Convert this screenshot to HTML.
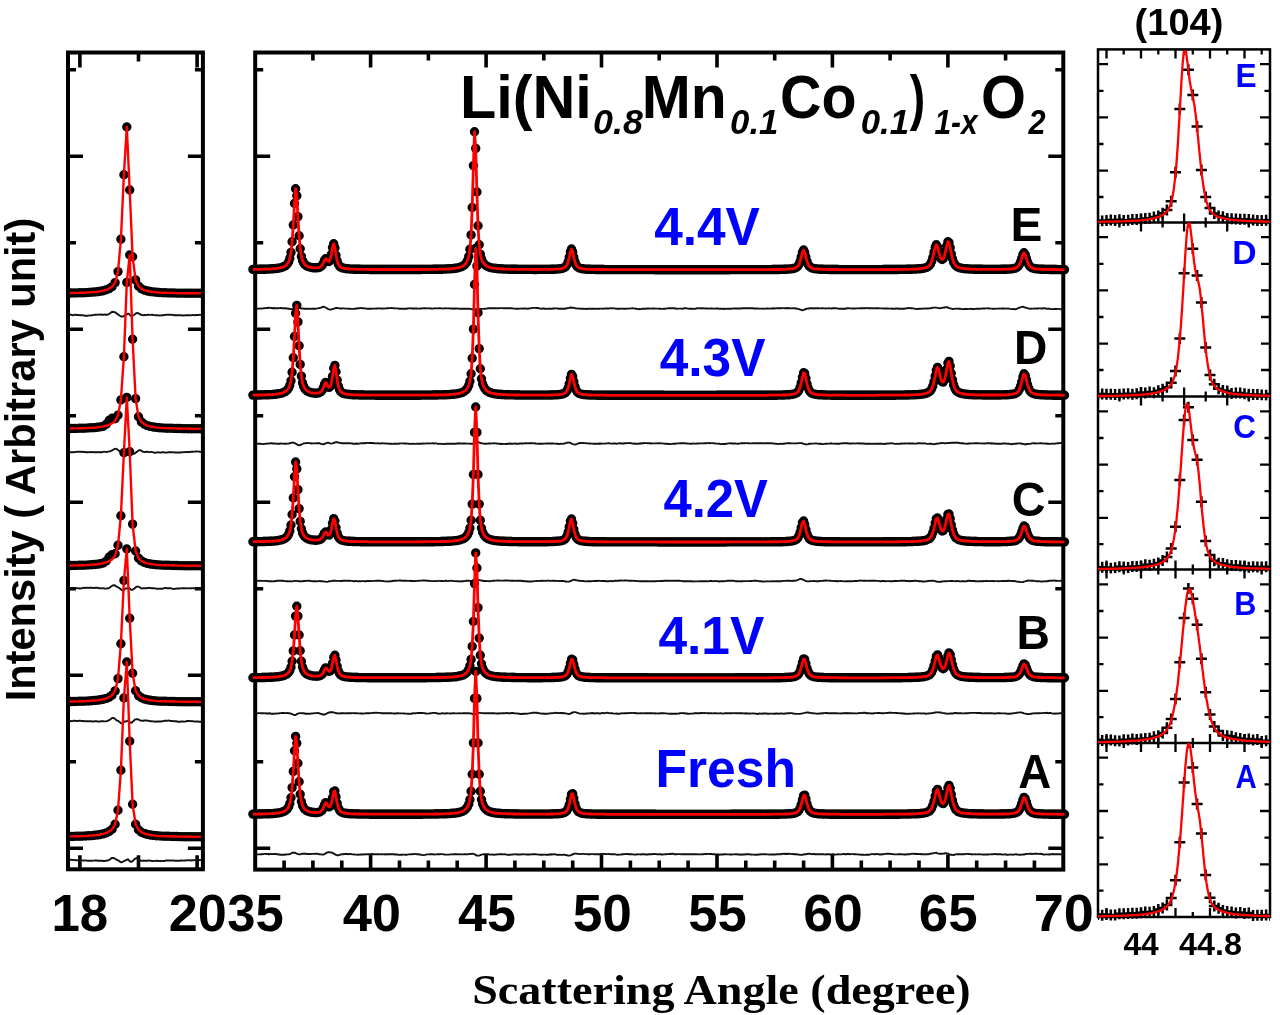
<!DOCTYPE html><html><head><meta charset="utf-8"><title>XRD</title><style>html,body{margin:0;padding:0;background:#fff;overflow:hidden}svg{display:block}text{font-family:"Liberation Sans",Arial,sans-serif;font-weight:bold}</style></head><body>
<svg width="1280" height="1015" viewBox="0 0 1280 1015">
<rect width="1280" height="1015" fill="#fff"/>
<path d="M255.2 69.8H263.2M1055.3 69.8H1063.3M255.2 156.3H270.2M1048.3 156.3H1063.3M255.2 242.8H263.2M1055.3 242.8H1063.3M255.2 329.3H270.2M1048.3 329.3H1063.3M255.2 415.8H263.2M1055.3 415.8H1063.3M255.2 502.3H270.2M1048.3 502.3H1063.3M255.2 588.8H263.2M1055.3 588.8H1063.3M255.2 675.3H270.2M1048.3 675.3H1063.3M255.2 761.8H263.2M1055.3 761.8H1063.3M255.2 848.3H270.2M1048.3 848.3H1063.3M284.1 869.6V860.6M312.9 869.6V860.6M341.8 869.6V860.6M370.6 869.6V854.6M399.5 869.6V860.6M428.4 869.6V860.6M457.2 869.6V860.6M486.1 869.6V854.6M514.9 869.6V860.6M543.8 869.6V860.6M572.7 869.6V860.6M601.5 869.6V854.6M630.4 869.6V860.6M659.2 869.6V860.6M688.1 869.6V860.6M717 869.6V854.6M745.8 869.6V860.6M774.7 869.6V860.6M803.6 869.6V860.6M832.4 869.6V854.6M861.3 869.6V860.6M890.1 869.6V860.6M919 869.6V860.6M947.9 869.6V854.6M976.7 869.6V860.6M1005.6 869.6V860.6M1034.4 869.6V860.6M312.9 52.5V60.5M370.6 52.5V67.5M428.4 52.5V60.5M486.1 52.5V67.5M543.8 52.5V60.5M601.5 52.5V67.5M659.2 52.5V60.5M717 52.5V67.5M774.7 52.5V60.5M832.4 52.5V67.5M890.1 52.5V60.5M947.9 52.5V67.5M1005.6 52.5V60.5" stroke="#000" stroke-width="3.6" fill="none"/>
<rect x="255.2" y="52.5" width="808.1" height="817.1" fill="none" stroke="#000" stroke-width="4"/>
<path d="M68 69.8H76M194.9 69.8H202.9M68 156.3H83M187.9 156.3H202.9M68 242.8H76M194.9 242.8H202.9M68 329.3H83M187.9 329.3H202.9M68 415.8H76M194.9 415.8H202.9M68 502.3H83M187.9 502.3H202.9M68 588.8H76M194.9 588.8H202.9M68 675.3H83M187.9 675.3H202.9M68 761.8H76M194.9 761.8H202.9M68 848.3H83M187.9 848.3H202.9M79.9 869.3V855.3M79.9 52.5V67.5M138.5 869.3V855.3M138.5 52.5V61.5M197.1 869.3V855.3M197.1 52.5V67.5" stroke="#000" stroke-width="3.6" fill="none"/>
<defs><clipPath id="cl"><rect x="68.0" y="52.5" width="134.9" height="816.8"/></clipPath></defs>
<g fill="none" stroke="#111" stroke-width="1.9" stroke-linejoin="round">
<polyline points="255.2,308.5 256.4,308.6 257.5,308.7 258.7,308.6 259.8,308.5 261,308.6 262.1,308.5 263.3,308.4 264.4,308.2 265.6,308.1 266.7,308 267.9,308 269.1,307.8 270.2,307.9 271.4,308 272.5,308.2 273.7,308 274.8,308.2 276,308.2 277.1,308.3 278.3,308.2 279.4,308.1 280.6,308 281.8,308.2 282.9,308.3 284.1,308.3 285.2,308.3 286.4,308.5 287.5,308.5 288.7,308.7 289.8,308.9 291,309 292.1,309.1 293.3,309.2 294.5,309 295.6,308.5 296.8,308.1 297.9,307.9 299.1,307.8 300.2,308.2 301.4,308.5 302.5,308.4 303.7,308.7 304.8,308.7 306,308.7 307.1,308.9 308.3,308.7 309.5,308.7 310.6,308.9 311.8,308.8 312.9,308.8 314.1,308.8 315.2,308.7 316.4,308.6 317.5,308.4 318.7,308.1 319.8,308 321,307.7 322.2,307.1 323.3,306.7 324.5,307 325.6,307.5 326.8,308.2 327.9,308.8 329.1,309.3 330.2,309.6 331.4,309.5 332.5,309 333.7,308.7 334.9,308.3 336,308 337.2,307.9 338.3,308.1 339.5,308.4 340.6,308.5 341.8,308.5 342.9,308.4 344.1,308.4 345.2,308.6 346.4,308.6 347.6,308.6 348.7,308.7 349.9,308.8 351,308.9 352.2,308.9 353.3,308.9 354.5,308.7 355.6,308.7 356.8,308.5 357.9,308.3 359.1,308.2 360.3,308.1 361.4,308 362.6,308.4 363.7,308.3 364.9,308.4 366,308.6 367.2,308.7 368.3,308.7 369.5,308.7 370.6,308.6 371.8,308.7 373,308.6 374.1,308.6 375.3,308.6 376.4,308.5 377.6,308.5 378.7,308.4 379.9,308.4 381,308.5 382.2,308.6 383.3,308.5 384.5,308.6 385.7,308.4 386.8,308.3 388,308.3 389.1,308.1 390.3,308.1 391.4,308 392.6,308.1 393.7,308.2 394.9,308.4 396,308.4 397.2,308.4 398.3,308.5 399.5,308.8 400.7,308.7 401.8,308.8 403,308.7 404.1,308.6 405.3,308.8 406.4,308.7 407.6,308.5 408.7,308.4 409.9,308.4 411,308.3 412.2,308.5 413.4,308.4 414.5,308.5 415.7,308.5 416.8,308.5 418,308.6 419.1,308.6 420.3,308.5 421.4,308.5 422.6,308.4 423.7,308.2 424.9,308.2 426.1,308.4 427.2,308.4 428.4,308.3 429.5,308.4 430.7,308.5 431.8,308.5 433,308.6 434.1,308.4 435.3,308.3 436.4,308.4 437.6,308.4 438.8,308.3 439.9,308.3 441.1,308.4 442.2,308.4 443.4,308.6 444.5,308.4 445.7,308.3 446.8,308.4 448,308.4 449.1,308.4 450.3,308.5 451.5,308.4 452.6,308.5 453.8,308.7 454.9,308.5 456.1,308.5 457.2,308.5 458.4,308.6 459.5,308.8 460.7,308.8 461.8,308.7 463,308.6 464.2,308.7 465.3,308.8 466.5,308.7 467.6,308.7 468.8,308.7 469.9,308.9 471.1,309.2 472.2,309.2 473.4,309.5 474.5,309.5 475.7,309.5 476.9,309.4 478,309.2 479.2,309.1 480.3,309.2 481.5,308.9 482.6,308.9 483.8,308.9 484.9,308.7 486.1,308.6 487.2,308.5 488.4,308.2 489.5,308.1 490.7,308.3 491.9,308.2 493,308.3 494.2,308.3 495.3,308.2 496.5,308.2 497.6,308.4 498.8,308.2 499.9,308.1 501.1,308.1 502.2,308.1 503.4,308.3 504.6,308.3 505.7,308.3 506.9,308.3 508,308.3 509.2,308.3 510.3,308.2 511.5,308.2 512.6,308.4 513.8,308.6 514.9,308.6 516.1,308.8 517.3,308.7 518.4,308.8 519.6,308.6 520.7,308.6 521.9,308.4 523,308.6 524.2,308.5 525.3,308.5 526.5,308.6 527.6,308.7 528.8,308.5 530,308.4 531.1,308.2 532.3,307.9 533.4,307.9 534.6,307.9 535.7,307.9 536.9,308 538,308 539.2,308.3 540.3,308.6 541.5,308.7 542.7,308.5 543.8,308.5 545,308.7 546.1,308.9 547.3,308.8 548.4,308.7 549.6,308.7 550.7,308.6 551.9,308.7 553,308.5 554.2,308.5 555.4,308.4 556.5,308.4 557.7,308.5 558.8,308.8 560,308.6 561.1,308.8 562.3,308.8 563.4,308.6 564.6,308.7 565.7,308.5 566.9,308.3 568.1,308.1 569.2,307.8 570.4,307.5 571.5,307.7 572.7,307.7 573.8,307.8 575,308.2 576.1,308.4 577.3,308.6 578.4,308.5 579.6,308.6 580.7,308.7 581.9,308.8 583.1,308.7 584.2,308.8 585.4,308.9 586.5,309 587.7,308.8 588.8,308.7 590,308.8 591.1,308.8 592.3,308.8 593.4,308.7 594.6,308.7 595.8,308.8 596.9,308.9 598.1,308.7 599.2,308.7 600.4,308.6 601.5,308.6 602.7,308.8 603.8,308.6 605,308.5 606.1,308.5 607.3,308.5 608.5,308.5 609.6,308.4 610.8,308.3 611.9,308.4 613.1,308.3 614.2,308.4 615.4,308.6 616.5,308.7 617.7,308.6 618.8,308.7 620,308.7 621.2,308.6 622.3,308.6 623.5,308.7 624.6,308.7 625.8,308.7 626.9,308.6 628.1,308.6 629.2,308.6 630.4,308.4 631.5,308.4 632.7,308.3 633.9,308.4 635,308.7 636.2,308.7 637.3,308.9 638.5,309.2 639.6,309 640.8,309.1 641.9,308.8 643.1,308.7 644.2,308.8 645.4,308.8 646.6,308.5 647.7,308.5 648.9,308.5 650,308.6 651.2,308.6 652.3,308.5 653.5,308.4 654.6,308.5 655.8,308.6 656.9,308.6 658.1,308.6 659.2,308.7 660.4,308.8 661.6,308.9 662.7,308.9 663.9,308.7 665,308.8 666.2,308.6 667.3,308.4 668.5,308.3 669.6,308.3 670.8,308.3 671.9,308.3 673.1,308.2 674.3,308.3 675.4,308.5 676.6,308.7 677.7,308.6 678.9,308.6 680,308.6 681.2,308.6 682.3,308.7 683.5,308.5 684.6,308.3 685.8,308.2 687,308.4 688.1,308.6 689.3,308.7 690.4,308.7 691.6,308.8 692.7,308.8 693.9,308.9 695,308.7 696.2,308.5 697.3,308.2 698.5,308.4 699.7,308.3 700.8,308.3 702,308.5 703.1,308.3 704.3,308.4 705.4,308.5 706.6,308.5 707.7,308.5 708.9,308.6 710,308.5 711.2,308.5 712.4,308.5 713.5,308.6 714.7,308.6 715.8,308.4 717,308.5 718.1,308.5 719.3,308.8 720.4,308.8 721.6,308.7 722.7,308.6 723.9,309 725.1,308.8 726.2,308.9 727.4,308.7 728.5,308.8 729.7,308.7 730.8,308.7 732,308.6 733.1,308.5 734.3,308.4 735.4,308.5 736.6,308.4 737.8,308.5 738.9,308.5 740.1,308.4 741.2,308.5 742.4,308.3 743.5,308.2 744.7,308.2 745.8,308.2 747,308.2 748.1,308.3 749.3,308.2 750.4,308.3 751.6,308.2 752.8,308.2 753.9,308.5 755.1,308.4 756.2,308.5 757.4,308.5 758.5,308.6 759.7,308.6 760.8,308.6 762,308.6 763.1,308.7 764.3,308.6 765.5,308.6 766.6,308.5 767.8,308.5 768.9,308.6 770.1,308.6 771.2,308.5 772.4,308.5 773.5,308.3 774.7,308.5 775.8,308.4 777,308.2 778.2,308.1 779.3,308.3 780.5,308.2 781.6,308.2 782.8,308.1 783.9,308.1 785.1,308.3 786.2,308.2 787.4,308 788.5,308.3 789.7,308.3 790.9,308.4 792,308.4 793.2,308.3 794.3,308.2 795.5,308.5 796.6,308.5 797.8,308.8 798.9,309.1 800.1,309.5 801.2,309.8 802.4,310.3 803.6,309.9 804.7,309.5 805.9,309 807,308.6 808.2,308.5 809.3,308.5 810.5,308.2 811.6,308.1 812.8,308.3 813.9,308.5 815.1,308.3 816.3,308.3 817.4,308.1 818.6,308.3 819.7,308.4 820.9,308.4 822,308.1 823.2,308.3 824.3,308.4 825.5,308.5 826.6,308.4 827.8,308.4 829,308.3 830.1,308.4 831.3,308.5 832.4,308.3 833.6,308.2 834.7,308.2 835.9,308.2 837,308.4 838.2,308.6 839.3,308.8 840.5,308.8 841.6,308.7 842.8,308.8 844,308.8 845.1,308.7 846.3,308.5 847.4,308.3 848.6,308.3 849.7,308.4 850.9,308.4 852,308.5 853.2,308.5 854.3,308.4 855.5,308.5 856.7,308.4 857.8,308.4 859,308.4 860.1,308.2 861.3,308.3 862.4,308.3 863.6,308.2 864.7,308.3 865.9,308 867,308.1 868.2,308.2 869.4,308.2 870.5,308.3 871.7,308.3 872.8,308.2 874,308.4 875.1,308.3 876.3,308.3 877.4,308.2 878.6,308.3 879.7,308.4 880.9,308.4 882.1,308.4 883.2,308.5 884.4,308.4 885.5,308.5 886.7,308.5 887.8,308.5 889,308.6 890.1,308.6 891.3,308.5 892.4,308.7 893.6,308.7 894.8,308.7 895.9,308.5 897.1,308.5 898.2,308.7 899.4,308.8 900.5,308.8 901.7,308.6 902.8,308.7 904,308.8 905.1,308.5 906.3,308.4 907.5,308.2 908.6,308 909.8,308.1 910.9,308.2 912.1,308.1 913.2,308.4 914.4,308.6 915.5,308.9 916.7,309 917.8,309 919,308.8 920.2,308.7 921.3,308.7 922.5,308.6 923.6,308.5 924.8,308.6 925.9,308.5 927.1,308.5 928.2,308.5 929.4,308.4 930.5,308.2 931.7,308 932.8,307.6 934,307.6 935.2,307.6 936.3,307.6 937.5,307.9 938.6,308.1 939.8,308.3 940.9,308.1 942.1,307.8 943.2,307.6 944.4,307.5 945.5,307.1 946.7,307.2 947.9,307.5 949,308.1 950.2,308.4 951.3,308.7 952.5,309 953.6,308.9 954.8,308.8 955.9,308.6 957.1,308.6 958.2,308.7 959.4,308.8 960.6,308.8 961.7,309.1 962.9,309.1 964,309 965.2,309 966.3,308.9 967.5,309 968.6,308.9 969.8,308.9 970.9,308.8 972.1,309 973.3,309 974.4,309.1 975.6,308.8 976.7,308.8 977.9,308.8 979,308.8 980.2,308.8 981.3,308.6 982.5,308.4 983.6,308.5 984.8,308.5 986,308.4 987.1,308.4 988.3,308.3 989.4,308.5 990.6,308.6 991.7,308.6 992.9,308.7 994,308.9 995.2,308.7 996.3,308.6 997.5,308.6 998.7,308.6 999.8,308.5 1001,308.6 1002.1,308.4 1003.3,308.5 1004.4,308.5 1005.6,308.6 1006.7,308.6 1007.9,308.5 1009,308.6 1010.2,308.9 1011.4,309.1 1012.5,309.1 1013.7,309 1014.8,309.2 1016,309.1 1017.1,308.7 1018.3,308.2 1019.4,307.7 1020.6,307.3 1021.7,306.9 1022.9,306.7 1024,307.1 1025.2,307.5 1026.4,307.9 1027.5,308.2 1028.7,308.5 1029.8,308.6 1031,308.8 1032.1,308.6 1033.3,308.6 1034.4,308.5 1035.6,308.6 1036.7,308.5 1037.9,308.5 1039.1,308.4 1040.2,308.4 1041.4,308.5 1042.5,308.5 1043.7,308.3 1044.8,308.2 1046,308.6 1047.1,308.7 1048.3,308.7 1049.4,308.7 1050.6,309.1 1051.8,309.1 1052.9,309.1 1054.1,309 1055.2,309 1056.4,309 1057.5,308.9 1058.7,308.9 1059.8,309.1 1061,309.2 1062.1,309.1 1063.3,308.9"/>
<polyline points="255.2,443.2 256.4,443.4 257.5,443.6 258.7,443.7 259.8,443.8 261,443.8 262.1,444.1 263.3,444.1 264.4,443.9 265.6,443.7 266.7,443.6 267.9,443.5 269.1,443.6 270.2,443.3 271.4,443.3 272.5,443.5 273.7,443.5 274.8,443.5 276,443.6 277.1,443.7 278.3,443.6 279.4,443.7 280.6,443.5 281.8,443.6 282.9,443.6 284.1,443.7 285.2,443.6 286.4,443.7 287.5,443.6 288.7,443.6 289.8,443.2 291,443 292.1,442.6 293.3,442.6 294.5,442.9 295.6,443.7 296.8,444.2 297.9,445 299.1,445.2 300.2,445 301.4,444.5 302.5,444 303.7,443.4 304.8,443.3 306,443.1 307.1,443 308.3,443.1 309.5,443.1 310.6,443.3 311.8,443.5 312.9,443.4 314.1,443.4 315.2,443.4 316.4,443.3 317.5,443.3 318.7,443.2 319.8,443.3 321,443.8 322.2,444.1 323.3,444.3 324.5,444 325.6,443.4 326.8,442.9 327.9,442.8 329.1,442.9 330.2,443.3 331.4,443.6 332.5,443.4 333.7,442.9 334.9,442.5 336,442.2 337.2,442.1 338.3,442.5 339.5,442.8 340.6,443.1 341.8,443.2 342.9,443.2 344.1,443.2 345.2,443.3 346.4,443.2 347.6,443.1 348.7,443.3 349.9,443.3 351,443.4 352.2,443.5 353.3,443.7 354.5,443.6 355.6,443.7 356.8,443.5 357.9,443.7 359.1,443.6 360.3,443.4 361.4,443.2 362.6,443.2 363.7,443.2 364.9,443.2 366,443 367.2,442.9 368.3,442.9 369.5,443 370.6,443 371.8,443 373,443 374.1,443.2 375.3,443.4 376.4,443.4 377.6,443.3 378.7,443.4 379.9,443.5 381,443.4 382.2,443.3 383.3,443.4 384.5,443.4 385.7,443.6 386.8,443.5 388,443.6 389.1,443.7 390.3,443.7 391.4,443.8 392.6,443.9 393.7,443.7 394.9,443.7 396,443.7 397.2,443.8 398.3,443.8 399.5,443.5 400.7,443.4 401.8,443.4 403,443.4 404.1,443.5 405.3,443.4 406.4,443.5 407.6,443.6 408.7,443.7 409.9,443.9 411,443.9 412.2,443.8 413.4,443.8 414.5,443.9 415.7,443.9 416.8,443.8 418,443.7 419.1,443.7 420.3,443.6 421.4,443.7 422.6,443.5 423.7,443.6 424.9,443.6 426.1,443.4 427.2,443.4 428.4,443.5 429.5,443.4 430.7,443.4 431.8,443.4 433,443.3 434.1,443.5 435.3,443.4 436.4,443.4 437.6,443.7 438.8,443.9 439.9,443.8 441.1,443.9 442.2,443.9 443.4,444 444.5,444.1 445.7,443.8 446.8,443.7 448,443.7 449.1,443.7 450.3,443.8 451.5,443.7 452.6,443.6 453.8,443.8 454.9,443.7 456.1,443.7 457.2,443.5 458.4,443.3 459.5,443.5 460.7,443.5 461.8,443.5 463,443.5 464.2,443.5 465.3,443.5 466.5,443.6 467.6,443.6 468.8,443.6 469.9,443.6 471.1,443.8 472.2,443.8 473.4,443.7 474.5,443.6 475.7,443 476.9,442.3 478,442.3 479.2,442.5 480.3,443 481.5,443.4 482.6,443.4 483.8,443.6 484.9,443.7 486.1,443.7 487.2,443.6 488.4,443.5 489.5,443.5 490.7,443.5 491.9,443.4 493,443.4 494.2,443.3 495.3,443.4 496.5,443.5 497.6,443.6 498.8,443.7 499.9,443.8 501.1,444 502.2,444 503.4,443.9 504.6,443.9 505.7,444 506.9,444 508,443.8 509.2,443.5 510.3,443.7 511.5,443.7 512.6,443.7 513.8,443.6 514.9,443.5 516.1,443.7 517.3,443.8 518.4,443.8 519.6,443.5 520.7,443.5 521.9,443.4 523,443.5 524.2,443.4 525.3,443.3 526.5,443.3 527.6,443.4 528.8,443.3 530,443.2 531.1,443.1 532.3,443.2 533.4,443.4 534.6,443.3 535.7,443.5 536.9,443.6 538,443.7 539.2,443.8 540.3,443.8 541.5,443.7 542.7,443.7 543.8,443.6 545,443.6 546.1,443.5 547.3,443.5 548.4,443.4 549.6,443.5 550.7,443.4 551.9,443.5 553,443.5 554.2,443.6 555.4,443.6 556.5,443.7 557.7,443.8 558.8,444 560,443.9 561.1,443.8 562.3,443.9 563.4,443.6 564.6,443.5 565.7,443.1 566.9,442.7 568.1,442.6 569.2,442.5 570.4,442.9 571.5,443.5 572.7,444.1 573.8,444.4 575,444.6 576.1,444.2 577.3,443.8 578.4,443.4 579.6,443 580.7,442.9 581.9,443.1 583.1,442.9 584.2,443.1 585.4,443.1 586.5,443.3 587.7,443.4 588.8,443.5 590,443.4 591.1,443.6 592.3,443.6 593.4,443.7 594.6,443.6 595.8,443.7 596.9,443.7 598.1,443.7 599.2,443.5 600.4,443.7 601.5,443.5 602.7,443.6 603.8,443.6 605,443.6 606.1,443.4 607.3,443.4 608.5,443.1 609.6,443.3 610.8,443.6 611.9,443.6 613.1,443.5 614.2,443.5 615.4,443.5 616.5,443.7 617.7,443.6 618.8,443.3 620,443.3 621.2,443.5 622.3,443.5 623.5,443.5 624.6,443.3 625.8,443.3 626.9,443.1 628.1,443.1 629.2,443 630.4,443.1 631.5,443.3 632.7,443.6 633.9,443.5 635,443.8 636.2,443.8 637.3,443.8 638.5,443.7 639.6,443.5 640.8,443.3 641.9,443.5 643.1,443.2 644.2,443 645.4,443.1 646.6,443.1 647.7,443.2 648.9,443.3 650,443.2 651.2,443.5 652.3,443.4 653.5,443.4 654.6,443.4 655.8,443.4 656.9,443.4 658.1,443.3 659.2,443.2 660.4,443.4 661.6,443.4 662.7,443.4 663.9,443.6 665,443.8 666.2,443.7 667.3,443.8 668.5,444 669.6,444 670.8,444.1 671.9,443.9 673.1,443.6 674.3,443.7 675.4,443.7 676.6,443.5 677.7,443.4 678.9,443.4 680,443.3 681.2,443.3 682.3,443.3 683.5,443.3 684.6,443.3 685.8,443.4 687,443.5 688.1,443.6 689.3,443.6 690.4,443.7 691.6,443.7 692.7,443.6 693.9,443.5 695,443.6 696.2,443.6 697.3,443.5 698.5,443.5 699.7,443.4 700.8,443.4 702,443.4 703.1,443.4 704.3,443.3 705.4,443.2 706.6,443.2 707.7,443.1 708.9,443 710,443.2 711.2,443.1 712.4,443.1 713.5,443.2 714.7,443.4 715.8,443.6 717,443.6 718.1,443.6 719.3,443.8 720.4,444 721.6,444.1 722.7,444 723.9,444 725.1,444 726.2,443.8 727.4,443.6 728.5,443.4 729.7,443.4 730.8,443.3 732,443.5 733.1,443.5 734.3,443.5 735.4,443.5 736.6,443.6 737.8,443.7 738.9,443.7 740.1,443.4 741.2,443.3 742.4,443.3 743.5,443.3 744.7,443.3 745.8,443.1 747,443.1 748.1,443.2 749.3,443.4 750.4,443.4 751.6,443.4 752.8,443.2 753.9,443.2 755.1,443.4 756.2,443.2 757.4,443.1 758.5,443.2 759.7,443.2 760.8,443.2 762,443.3 763.1,443.2 764.3,443.4 765.5,443.2 766.6,443.2 767.8,443.2 768.9,443.2 770.1,443.2 771.2,443.3 772.4,443.4 773.5,443.5 774.7,443.6 775.8,443.7 777,443.9 778.2,444 779.3,443.9 780.5,443.8 781.6,443.9 782.8,443.7 783.9,443.7 785.1,443.5 786.2,443.4 787.4,443.2 788.5,443.2 789.7,443.1 790.9,443.3 792,443.4 793.2,443.4 794.3,443.4 795.5,443.4 796.6,443.4 797.8,443.3 798.9,443.1 800.1,443.1 801.2,443.1 802.4,443.3 803.6,443.8 804.7,444.1 805.9,444.3 807,444.4 808.2,444.2 809.3,443.7 810.5,443.7 811.6,443.6 812.8,443.6 813.9,443.6 815.1,443.4 816.3,443.4 817.4,443.6 818.6,443.7 819.7,443.7 820.9,443.8 822,444 823.2,444.1 824.3,443.9 825.5,443.8 826.6,443.8 827.8,443.6 829,443.6 830.1,443.5 831.3,443.3 832.4,443.6 833.6,443.6 834.7,443.6 835.9,443.7 837,443.8 838.2,443.8 839.3,443.7 840.5,443.5 841.6,443.4 842.8,443.3 844,443.2 845.1,443.3 846.3,443.2 847.4,443.3 848.6,443.5 849.7,443.5 850.9,443.5 852,443.5 853.2,443.4 854.3,443.4 855.5,443.6 856.7,443.4 857.8,443.3 859,443.5 860.1,443.5 861.3,443.4 862.4,443.5 863.6,443.4 864.7,443.7 865.9,443.7 867,443.8 868.2,443.8 869.4,443.8 870.5,443.8 871.7,443.9 872.8,443.8 874,443.9 875.1,443.7 876.3,443.7 877.4,443.7 878.6,443.7 879.7,443.8 880.9,443.7 882.1,443.7 883.2,443.9 884.4,444 885.5,443.8 886.7,443.7 887.8,443.4 889,443.5 890.1,443.4 891.3,443.3 892.4,443.4 893.6,443.6 894.8,443.8 895.9,443.9 897.1,443.8 898.2,443.9 899.4,443.8 900.5,443.7 901.7,443.5 902.8,443.6 904,443.4 905.1,443.5 906.3,443.4 907.5,443.4 908.6,443.5 909.8,443.5 910.9,443.4 912.1,443.5 913.2,443.5 914.4,443.6 915.5,443.6 916.7,443.5 917.8,443.3 919,443.2 920.2,443.3 921.3,443.4 922.5,443.5 923.6,443.4 924.8,443.3 925.9,443.6 927.1,443.9 928.2,443.9 929.4,443.8 930.5,443.7 931.7,443.8 932.8,444.2 934,444.1 935.2,444 936.3,443.8 937.5,443.5 938.6,443.6 939.8,443.3 940.9,443 942.1,443.1 943.2,443.1 944.4,443.2 945.5,443.3 946.7,443.1 947.9,443 949,443 950.2,442.9 951.3,442.7 952.5,442.7 953.6,442.7 954.8,442.7 955.9,442.8 957.1,442.7 958.2,442.8 959.4,443 960.6,443.3 961.7,443.2 962.9,443.3 964,443.5 965.2,443.6 966.3,443.6 967.5,443.7 968.6,443.5 969.8,443.5 970.9,443.4 972.1,443.4 973.3,443.4 974.4,443.3 975.6,443.1 976.7,443.2 977.9,443.3 979,443.4 980.2,443.4 981.3,443.4 982.5,443.4 983.6,443.5 984.8,443.5 986,443.4 987.1,443.2 988.3,443.1 989.4,443.2 990.6,443.5 991.7,443.3 992.9,443.5 994,443.4 995.2,443.7 996.3,443.8 997.5,443.8 998.7,443.7 999.8,443.8 1001,443.6 1002.1,443.7 1003.3,443.4 1004.4,443.5 1005.6,443.5 1006.7,443.6 1007.9,443.7 1009,443.7 1010.2,443.9 1011.4,444.3 1012.5,444 1013.7,443.9 1014.8,443.7 1016,443.7 1017.1,443.5 1018.3,443.4 1019.4,443.4 1020.6,443.5 1021.7,443.7 1022.9,443.9 1024,444.2 1025.2,444.2 1026.4,444.2 1027.5,444 1028.7,443.9 1029.8,443.9 1031,443.6 1032.1,443.4 1033.3,443.3 1034.4,443.2 1035.6,443.5 1036.7,443.4 1037.9,443.4 1039.1,443.4 1040.2,443.3 1041.4,443.3 1042.5,443.4 1043.7,443.5 1044.8,443.6 1046,443.5 1047.1,443.7 1048.3,443.7 1049.4,443.9 1050.6,443.8 1051.8,443.6 1052.9,443.6 1054.1,443.7 1055.2,443.6 1056.4,443.4 1057.5,443.3 1058.7,443.2 1059.8,443.1 1061,443 1062.1,443.1 1063.3,443.1"/>
<polyline points="255.2,580.8 256.4,580.7 257.5,580.8 258.7,580.9 259.8,580.7 261,580.9 262.1,580.9 263.3,580.9 264.4,580.9 265.6,580.9 266.7,581 267.9,581.1 269.1,581.3 270.2,581.3 271.4,581.3 272.5,581.4 273.7,581.3 274.8,581.2 276,581 277.1,580.8 278.3,580.7 279.4,580.7 280.6,580.7 281.8,580.8 282.9,580.7 284.1,581 285.2,581.1 286.4,581.3 287.5,581.2 288.7,581.4 289.8,581.3 291,581.4 292.1,581.4 293.3,581.1 294.5,580.9 295.6,580.9 296.8,580.9 297.9,581.1 299.1,581.3 300.2,581.1 301.4,581.4 302.5,581.2 303.7,581 304.8,581 306,580.9 307.1,580.8 308.3,580.9 309.5,580.7 310.6,581 311.8,581.1 312.9,581.3 314.1,581.2 315.2,581.2 316.4,581.2 317.5,581.4 318.7,581.1 319.8,581 321,581.3 322.2,581.2 323.3,581.4 324.5,581.6 325.6,581.6 326.8,581.9 327.9,581.6 329.1,581.2 330.2,581.3 331.4,581.1 332.5,580.8 333.7,580.8 334.9,580.6 336,580.9 337.2,580.9 338.3,580.9 339.5,580.9 340.6,581 341.8,581 342.9,580.8 344.1,580.7 345.2,580.7 346.4,580.6 347.6,580.8 348.7,580.7 349.9,580.6 351,580.9 352.2,580.9 353.3,581.2 354.5,581.3 355.6,581 356.8,581.1 357.9,581.3 359.1,581.3 360.3,581.3 361.4,581.1 362.6,581.1 363.7,581.1 364.9,581.3 366,581.2 367.2,581 368.3,581 369.5,581 370.6,581.1 371.8,581.1 373,580.9 374.1,580.9 375.3,580.9 376.4,580.8 377.6,580.8 378.7,580.7 379.9,580.7 381,580.9 382.2,581 383.3,581.1 384.5,581.4 385.7,581.4 386.8,581.4 388,581.5 389.1,581.4 390.3,581.3 391.4,581.3 392.6,581 393.7,580.8 394.9,580.8 396,580.7 397.2,580.6 398.3,580.6 399.5,580.5 400.7,580.5 401.8,580.7 403,580.7 404.1,580.7 405.3,580.7 406.4,580.8 407.6,580.9 408.7,580.9 409.9,580.8 411,581 412.2,580.9 413.4,581 414.5,581.1 415.7,581 416.8,580.9 418,580.9 419.1,580.7 420.3,580.6 421.4,580.6 422.6,580.5 423.7,580.4 424.9,580.5 426.1,580.6 427.2,580.7 428.4,580.8 429.5,580.9 430.7,581.1 431.8,581.1 433,581.1 434.1,581.1 435.3,581 436.4,581.1 437.6,581.1 438.8,580.9 439.9,580.9 441.1,581 442.2,581 443.4,581.1 444.5,581 445.7,580.8 446.8,580.8 448,581.1 449.1,580.9 450.3,580.9 451.5,580.8 452.6,580.9 453.8,581.1 454.9,581.1 456.1,581.1 457.2,581.2 458.4,581.3 459.5,581.4 460.7,581.5 461.8,581.3 463,581.3 464.2,581.1 465.3,581 466.5,580.7 467.6,580.8 468.8,580.7 469.9,580.9 471.1,581 472.2,581.1 473.4,581.1 474.5,580.9 475.7,580.2 476.9,579.9 478,579.9 479.2,580.1 480.3,580.4 481.5,580.5 482.6,580.7 483.8,581 484.9,580.9 486.1,581 487.2,581.1 488.4,581.1 489.5,581.2 490.7,581.1 491.9,580.9 493,580.8 494.2,580.7 495.3,580.6 496.5,580.6 497.6,580.5 498.8,580.4 499.9,580.6 501.1,580.6 502.2,580.6 503.4,580.6 504.6,580.5 505.7,580.4 506.9,580.5 508,580.5 509.2,580.6 510.3,580.7 511.5,580.7 512.6,580.7 513.8,580.8 514.9,580.9 516.1,580.7 517.3,580.8 518.4,580.7 519.6,580.7 520.7,580.8 521.9,581 523,581 524.2,581.2 525.3,581.1 526.5,581.3 527.6,581.5 528.8,581.4 530,581.5 531.1,581.5 532.3,581.4 533.4,581.3 534.6,581.1 535.7,581.1 536.9,581 538,580.9 539.2,580.9 540.3,581 541.5,580.8 542.7,580.9 543.8,580.8 545,580.9 546.1,580.8 547.3,580.6 548.4,580.6 549.6,580.8 550.7,580.9 551.9,580.6 553,580.8 554.2,580.7 555.4,581 556.5,580.9 557.7,580.9 558.8,581 560,581.1 561.1,581 562.3,581 563.4,580.9 564.6,581.2 565.7,581.7 566.9,581.6 568.1,581.6 569.2,581.5 570.4,581.1 571.5,580.6 572.7,580.1 573.8,579.7 575,579.9 576.1,580.3 577.3,580.4 578.4,580.7 579.6,580.7 580.7,580.9 581.9,581 583.1,580.9 584.2,581.1 585.4,581.4 586.5,581.4 587.7,581.3 588.8,581.2 590,581.3 591.1,581.3 592.3,581.1 593.4,581.1 594.6,581 595.8,581 596.9,581 598.1,580.8 599.2,580.9 600.4,580.9 601.5,581 602.7,581 603.8,581 605,581 606.1,581.2 607.3,581.2 608.5,581.3 609.6,581.1 610.8,581 611.9,581.2 613.1,581.1 614.2,580.8 615.4,580.8 616.5,580.7 617.7,580.7 618.8,580.7 620,580.5 621.2,580.5 622.3,580.6 623.5,580.6 624.6,580.4 625.8,580.5 626.9,580.5 628.1,580.6 629.2,580.7 630.4,580.7 631.5,580.6 632.7,580.9 633.9,580.8 635,580.9 636.2,581 637.3,581.1 638.5,581.1 639.6,581.3 640.8,581.1 641.9,581.3 643.1,581.2 644.2,581.1 645.4,581.2 646.6,581.2 647.7,581.1 648.9,581.4 650,581.3 651.2,581.3 652.3,581.4 653.5,581.2 654.6,581.2 655.8,581.3 656.9,581.1 658.1,581 659.2,581.1 660.4,581 661.6,581 662.7,581 663.9,580.7 665,580.7 666.2,580.7 667.3,580.7 668.5,580.7 669.6,580.7 670.8,580.7 671.9,580.9 673.1,580.8 674.3,580.7 675.4,580.7 676.6,580.7 677.7,580.7 678.9,580.6 680,580.8 681.2,580.9 682.3,581.2 683.5,581.3 684.6,581.1 685.8,581.3 687,581.3 688.1,581.3 689.3,581.2 690.4,581.2 691.6,581.3 692.7,581.5 693.9,581.4 695,581.4 696.2,581.4 697.3,581.4 698.5,581.4 699.7,581.2 700.8,581.3 702,581.3 703.1,581.3 704.3,581.3 705.4,581.2 706.6,581.3 707.7,581.4 708.9,581.1 710,581 711.2,580.9 712.4,581.1 713.5,581.2 714.7,581.1 715.8,581 717,581.1 718.1,581.3 719.3,581.5 720.4,581.2 721.6,581.2 722.7,581.2 723.9,581.2 725.1,581.1 726.2,581.1 727.4,580.7 728.5,580.8 729.7,580.8 730.8,580.7 732,580.7 733.1,580.8 734.3,580.9 735.4,581.2 736.6,581.3 737.8,581.2 738.9,581.3 740.1,581.4 741.2,581.2 742.4,581.2 743.5,581.1 744.7,581.1 745.8,581.1 747,581.1 748.1,581.1 749.3,581.1 750.4,581 751.6,581 752.8,580.9 753.9,580.8 755.1,580.8 756.2,580.8 757.4,580.9 758.5,581.1 759.7,581.2 760.8,581.2 762,581.5 763.1,581.5 764.3,581.6 765.5,581.4 766.6,581.3 767.8,581.4 768.9,581.4 770.1,581.4 771.2,581.3 772.4,581.4 773.5,581.2 774.7,581.4 775.8,581.2 777,581.2 778.2,581.1 779.3,581.3 780.5,581.1 781.6,581.2 782.8,580.9 783.9,580.9 785.1,580.9 786.2,580.8 787.4,580.7 788.5,580.7 789.7,580.7 790.9,580.9 792,581 793.2,580.8 794.3,580.7 795.5,580.6 796.6,580.4 797.8,580 798.9,579.5 800.1,578.9 801.2,579 802.4,579.3 803.6,579.9 804.7,580.5 805.9,581.1 807,581.3 808.2,581.4 809.3,581.3 810.5,581.1 811.6,581.1 812.8,581.1 813.9,581 815.1,581.1 816.3,581.2 817.4,581.3 818.6,581.2 819.7,581 820.9,580.9 822,580.9 823.2,580.8 824.3,580.7 825.5,580.5 826.6,580.4 827.8,580.6 829,580.6 830.1,580.7 831.3,580.9 832.4,580.9 833.6,581 834.7,581.1 835.9,581 837,581.2 838.2,581.2 839.3,581.1 840.5,581 841.6,581.1 842.8,581.1 844,581.4 845.1,581.4 846.3,581.2 847.4,581.3 848.6,581.2 849.7,581.2 850.9,581.2 852,581.2 853.2,581.1 854.3,581 855.5,580.9 856.7,581 857.8,580.9 859,580.8 860.1,580.5 861.3,580.6 862.4,580.7 863.6,580.7 864.7,580.8 865.9,580.8 867,580.9 868.2,580.8 869.4,580.7 870.5,580.8 871.7,580.7 872.8,580.6 874,580.7 875.1,580.7 876.3,580.9 877.4,580.9 878.6,580.9 879.7,581.2 880.9,581.2 882.1,581 883.2,580.9 884.4,581 885.5,581.2 886.7,581.1 887.8,581.1 889,581.1 890.1,581.2 891.3,581.3 892.4,581.3 893.6,581 894.8,581 895.9,581 897.1,581 898.2,580.9 899.4,580.9 900.5,580.8 901.7,580.7 902.8,580.7 904,580.6 905.1,580.7 906.3,581 907.5,581 908.6,581 909.8,581.2 910.9,581 912.1,580.9 913.2,581 914.4,580.8 915.5,580.7 916.7,580.9 917.8,581 919,581.2 920.2,581.3 921.3,581.3 922.5,581.5 923.6,581.5 924.8,581.5 925.9,581.4 927.1,581.2 928.2,581 929.4,580.9 930.5,580.8 931.7,580.9 932.8,580.7 934,580.9 935.2,581.1 936.3,581.5 937.5,581.7 938.6,581.9 939.8,581.7 940.9,581.7 942.1,581.5 943.2,581.4 944.4,581.2 945.5,581.1 946.7,581.2 947.9,581.1 949,581.1 950.2,581 951.3,581 952.5,580.9 953.6,581.1 954.8,581.1 955.9,581.2 957.1,581 958.2,581.1 959.4,581.2 960.6,581.4 961.7,581.3 962.9,581.2 964,581.2 965.2,581.4 966.3,581.2 967.5,581 968.6,580.8 969.8,580.8 970.9,581 972.1,581 973.3,580.9 974.4,581 975.6,581.3 976.7,581.3 977.9,581.4 979,581.3 980.2,581.3 981.3,581.3 982.5,581.3 983.6,581 984.8,581.1 986,580.9 987.1,581 988.3,581.1 989.4,581.1 990.6,581 991.7,581.1 992.9,581 994,581.2 995.2,581.1 996.3,581.1 997.5,581.1 998.7,581.2 999.8,581.1 1001,581.1 1002.1,581 1003.3,581 1004.4,581 1005.6,581.1 1006.7,580.8 1007.9,581 1009,580.8 1010.2,580.8 1011.4,581.1 1012.5,581 1013.7,580.9 1014.8,581.2 1016,581.3 1017.1,581.6 1018.3,581.9 1019.4,581.8 1020.6,582.1 1021.7,582.1 1022.9,582 1024,581.7 1025.2,581.4 1026.4,580.9 1027.5,580.7 1028.7,580.5 1029.8,580.6 1031,580.8 1032.1,580.7 1033.3,580.8 1034.4,580.9 1035.6,581.1 1036.7,581.2 1037.9,581.3 1039.1,581.3 1040.2,581.4 1041.4,581.5 1042.5,581.6 1043.7,581.3 1044.8,581.4 1046,581.3 1047.1,581.2 1048.3,581 1049.4,580.8 1050.6,580.6 1051.8,580.7 1052.9,580.6 1054.1,580.5 1055.2,580.7 1056.4,580.8 1057.5,580.9 1058.7,580.9 1059.8,580.9 1061,580.8 1062.1,580.8 1063.3,580.7"/>
<polyline points="255.2,713.4 256.4,713.1 257.5,713.4 258.7,713.1 259.8,713.1 261,713.3 262.1,713.2 263.3,713.3 264.4,713.4 265.6,713.2 266.7,713.5 267.9,713.5 269.1,713.3 270.2,713.5 271.4,713.7 272.5,713.7 273.7,713.7 274.8,713.6 276,713.5 277.1,713.6 278.3,713.4 279.4,713.3 280.6,713.1 281.8,713 282.9,713 284.1,713 285.2,713.1 286.4,713.1 287.5,712.9 288.7,713.3 289.8,713.3 291,713.7 292.1,714.1 293.3,714.6 294.5,715 295.6,715 296.8,714.2 297.9,713.6 299.1,713.3 300.2,713.1 301.4,713.1 302.5,713.2 303.7,713.3 304.8,713.5 306,713.7 307.1,713.8 308.3,713.7 309.5,713.7 310.6,713.6 311.8,713.5 312.9,713.4 314.1,713.3 315.2,713.1 316.4,713.1 317.5,712.9 318.7,713.1 319.8,713.5 321,713.8 322.2,714.3 323.3,714.5 324.5,714.5 325.6,714.3 326.8,713.5 327.9,712.8 329.1,712.5 330.2,712.3 331.4,712.2 332.5,712.3 333.7,712.4 334.9,712.8 336,713.2 337.2,713.3 338.3,713.4 339.5,713.5 340.6,713.3 341.8,713.3 342.9,713.2 344.1,713.3 345.2,713.4 346.4,713.3 347.6,713.3 348.7,713.3 349.9,713.3 351,713.2 352.2,713.1 353.3,713.1 354.5,713.2 355.6,713.2 356.8,713.3 357.9,713.4 359.1,713.4 360.3,713.5 361.4,713.4 362.6,713.5 363.7,713.6 364.9,713.4 366,713.2 367.2,713.2 368.3,713.2 369.5,713.2 370.6,713.1 371.8,713.1 373,712.8 374.1,712.9 375.3,712.8 376.4,712.8 377.6,712.9 378.7,712.9 379.9,712.9 381,713.2 382.2,713.2 383.3,713.3 384.5,713.3 385.7,713.1 386.8,713.2 388,713.2 389.1,713.3 390.3,713.3 391.4,713.3 392.6,713.4 393.7,713.5 394.9,713.5 396,713.5 397.2,713.3 398.3,713.3 399.5,713.4 400.7,713.4 401.8,713.4 403,713.4 404.1,713.5 405.3,713.6 406.4,713.6 407.6,713.7 408.7,713.8 409.9,713.9 411,713.7 412.2,713.5 413.4,713.3 414.5,713.4 415.7,713.2 416.8,713.1 418,713 419.1,712.9 420.3,713 421.4,712.9 422.6,713 423.7,713.1 424.9,713.3 426.1,713.5 427.2,713.6 428.4,713.6 429.5,713.4 430.7,713.2 431.8,713.1 433,712.9 434.1,712.9 435.3,713 436.4,713.1 437.6,713.5 438.8,713.7 439.9,713.6 441.1,713.5 442.2,713.3 443.4,713.4 444.5,713.5 445.7,713.5 446.8,713.3 448,713.4 449.1,713.4 450.3,713.5 451.5,713.4 452.6,713.3 453.8,713.2 454.9,713.4 456.1,713.4 457.2,713.4 458.4,713.4 459.5,713.3 460.7,713.4 461.8,713.4 463,713.3 464.2,713.3 465.3,713.2 466.5,713.2 467.6,713.2 468.8,713.2 469.9,713.4 471.1,713.5 472.2,713.9 473.4,714.3 474.5,714.3 475.7,714 476.9,713.5 478,712.9 479.2,712.9 480.3,712.9 481.5,713.1 482.6,713.1 483.8,713.3 484.9,713.3 486.1,713.3 487.2,713.2 488.4,713.2 489.5,713.2 490.7,713.3 491.9,713.2 493,713.1 494.2,713.2 495.3,713.4 496.5,713.5 497.6,713.5 498.8,713.5 499.9,713.3 501.1,713.4 502.2,713.3 503.4,713.2 504.6,713.2 505.7,713.1 506.9,713 508,713.3 509.2,713.2 510.3,713.3 511.5,713 512.6,713 513.8,713.2 514.9,713.4 516.1,713.4 517.3,713.5 518.4,713.6 519.6,713.8 520.7,714 521.9,714 523,713.8 524.2,713.8 525.3,713.8 526.5,713.7 527.6,713.6 528.8,713.4 530,713.1 531.1,713.1 532.3,712.8 533.4,712.8 534.6,712.8 535.7,712.6 536.9,712.8 538,713 539.2,713.1 540.3,713.5 541.5,713.6 542.7,713.5 543.8,713.8 545,713.7 546.1,713.7 547.3,713.8 548.4,713.6 549.6,713.3 550.7,713.4 551.9,713.2 553,713.1 554.2,713 555.4,712.8 556.5,712.9 557.7,713 558.8,713.1 560,713 561.1,712.9 562.3,713 563.4,713.2 564.6,713.1 565.7,713.4 566.9,713.6 568.1,713.9 569.2,714 570.4,713.7 571.5,713 572.7,712.5 573.8,712.1 575,712.1 576.1,712.4 577.3,712.8 578.4,713.2 579.6,713.5 580.7,713.6 581.9,713.6 583.1,713.7 584.2,713.8 585.4,713.7 586.5,713.4 587.7,713.5 588.8,713.4 590,713.3 591.1,713.2 592.3,713 593.4,713.2 594.6,713.5 595.8,713.2 596.9,713.2 598.1,713.3 599.2,713.5 600.4,713.5 601.5,713.1 602.7,713 603.8,713.2 605,713.1 606.1,712.9 607.3,712.8 608.5,713 609.6,713.1 610.8,713.2 611.9,713.1 613.1,713.4 614.2,713.6 615.4,713.6 616.5,713.5 617.7,713.7 618.8,713.6 620,713.7 621.2,713.4 622.3,713.2 623.5,713.4 624.6,713.3 625.8,713.2 626.9,713.3 628.1,713.1 629.2,713 630.4,713.1 631.5,712.9 632.7,712.9 633.9,713.1 635,713 636.2,713.2 637.3,713.4 638.5,713.3 639.6,713.4 640.8,713.3 641.9,713.3 643.1,713.4 644.2,713.3 645.4,713.2 646.6,713.3 647.7,713.2 648.9,713.3 650,713.2 651.2,713.1 652.3,713.2 653.5,713.4 654.6,713.3 655.8,713.5 656.9,713.4 658.1,713.4 659.2,713.5 660.4,713.3 661.6,713.2 662.7,713.2 663.9,713.3 665,713.4 666.2,713.4 667.3,713.6 668.5,713.6 669.6,713.7 670.8,713.8 671.9,713.7 673.1,713.8 674.3,713.8 675.4,713.6 676.6,713.7 677.7,713.6 678.9,713.5 680,713.2 681.2,713.1 682.3,713.1 683.5,713.3 684.6,713.3 685.8,713.5 687,713.5 688.1,713.9 689.3,713.7 690.4,713.6 691.6,713.6 692.7,713.6 693.9,713.3 695,713.3 696.2,713.2 697.3,713.2 698.5,713.3 699.7,713.2 700.8,713 702,713 703.1,713.1 704.3,713 705.4,713.1 706.6,713.1 707.7,713.2 708.9,713.2 710,713.3 711.2,713.2 712.4,713.4 713.5,713.3 714.7,713.1 715.8,713.2 717,713.4 718.1,713.4 719.3,713.4 720.4,713.3 721.6,713.4 722.7,713.6 723.9,713.4 725.1,713.3 726.2,713.2 727.4,713.2 728.5,713.2 729.7,713.2 730.8,713.1 732,713.2 733.1,713.1 734.3,713.1 735.4,713.2 736.6,713.2 737.8,713.3 738.9,713.3 740.1,713.1 741.2,713.2 742.4,713.3 743.5,713.4 744.7,713.5 745.8,713.3 747,713.5 748.1,713.5 749.3,713.4 750.4,713.6 751.6,713.4 752.8,713.4 753.9,713.5 755.1,713.6 756.2,713.7 757.4,714 758.5,713.7 759.7,713.5 760.8,713.6 762,713.7 763.1,713.5 764.3,713.5 765.5,713.4 766.6,713.5 767.8,713.7 768.9,713.7 770.1,713.6 771.2,713.6 772.4,713.6 773.5,713.7 774.7,713.8 775.8,713.5 777,713.5 778.2,713.7 779.3,713.6 780.5,713.5 781.6,713.5 782.8,713.6 783.9,713.7 785.1,713.5 786.2,713.4 787.4,713.3 788.5,713.2 789.7,713.2 790.9,713.1 792,713.1 793.2,713.6 794.3,713.6 795.5,713.8 796.6,713.9 797.8,713.9 798.9,713.9 800.1,713.9 801.2,713.6 802.4,713.4 803.6,713.1 804.7,712.9 805.9,712.6 807,712.4 808.2,712.5 809.3,712.7 810.5,712.9 811.6,713.1 812.8,713.2 813.9,713.4 815.1,713.4 816.3,713.6 817.4,713.7 818.6,713.6 819.7,713.4 820.9,713.5 822,713.2 823.2,713.3 824.3,713.1 825.5,713 826.6,713 827.8,713.2 829,713.1 830.1,713.3 831.3,713.3 832.4,713.2 833.6,713.2 834.7,713.1 835.9,713.2 837,713.3 838.2,713.4 839.3,713.4 840.5,713.5 841.6,713.4 842.8,713.3 844,713.2 845.1,713.3 846.3,713 847.4,713.2 848.6,713.1 849.7,713.2 850.9,713.3 852,713.4 853.2,713.2 854.3,713.4 855.5,713.4 856.7,713.4 857.8,713.3 859,713.1 860.1,712.9 861.3,713.1 862.4,713 863.6,712.8 864.7,712.8 865.9,713 867,713.2 868.2,713.2 869.4,713.3 870.5,713.4 871.7,713.5 872.8,713.5 874,713.2 875.1,713.1 876.3,713.1 877.4,713 878.6,713 879.7,713 880.9,713.1 882.1,713.3 883.2,713.3 884.4,713.1 885.5,713.1 886.7,713 887.8,712.9 889,712.8 890.1,712.7 891.3,712.7 892.4,712.9 893.6,712.9 894.8,712.9 895.9,713 897.1,713 898.2,713.1 899.4,713.2 900.5,713.4 901.7,713.3 902.8,713.5 904,713.5 905.1,713.7 906.3,713.7 907.5,713.9 908.6,713.7 909.8,713.8 910.9,713.6 912.1,713.6 913.2,713.4 914.4,713.5 915.5,713.4 916.7,713.4 917.8,713.3 919,713.4 920.2,713.4 921.3,713.5 922.5,713.4 923.6,713.4 924.8,713.5 925.9,713.8 927.1,713.6 928.2,713.5 929.4,713.4 930.5,713.3 931.7,713.1 932.8,713.1 934,712.7 935.2,712.5 936.3,712.4 937.5,712.3 938.6,712.4 939.8,712.5 940.9,712.5 942.1,712.9 943.2,713.1 944.4,713.2 945.5,713.4 946.7,713.6 947.9,713.7 949,713.6 950.2,713.5 951.3,713.5 952.5,713.5 953.6,713.3 954.8,713 955.9,713 957.1,713.2 958.2,713.1 959.4,713.2 960.6,713.1 961.7,713.3 962.9,713.4 964,713.4 965.2,713.3 966.3,713.3 967.5,713.2 968.6,713.2 969.8,712.9 970.9,712.9 972.1,712.9 973.3,712.9 974.4,712.9 975.6,712.9 976.7,713 977.9,713 979,713 980.2,713 981.3,713.2 982.5,713.3 983.6,713.4 984.8,713.3 986,713.2 987.1,713.1 988.3,713.3 989.4,713.2 990.6,713.3 991.7,713.2 992.9,713.4 994,713.5 995.2,713.5 996.3,713.4 997.5,713.3 998.7,713.2 999.8,713.3 1001,713.4 1002.1,713.4 1003.3,713.4 1004.4,713.4 1005.6,713.5 1006.7,713.6 1007.9,713.7 1009,713.6 1010.2,713.8 1011.4,713.5 1012.5,713.4 1013.7,713.2 1014.8,713.1 1016,712.8 1017.1,712.8 1018.3,712.6 1019.4,712.4 1020.6,712.4 1021.7,712.7 1022.9,712.8 1024,713.3 1025.2,713.6 1026.4,713.9 1027.5,714 1028.7,714.1 1029.8,714 1031,713.8 1032.1,713.5 1033.3,713.4 1034.4,713.3 1035.6,713.4 1036.7,713.3 1037.9,713.2 1039.1,713.3 1040.2,713.1 1041.4,713.1 1042.5,713.2 1043.7,712.9 1044.8,712.9 1046,713 1047.1,712.8 1048.3,713.2 1049.4,713 1050.6,713 1051.8,713.4 1052.9,713.6 1054.1,713.5 1055.2,713.7 1056.4,713.4 1057.5,713.7 1058.7,713.4 1059.8,713.3 1061,713.3 1062.1,713.2 1063.3,713.1"/>
<polyline points="255.2,854.5 256.4,854.5 257.5,854.4 258.7,854.4 259.8,854.4 261,854.1 262.1,854.2 263.3,854.1 264.4,853.9 265.6,853.9 266.7,854 267.9,854 269.1,854.2 270.2,854 271.4,854.1 272.5,854 273.7,854.1 274.8,854 276,854 277.1,854.2 278.3,854.5 279.4,854.5 280.6,854.7 281.8,854.6 282.9,854.7 284.1,854.8 285.2,854.5 286.4,854.5 287.5,854.4 288.7,854.3 289.8,854.1 291,853.5 292.1,852.8 293.3,852.8 294.5,852.7 295.6,853 296.8,853.6 297.9,854.1 299.1,854.4 300.2,854.4 301.4,853.9 302.5,853.8 303.7,853.8 304.8,853.7 306,853.8 307.1,854 308.3,854 309.5,854.1 310.6,854 311.8,853.9 312.9,853.9 314.1,853.9 315.2,853.8 316.4,853.8 317.5,853.8 318.7,854.2 319.8,854.3 321,854.4 322.2,854.6 323.3,854.5 324.5,854.2 325.6,853.4 326.8,852.6 327.9,852.3 329.1,852.3 330.2,852.4 331.4,852.5 332.5,852.8 333.7,853.6 334.9,854.2 336,854.9 337.2,855.3 338.3,855.3 339.5,854.9 340.6,854.5 341.8,854.4 342.9,854.2 344.1,854 345.2,854 346.4,853.9 347.6,854 348.7,854.2 349.9,853.9 351,854.1 352.2,854.4 353.3,854.4 354.5,854.5 355.6,854.6 356.8,854.6 357.9,854.7 359.1,854.7 360.3,854.4 361.4,854.5 362.6,854.5 363.7,854.5 364.9,854.3 366,854.4 367.2,854.3 368.3,854.3 369.5,854.2 370.6,854.2 371.8,854 373,854.2 374.1,854.2 375.3,854.1 376.4,854.3 377.6,854.2 378.7,854.3 379.9,854.4 381,854.3 382.2,854.3 383.3,854.4 384.5,854.3 385.7,854.5 386.8,854.3 388,854.3 389.1,854.3 390.3,854.2 391.4,854.1 392.6,854.3 393.7,854.1 394.9,854.5 396,854.5 397.2,854.5 398.3,854.7 399.5,854.9 400.7,854.8 401.8,854.8 403,854.6 404.1,854.6 405.3,854.7 406.4,854.8 407.6,854.6 408.7,854.4 409.9,854.4 411,854.3 412.2,854.3 413.4,854.1 414.5,854 415.7,854.1 416.8,854.3 418,854.2 419.1,854.5 420.3,854.5 421.4,854.9 422.6,855.1 423.7,855.1 424.9,854.9 426.1,854.6 427.2,854.4 428.4,854.4 429.5,854.3 430.7,854.1 431.8,854.2 433,854.2 434.1,854.6 435.3,854.4 436.4,854.4 437.6,854.1 438.8,854.3 439.9,854.2 441.1,854.1 442.2,854.1 443.4,854.4 444.5,854.5 445.7,854.6 446.8,854.6 448,854.6 449.1,854.6 450.3,854.4 451.5,854.4 452.6,854.4 453.8,854.3 454.9,854.2 456.1,854.2 457.2,854.3 458.4,854.4 459.5,854.2 460.7,854.4 461.8,854.4 463,854.4 464.2,854.2 465.3,854.2 466.5,854.3 467.6,854.4 468.8,854.1 469.9,854 471.1,853.9 472.2,853.7 473.4,853.9 474.5,854.2 475.7,855 476.9,855.5 478,855.6 479.2,855.5 480.3,855.2 481.5,854.6 482.6,854.4 483.8,854.1 484.9,854.2 486.1,854.2 487.2,854.2 488.4,854.3 489.5,854.5 490.7,854.6 491.9,854.5 493,854.6 494.2,854.7 495.3,854.6 496.5,854.5 497.6,854.4 498.8,854.3 499.9,854.2 501.1,854.2 502.2,854.2 503.4,854.4 504.6,854.3 505.7,854.4 506.9,854.7 508,854.9 509.2,854.8 510.3,854.7 511.5,854.6 512.6,854.5 513.8,854.4 514.9,854.4 516.1,854.2 517.3,854.5 518.4,854.5 519.6,854.4 520.7,854.5 521.9,854.4 523,854.3 524.2,854.4 525.3,854.4 526.5,854.5 527.6,854.5 528.8,854.5 530,854.5 531.1,854.4 532.3,854.3 533.4,854.3 534.6,854.2 535.7,854.3 536.9,854.4 538,854.6 539.2,854.6 540.3,854.8 541.5,854.7 542.7,854.8 543.8,854.6 545,854.6 546.1,854.7 547.3,854.7 548.4,854.7 549.6,854.5 550.7,854.3 551.9,854.5 553,854.4 554.2,854.2 555.4,854.4 556.5,854.7 557.7,854.7 558.8,854.9 560,854.8 561.1,854.9 562.3,854.9 563.4,854.8 564.6,854.7 565.7,855 566.9,855.2 568.1,855.5 569.2,855.6 570.4,855.3 571.5,854.9 572.7,854.3 573.8,853.8 575,853.6 576.1,853.6 577.3,853.8 578.4,853.9 579.6,854.1 580.7,854.1 581.9,853.9 583.1,853.9 584.2,854.1 585.4,854.1 586.5,854.1 587.7,854.2 588.8,854.1 590,854.2 591.1,854.1 592.3,854.1 593.4,854.1 594.6,854.3 595.8,854.2 596.9,854.2 598.1,854.2 599.2,854.3 600.4,854.2 601.5,854 602.7,853.9 603.8,853.9 605,854 606.1,854.1 607.3,854.1 608.5,854 609.6,854.1 610.8,854.2 611.9,854.2 613.1,854.2 614.2,854.3 615.4,854.4 616.5,854.6 617.7,854.8 618.8,854.6 620,854.6 621.2,854.5 622.3,854.3 623.5,854.2 624.6,854.1 625.8,854 626.9,854.1 628.1,854 629.2,854.2 630.4,854.2 631.5,854.3 632.7,854.4 633.9,854.5 635,854.6 636.2,854.5 637.3,854.3 638.5,854.4 639.6,854.4 640.8,854.5 641.9,854.2 643.1,854.2 644.2,854.3 645.4,854.5 646.6,854.4 647.7,854.5 648.9,854.3 650,854.3 651.2,854.2 652.3,854.2 653.5,853.9 654.6,854 655.8,854.1 656.9,854.2 658.1,854.2 659.2,854.3 660.4,854.3 661.6,854.5 662.7,854.5 663.9,854.4 665,854.3 666.2,854.2 667.3,854.1 668.5,854.1 669.6,854 670.8,854 671.9,853.8 673.1,853.8 674.3,854.2 675.4,854.2 676.6,854.2 677.7,854.1 678.9,854.1 680,854.1 681.2,854.2 682.3,854.2 683.5,854.1 684.6,854.2 685.8,854.2 687,854.3 688.1,854.3 689.3,854.2 690.4,854.2 691.6,854.3 692.7,854.3 693.9,854.3 695,854.3 696.2,854.3 697.3,854.4 698.5,854.3 699.7,854.4 700.8,854.4 702,854.3 703.1,854.2 704.3,854.1 705.4,854 706.6,854 707.7,853.9 708.9,853.9 710,854 711.2,853.9 712.4,854.2 713.5,854.2 714.7,854.3 715.8,854.5 717,854.4 718.1,854.3 719.3,854.7 720.4,854.5 721.6,854.4 722.7,854.5 723.9,854.3 725.1,854.3 726.2,854.4 727.4,854.4 728.5,854.4 729.7,854.5 730.8,854.4 732,854.5 733.1,854.4 734.3,854.4 735.4,854.2 736.6,854.3 737.8,854.5 738.9,854.5 740.1,854.5 741.2,854.7 742.4,854.5 743.5,854.5 744.7,854.5 745.8,854.3 747,854.2 748.1,854.1 749.3,854.2 750.4,854.6 751.6,854.5 752.8,854.6 753.9,854.6 755.1,854.7 756.2,854.8 757.4,854.7 758.5,854.4 759.7,854.5 760.8,854.3 762,854.4 763.1,854.2 764.3,854.2 765.5,854.3 766.6,854.4 767.8,854.4 768.9,854.6 770.1,854.4 771.2,854.5 772.4,854.5 773.5,854.5 774.7,854.4 775.8,854.5 777,854.2 778.2,854.3 779.3,854.1 780.5,854.2 781.6,854 782.8,853.9 783.9,853.6 785.1,854 786.2,853.8 787.4,854 788.5,853.8 789.7,853.9 790.9,853.9 792,854.1 793.2,854 794.3,854.2 795.5,854.2 796.6,854.3 797.8,854.5 798.9,854.6 800.1,854.8 801.2,854.9 802.4,854.7 803.6,854.5 804.7,854.2 805.9,854.2 807,854 808.2,853.7 809.3,853.8 810.5,853.9 811.6,854.2 812.8,854.1 813.9,854 815.1,854.2 816.3,854.2 817.4,854.1 818.6,854.2 819.7,854.2 820.9,854.3 822,854.2 823.2,854.2 824.3,854.4 825.5,854.5 826.6,854.2 827.8,854.2 829,854.3 830.1,854.5 831.3,854.4 832.4,854.2 833.6,854.2 834.7,854.6 835.9,854.6 837,854.4 838.2,854.2 839.3,854.4 840.5,854.4 841.6,854.3 842.8,854.1 844,854 845.1,854.2 846.3,854.2 847.4,854 848.6,854 849.7,854.2 850.9,854.1 852,854.1 853.2,854.1 854.3,854.3 855.5,854.3 856.7,854.4 857.8,854.4 859,854.5 860.1,854.6 861.3,854.7 862.4,854.8 863.6,854.8 864.7,854.9 865.9,854.8 867,854.8 868.2,854.8 869.4,854.7 870.5,854.4 871.7,854.1 872.8,854.1 874,854.2 875.1,854.2 876.3,854 877.4,854.1 878.6,854.2 879.7,854.5 880.9,854.5 882.1,854.3 883.2,854.2 884.4,854.1 885.5,853.9 886.7,853.8 887.8,853.8 889,853.7 890.1,853.9 891.3,854 892.4,854.1 893.6,854.3 894.8,854.4 895.9,854.4 897.1,854.4 898.2,854.3 899.4,854.2 900.5,854.3 901.7,854.2 902.8,854.4 904,854.5 905.1,854.4 906.3,854.5 907.5,854.2 908.6,854.2 909.8,854.2 910.9,853.9 912.1,853.8 913.2,853.9 914.4,853.8 915.5,854 916.7,853.9 917.8,854 919,854.1 920.2,854 921.3,854.2 922.5,854.3 923.6,854.3 924.8,854.4 925.9,854.2 927.1,854.3 928.2,854.3 929.4,853.9 930.5,853.7 931.7,853.5 932.8,853.4 934,853.1 935.2,852.9 936.3,852.8 937.5,853.3 938.6,853.6 939.8,853.8 940.9,853.8 942.1,853.7 943.2,853.6 944.4,853.5 945.5,853.2 946.7,853.3 947.9,853.6 949,854.2 950.2,854.7 951.3,854.8 952.5,854.9 953.6,855 954.8,854.7 955.9,854.4 957.1,854.1 958.2,854.2 959.4,854.3 960.6,854.3 961.7,854.2 962.9,854.1 964,854.2 965.2,854.1 966.3,853.9 967.5,853.9 968.6,854 969.8,854.1 970.9,854.3 972.1,854.3 973.3,854.4 974.4,854.4 975.6,854.3 976.7,854.4 977.9,854.4 979,854.3 980.2,854.4 981.3,854.4 982.5,854.5 983.6,854.6 984.8,854.5 986,854.5 987.1,854.5 988.3,854.5 989.4,854.4 990.6,854.4 991.7,854.3 992.9,854.3 994,854.1 995.2,854 996.3,854.2 997.5,854.3 998.7,854.2 999.8,854.3 1001,854.3 1002.1,854.5 1003.3,854.6 1004.4,854.3 1005.6,854.3 1006.7,854.8 1007.9,854.8 1009,854.6 1010.2,854.6 1011.4,854.5 1012.5,854.6 1013.7,854.7 1014.8,854.4 1016,854.3 1017.1,854.5 1018.3,854.6 1019.4,854.7 1020.6,854.7 1021.7,854.6 1022.9,854.5 1024,854.5 1025.2,854.1 1026.4,854 1027.5,853.9 1028.7,853.9 1029.8,853.8 1031,853.8 1032.1,854 1033.3,853.9 1034.4,853.8 1035.6,853.7 1036.7,853.8 1037.9,853.9 1039.1,853.9 1040.2,853.8 1041.4,854 1042.5,854.2 1043.7,854.5 1044.8,854.6 1046,854.4 1047.1,854.4 1048.3,854.5 1049.4,854.5 1050.6,854.3 1051.8,854.3 1052.9,854 1054.1,854.2 1055.2,854.3 1056.4,854.3 1057.5,854.2 1058.7,854.3 1059.8,854.2 1061,854.4 1062.1,854.5 1063.3,854.6"/>
</g>
<g fill="none" stroke="#111" stroke-width="1.9" stroke-linejoin="round" clip-path="url(#cl)">
<polyline points="68.2,314.8 68.8,314.6 69.4,314.7 69.9,314.8 70.5,314.8 71.1,314.8 71.7,314.9 72.3,315.2 72.9,315.2 73.5,315.1 74,314.9 74.6,314.8 75.2,314.9 75.8,314.8 76.4,314.8 77,315 77.6,315 78.1,315 78.7,315 79.3,315.1 79.9,315.3 80.5,315.3 81.1,315.3 81.7,315.2 82.2,315.2 82.8,315.3 83.4,315.4 84,315.5 84.6,315.7 85.2,315.8 85.8,315.8 86.3,315.9 86.9,315.8 87.5,315.8 88.1,315.6 88.7,315.6 89.3,315.4 89.9,315.4 90.4,315.4 91,315.5 91.6,315.4 92.2,315.3 92.8,315.1 93.4,314.9 94,314.9 94.6,314.9 95.1,314.8 95.7,314.7 96.3,314.6 96.9,314.7 97.5,314.6 98.1,314.6 98.7,314.6 99.2,314.7 99.8,314.5 100.4,314.6 101,314.5 101.6,314.8 102.2,314.7 102.8,314.6 103.3,314.8 103.9,314.6 104.5,314.5 105.1,314.7 105.7,314.7 106.3,314.6 106.9,314.8 107.4,314.6 108,314.5 108.6,314.1 109.2,313.9 109.8,313.5 110.4,313 111,312.7 111.5,312.1 112.1,311.8 112.7,311.8 113.3,312 113.9,311.9 114.5,312.1 115.1,312.4 115.6,312.7 116.2,313.1 116.8,313.6 117.4,314.2 118,314.5 118.6,314.9 119.2,315.3 119.7,315.7 120.3,316 120.9,316.3 121.5,316.5 122.1,316.7 122.7,316.6 123.3,316.3 123.9,315.9 124.4,315.6 125,315.3 125.6,314.9 126.2,314.6 126.8,314.4 127.4,314 128,313.6 128.5,313.6 129.1,314.2 129.7,314.9 130.3,315.5 130.9,316 131.5,316.3 132.1,316.2 132.6,315.9 133.2,315.3 133.8,315 134.4,314.6 135,314.2 135.6,313.7 136.2,313.2 136.7,313.2 137.3,313 137.9,313.2 138.5,313.4 139.1,313.8 139.7,314.1 140.3,314.2 140.8,314.7 141.4,314.8 142,315 142.6,315.1 143.2,315.2 143.8,315.1 144.4,315 144.9,315.2 145.5,315.1 146.1,315.1 146.7,315 147.3,314.9 147.9,314.7 148.5,314.7 149,314.9 149.6,314.9 150.2,314.9 150.8,314.9 151.4,314.9 152,314.7 152.6,314.7 153.2,315.1 153.7,315.1 154.3,315.1 154.9,315.1 155.5,315.2 156.1,315.1 156.7,315.2 157.3,315.3 157.8,315.4 158.4,315.4 159,315.5 159.6,315.5 160.2,315.4 160.8,315.4 161.4,315.5 161.9,315.3 162.5,315.3 163.1,315.2 163.7,315.1 164.3,315 164.9,315 165.5,314.9 166,314.9 166.6,314.7 167.2,314.6 167.8,314.6 168.4,314.7 169,314.7 169.6,314.9 170.1,314.8 170.7,314.9 171.3,314.9 171.9,314.8 172.5,314.9 173.1,315 173.7,315.2 174.2,315.3 174.8,315.2 175.4,315.2 176,315.3 176.6,315.3 177.2,315.3 177.8,315.3 178.3,315.2 178.9,315.2 179.5,315.2 180.1,315.1 180.7,315.3 181.3,315.4 181.9,315.3 182.4,315.3 183,315.5 183.6,315.5 184.2,315.5 184.8,315.4 185.4,315.3 186,315.1 186.6,315.1 187.1,315.3 187.7,315.2 188.3,315.3 188.9,315.3 189.5,315.1 190.1,315.2 190.7,315.4 191.2,315.3 191.8,315.1 192.4,315.1 193,314.9 193.6,315.1 194.2,315.2 194.8,315.2 195.3,315.2 195.9,315 196.5,315 197.1,314.9 197.7,315 198.3,315 198.9,314.9 199.4,314.8 200,314.9 200.6,314.9 201.2,314.8 201.8,314.9 202.4,314.6 203,314.6"/>
<polyline points="68.2,452.3 68.8,452.2 69.4,452.1 69.9,452.1 70.5,452.2 71.1,452.2 71.7,452.4 72.3,452.4 72.9,452 73.5,452.1 74,452.2 74.6,452.1 75.2,452 75.8,451.9 76.4,451.9 77,451.8 77.6,451.7 78.1,451.7 78.7,451.8 79.3,451.8 79.9,451.7 80.5,451.6 81.1,451.7 81.7,452 82.2,452 82.8,451.8 83.4,451.8 84,452 84.6,452 85.2,452 85.8,452.2 86.3,452.2 86.9,452.2 87.5,452.2 88.1,452.1 88.7,452.1 89.3,452.3 89.9,452.1 90.4,452 91,452.1 91.6,452.2 92.2,452.2 92.8,452 93.4,452.1 94,452.1 94.6,452.2 95.1,452.2 95.7,452.2 96.3,452.1 96.9,452.2 97.5,452.2 98.1,452 98.7,452.1 99.2,452.3 99.8,452.1 100.4,452.2 101,452.2 101.6,452.3 102.2,452.2 102.8,452 103.3,451.9 103.9,451.9 104.5,451.8 105.1,451.9 105.7,451.9 106.3,452 106.9,451.8 107.4,451.8 108,451.6 108.6,451.6 109.2,451.4 109.8,451.4 110.4,451.2 111,450.9 111.5,450.7 112.1,450.4 112.7,450 113.3,449.7 113.9,449.3 114.5,449 115.1,448.8 115.6,448.8 116.2,448.9 116.8,449.1 117.4,449.6 118,450 118.6,450.4 119.2,450.9 119.7,451.5 120.3,451.8 120.9,452.1 121.5,452.5 122.1,452.8 122.7,453 123.3,453.5 123.9,453.8 124.4,453.9 125,453.8 125.6,453.7 126.2,453.2 126.8,452.8 127.4,452.5 128,452.1 128.5,451.9 129.1,451.7 129.7,451.4 130.3,451.3 130.9,451.5 131.5,452 132.1,452.7 132.6,453.2 133.2,453.6 133.8,453.8 134.4,453.6 135,453.3 135.6,452.9 136.2,452.2 136.7,451.9 137.3,451.6 137.9,451.1 138.5,450.6 139.1,450.3 139.7,450.2 140.3,450.2 140.8,450.4 141.4,450.8 142,451.3 142.6,451.7 143.2,451.7 143.8,451.9 144.4,451.9 144.9,452.1 145.5,452 146.1,451.8 146.7,451.7 147.3,451.7 147.9,451.8 148.5,452 149,452.1 149.6,452.1 150.2,452.1 150.8,451.9 151.4,451.9 152,452.1 152.6,452.1 153.2,452.4 153.7,452.5 154.3,452.6 154.9,452.8 155.5,452.6 156.1,452.6 156.7,452.5 157.3,452.3 157.8,452.3 158.4,452.2 159,452.4 159.6,452.6 160.2,452.6 160.8,452.5 161.4,452.5 161.9,452.4 162.5,452.2 163.1,452.2 163.7,452.2 164.3,452.3 164.9,452.5 165.5,452.6 166,452.6 166.6,452.6 167.2,452.5 167.8,452.4 168.4,452.2 169,452.3 169.6,452.3 170.1,452.3 170.7,452.3 171.3,452.2 171.9,452.4 172.5,452.3 173.1,452.4 173.7,452.3 174.2,452.2 174.8,452.5 175.4,452.5 176,452.7 176.6,452.5 177.2,452.6 177.8,452.5 178.3,452.5 178.9,452.4 179.5,452.5 180.1,452.7 180.7,452.4 181.3,452.4 181.9,452.3 182.4,452.3 183,452.2 183.6,452.1 184.2,452.1 184.8,452 185.4,452.2 186,452.1 186.6,452.1 187.1,452 187.7,452 188.3,452.1 188.9,451.9 189.5,452.1 190.1,452 190.7,451.9 191.2,451.7 191.8,451.7 192.4,451.6 193,451.7 193.6,451.6 194.2,451.6 194.8,451.6 195.3,451.5 195.9,451.5 196.5,451.6 197.1,451.4 197.7,451.4 198.3,451.4 198.9,451.6 199.4,451.7 200,451.8 200.6,451.9 201.2,452 201.8,452 202.4,452 203,452"/>
<polyline points="68.2,588.4 68.8,588.5 69.4,588.4 69.9,588.3 70.5,588.2 71.1,588.1 71.7,588.2 72.3,588.3 72.9,588.2 73.5,588.2 74,588.2 74.6,588.2 75.2,588.2 75.8,588.4 76.4,588.1 77,588.1 77.6,588.1 78.1,588.2 78.7,588.3 79.3,588.5 79.9,588.5 80.5,588.5 81.1,588.4 81.7,588.4 82.2,588.1 82.8,588 83.4,587.9 84,587.7 84.6,587.8 85.2,588 85.8,587.9 86.3,587.8 86.9,587.9 87.5,587.8 88.1,587.9 88.7,587.9 89.3,587.7 89.9,587.6 90.4,587.6 91,587.9 91.6,587.8 92.2,587.9 92.8,588 93.4,587.9 94,587.8 94.6,588 95.1,587.9 95.7,587.8 96.3,587.8 96.9,587.8 97.5,587.8 98.1,587.9 98.7,588.2 99.2,588.2 99.8,588.2 100.4,588.4 101,588.4 101.6,588.4 102.2,588.3 102.8,588.4 103.3,588.3 103.9,588.4 104.5,588.5 105.1,588.6 105.7,588.6 106.3,588.6 106.9,588.5 107.4,588.3 108,588.3 108.6,588.1 109.2,587.8 109.8,587.5 110.4,587 111,586.7 111.5,586.2 112.1,585.8 112.7,585.5 113.3,585.3 113.9,585.1 114.5,585.1 115.1,585.6 115.6,585.9 116.2,586.4 116.8,586.6 117.4,587 118,587.3 118.6,587.6 119.2,588 119.7,588.4 120.3,588.9 120.9,589.3 121.5,589.9 122.1,590.2 122.7,590.3 123.3,590.2 123.9,589.7 124.4,589.3 125,588.9 125.6,588.7 126.2,588.5 126.8,588.4 127.4,588.2 128,588 128.5,587.7 129.1,587.9 129.7,588.4 130.3,589.1 130.9,589.6 131.5,589.9 132.1,589.9 132.6,589.7 133.2,589.3 133.8,588.9 134.4,588.5 135,588 135.6,587.5 136.2,586.9 136.7,586.7 137.3,586.6 137.9,586.6 138.5,586.7 139.1,587 139.7,587.3 140.3,587.7 140.8,588.1 141.4,588.4 142,588.5 142.6,588.4 143.2,588.2 143.8,588.2 144.4,588.2 144.9,588.3 145.5,588.2 146.1,588.2 146.7,588.2 147.3,588.1 147.9,588 148.5,587.9 149,588 149.6,587.8 150.2,587.9 150.8,588.1 151.4,588.2 152,588.3 152.6,588.3 153.2,588.2 153.7,588.3 154.3,588.3 154.9,588.4 155.5,588.5 156.1,588.6 156.7,588.8 157.3,588.8 157.8,588.8 158.4,588.8 159,588.7 159.6,588.6 160.2,588.6 160.8,588.7 161.4,588.7 161.9,588.7 162.5,588.6 163.1,588.5 163.7,588.3 164.3,588.1 164.9,588 165.5,588 166,588 166.6,588.1 167.2,588.2 167.8,588.3 168.4,588.3 169,588.3 169.6,588.3 170.1,588.3 170.7,588.3 171.3,588.4 171.9,588.6 172.5,588.7 173.1,588.9 173.7,589 174.2,588.9 174.8,588.9 175.4,588.7 176,588.7 176.6,588.5 177.2,588.6 177.8,588.7 178.3,588.5 178.9,588.5 179.5,588.5 180.1,588.4 180.7,588.4 181.3,588.4 181.9,588.2 182.4,588.1 183,588.2 183.6,588.2 184.2,588.4 184.8,588.3 185.4,588.4 186,588.3 186.6,588.2 187.1,588.3 187.7,588.4 188.3,588.4 188.9,588.4 189.5,588.3 190.1,588.2 190.7,588.4 191.2,588.4 191.8,588.2 192.4,588.1 193,588.1 193.6,588.3 194.2,588.3 194.8,588.4 195.3,588.3 195.9,588.2 196.5,588.2 197.1,588.3 197.7,588.3 198.3,588.4 198.9,588.6 199.4,588.7 200,588.7 200.6,588.7 201.2,588.9 201.8,588.9 202.4,588.9 203,588.9"/>
<polyline points="68.2,721 68.8,721.2 69.4,721.1 69.9,721.1 70.5,721.1 71.1,721 71.7,721.2 72.3,721.1 72.9,721 73.5,720.8 74,720.7 74.6,720.6 75.2,720.8 75.8,720.9 76.4,721 77,720.9 77.6,721 78.1,720.8 78.7,720.9 79.3,720.8 79.9,720.9 80.5,720.8 81.1,720.9 81.7,721.1 82.2,721.2 82.8,721 83.4,721 84,721.1 84.6,721.2 85.2,721.3 85.8,721.3 86.3,721.1 86.9,721.1 87.5,721.2 88.1,721.3 88.7,721.4 89.3,721.3 89.9,721.4 90.4,721.2 91,721.1 91.6,721.4 92.2,721.6 92.8,721.4 93.4,721.5 94,721.3 94.6,721.3 95.1,721.2 95.7,721.4 96.3,721.3 96.9,721.4 97.5,721.5 98.1,721.5 98.7,721.4 99.2,721.6 99.8,721.6 100.4,721.5 101,721.1 101.6,721.2 102.2,721.1 102.8,721.1 103.3,721.2 103.9,721.4 104.5,721.4 105.1,721.4 105.7,721.4 106.3,721.3 106.9,721.1 107.4,721.1 108,720.6 108.6,720.3 109.2,720.1 109.8,719.9 110.4,719.3 111,718.9 111.5,718.4 112.1,718.1 112.7,718 113.3,718 113.9,718.1 114.5,718.4 115.1,719 115.6,719.4 116.2,719.9 116.8,720.4 117.4,720.6 118,720.9 118.6,721.2 119.2,721.7 119.7,722 120.3,722.7 120.9,723.1 121.5,723.4 122.1,723.2 122.7,722.9 123.3,722.5 123.9,722 124.4,721.7 125,721.4 125.6,721.5 126.2,721.4 126.8,721.1 127.4,720.7 128,720.6 128.5,720.9 129.1,721.5 129.7,722.1 130.3,722.4 130.9,722.8 131.5,722.8 132.1,722.4 132.6,721.9 133.2,721.3 133.8,720.8 134.4,720.1 135,719.6 135.6,719.3 136.2,719.2 136.7,719.2 137.3,719.2 137.9,719.2 138.5,719.5 139.1,719.9 139.7,720.1 140.3,720.5 140.8,720.6 141.4,720.6 142,720.7 142.6,720.8 143.2,720.7 143.8,720.7 144.4,720.4 144.9,720.5 145.5,720.5 146.1,720.6 146.7,720.5 147.3,720.7 147.9,720.7 148.5,720.8 149,720.9 149.6,721.1 150.2,721.1 150.8,721.4 151.4,721.3 152,721.3 152.6,721.4 153.2,721.4 153.7,721.4 154.3,721.5 154.9,721.5 155.5,721.8 156.1,721.6 156.7,721.5 157.3,721.7 157.8,721.5 158.4,721.4 159,721.5 159.6,721.5 160.2,721.4 160.8,721.5 161.4,721.4 161.9,721.3 162.5,721.2 163.1,721.1 163.7,721 164.3,720.8 164.9,720.8 165.5,720.9 166,720.7 166.6,720.8 167.2,720.9 167.8,720.7 168.4,720.5 169,720.6 169.6,720.7 170.1,720.8 170.7,720.9 171.3,721 171.9,720.9 172.5,721.1 173.1,721.1 173.7,721.3 174.2,721.3 174.8,721.3 175.4,721.3 176,721.2 176.6,721.3 177.2,721.5 177.8,721.9 178.3,721.8 178.9,721.8 179.5,721.7 180.1,721.7 180.7,721.7 181.3,721.5 181.9,721.6 182.4,721.4 183,721.5 183.6,721.6 184.2,721.6 184.8,721.6 185.4,721.5 186,721.3 186.6,721 187.1,721 187.7,721 188.3,721.1 188.9,720.9 189.5,721.1 190.1,721.1 190.7,721 191.2,721.3 191.8,721.2 192.4,721.1 193,721.1 193.6,721.3 194.2,721.6 194.8,721.6 195.3,721.5 195.9,721.5 196.5,721.5 197.1,721.4 197.7,721.5 198.3,721.5 198.9,721.8 199.4,721.8 200,721.7 200.6,721.6 201.2,721.7 201.8,721.8 202.4,721.6 203,721.4"/>
<polyline points="68.2,859.9 68.8,859.9 69.4,859.8 69.9,859.8 70.5,859.8 71.1,859.9 71.7,859.8 72.3,859.9 72.9,860 73.5,859.9 74,859.9 74.6,860 75.2,860.1 75.8,860.2 76.4,860.2 77,860.3 77.6,860.3 78.1,860.4 78.7,860.4 79.3,860.3 79.9,860.3 80.5,860.3 81.1,860.4 81.7,860.4 82.2,860.4 82.8,860.5 83.4,860.5 84,860.6 84.6,860.5 85.2,860.4 85.8,860.4 86.3,860.6 86.9,860.6 87.5,860.7 88.1,860.7 88.7,860.6 89.3,860.7 89.9,860.6 90.4,860.8 91,860.7 91.6,860.7 92.2,860.7 92.8,860.6 93.4,860.6 94,860.6 94.6,860.6 95.1,860.5 95.7,860.3 96.3,860.5 96.9,860.5 97.5,860.7 98.1,860.7 98.7,860.8 99.2,860.6 99.8,860.9 100.4,860.8 101,860.7 101.6,860.8 102.2,860.9 102.8,861.1 103.3,860.9 103.9,860.8 104.5,861 105.1,860.8 105.7,860.8 106.3,860.8 106.9,860.8 107.4,860.5 108,860.4 108.6,860.1 109.2,859.9 109.8,859.6 110.4,859.1 111,858.6 111.5,858 112.1,858 112.7,857.9 113.3,858 113.9,858.3 114.5,858.4 115.1,858.7 115.6,859 116.2,859.5 116.8,859.8 117.4,860 118,860.3 118.6,860.6 119.2,861 119.7,861.5 120.3,861.9 120.9,862.3 121.5,862.3 122.1,862 122.7,861.8 123.3,861.5 123.9,861.2 124.4,860.8 125,860.5 125.6,860.4 126.2,860.2 126.8,859.7 127.4,859.5 128,859.3 128.5,859.7 129.1,860.4 129.7,860.9 130.3,861.6 130.9,861.9 131.5,861.8 132.1,861.5 132.6,861 133.2,860.4 133.8,859.9 134.4,859.2 135,858.7 135.6,858.5 136.2,858.3 136.7,858.3 137.3,858.3 137.9,858.6 138.5,859 139.1,859.5 139.7,860 140.3,860.4 140.8,860.6 141.4,860.8 142,860.7 142.6,860.6 143.2,860.7 143.8,860.8 144.4,860.7 144.9,860.7 145.5,860.7 146.1,860.7 146.7,860.7 147.3,860.8 147.9,860.7 148.5,860.5 149,860.6 149.6,860.6 150.2,860.5 150.8,860.8 151.4,860.9 152,861 152.6,861 153.2,861.1 153.7,861.1 154.3,860.9 154.9,860.9 155.5,860.9 156.1,860.7 156.7,860.9 157.3,861 157.8,860.8 158.4,860.9 159,861 159.6,861 160.2,861 160.8,861 161.4,861 161.9,860.9 162.5,860.9 163.1,861 163.7,861 164.3,861 164.9,860.8 165.5,860.5 166,860.5 166.6,860.5 167.2,860.5 167.8,860.5 168.4,860.5 169,860.5 169.6,860.5 170.1,860.6 170.7,860.5 171.3,860.5 171.9,860.6 172.5,860.6 173.1,860.3 173.7,860.6 174.2,860.6 174.8,860.7 175.4,860.8 176,860.8 176.6,860.7 177.2,860.7 177.8,860.8 178.3,860.8 178.9,860.7 179.5,860.7 180.1,860.7 180.7,860.5 181.3,860.5 181.9,860.6 182.4,860.5 183,860.6 183.6,860.6 184.2,860.5 184.8,860.5 185.4,860.5 186,860.4 186.6,860.4 187.1,860.3 187.7,860.4 188.3,860.3 188.9,860.4 189.5,860.3 190.1,860.2 190.7,860.4 191.2,860.5 191.8,860.3 192.4,860.4 193,860.3 193.6,860.3 194.2,860.1 194.8,860.1 195.3,860 195.9,860.1 196.5,860.1 197.1,860.1 197.7,860.2 198.3,860.3 198.9,860.2 199.4,859.9 200,860.1 200.6,860.1 201.2,860 201.8,860.1 202.4,860 203,860.2"/>
</g>
<g fill="none" stroke="#000" stroke-width="9.4" stroke-linecap="round">
<path d="M252.9 269.4h0M254 269.4h0M255.2 269.4h0M256.4 269.4h0M257.5 269.4h0M258.7 269.3h0M259.8 269.3h0M261 269.3h0M262.1 269.3h0M263.3 269.2h0M264.4 269.2h0M265.6 269.2h0M266.7 269.1h0M267.9 269.1h0M269.1 269h0M270.2 269h0M271.4 268.9h0M272.5 268.8h0M273.7 268.7h0M274.8 268.6h0M276 268.5h0M277.1 268.4h0M278.3 268.2h0M279.4 268h0M280.6 267.7h0M281.8 267.4h0M282.9 267h0M284.1 266.5h0M285.2 265.9h0M286.4 265h0M287.5 263.7h0M288.7 261.7h0M289.8 258.4h0M291 252.4h0M292.1 241.8h0M293.3 225h0M294.5 203.5h0M295.6 188.7h0M296.8 195.7h0M297.9 216.6h0M299.1 235.8h0M300.2 248.8h0M301.4 256.4h0M302.5 260.5h0M303.7 262.9h0M304.8 264.4h0M306 265.4h0M307.1 266.1h0M308.3 266.6h0M309.5 267h0M310.6 267.3h0M311.8 267.5h0M312.9 267.7h0M314.1 267.8h0M315.2 267.8h0M316.4 267.8h0M317.5 267.7h0M318.7 267.6h0M319.8 267.2h0M321 266.5h0M322.2 265.3h0M323.3 263.2h0M324.5 260.4h0M325.6 258.7h0M326.8 259.6h0M327.9 261.2h0M329.1 261.5h0M330.2 259.3h0M331.4 254.4h0M332.5 247.5h0M333.7 243.7h0M334.9 247.9h0M336 255.2h0M337.2 260.9h0M338.3 264.3h0M339.5 266.1h0M340.6 267.1h0M341.8 267.7h0M342.9 268.1h0M344.1 268.3h0M345.2 268.5h0M346.4 268.7h0M347.6 268.8h0M348.7 268.9h0M349.9 269h0M351 269.1h0M352.2 269.1h0M353.3 269.2h0M354.5 269.2h0M355.6 269.2h0M356.8 269.3h0M357.9 269.3h0M359.1 269.3h0M360.3 269.3h0M361.4 269.4h0M362.6 269.4h0M363.7 269.4h0M364.9 269.4h0M366 269.4h0M367.2 269.4h0M368.3 269.4h0M369.5 269.5h0M370.6 269.5h0M371.8 269.5h0M373 269.5h0M374.1 269.5h0M375.3 269.5h0M376.4 269.5h0M377.6 269.5h0M378.7 269.5h0M379.9 269.5h0M381 269.5h0M382.2 269.5h0M383.3 269.5h0M384.5 269.5h0M385.7 269.5h0M386.8 269.5h0M388 269.5h0M389.1 269.5h0M390.3 269.5h0M391.4 269.5h0M392.6 269.5h0M393.7 269.5h0M394.9 269.5h0M396 269.5h0M397.2 269.5h0M398.3 269.5h0M399.5 269.5h0M400.7 269.5h0M401.8 269.5h0M403 269.5h0M404.1 269.5h0M405.3 269.5h0M406.4 269.5h0M407.6 269.5h0M408.7 269.5h0M409.9 269.5h0M411 269.5h0M412.2 269.5h0M413.4 269.5h0M414.5 269.5h0M415.7 269.5h0M416.8 269.5h0M418 269.5h0M419.1 269.5h0M420.3 269.5h0M421.4 269.5h0M422.6 269.4h0M423.7 269.4h0M424.9 269.4h0M426.1 269.4h0M427.2 269.4h0M428.4 269.4h0M429.5 269.4h0M430.7 269.4h0M431.8 269.4h0M433 269.3h0M434.1 269.3h0M435.3 269.3h0M436.4 269.3h0M437.6 269.3h0M438.8 269.2h0M439.9 269.2h0M441.1 269.2h0M442.2 269.2h0M443.4 269.1h0M444.5 269.1h0M445.7 269h0M446.8 269h0M448 268.9h0M449.1 268.9h0M450.3 268.8h0M451.5 268.7h0M452.6 268.6h0M453.8 268.5h0M454.9 268.3h0M456.1 268.2h0M457.2 268h0M458.4 267.7h0M459.5 267.4h0M460.7 267h0M461.8 266.6h0M463 266h0M464.2 265.1h0M465.3 264h0M466.5 262.5h0M467.6 260.2h0M468.8 256.4h0M469.9 249.3h0M471.1 234.9h0M472.2 207.5h0M473.4 165.6h0M474.5 131.7h0M475.7 148.4h0M476.9 192h0M478 225.8h0M479.2 244.7h0M480.3 254.1h0M481.5 258.9h0M482.6 261.7h0M483.8 263.5h0M484.9 264.7h0M486.1 265.7h0M487.2 266.3h0M488.4 266.9h0M489.5 267.3h0M490.7 267.6h0M491.9 267.9h0M493 268.1h0M494.2 268.3h0M495.3 268.4h0M496.5 268.5h0M497.6 268.6h0M498.8 268.7h0M499.9 268.8h0M501.1 268.9h0M502.2 269h0M503.4 269h0M504.6 269.1h0M505.7 269.1h0M506.9 269.1h0M508 269.2h0M509.2 269.2h0M510.3 269.2h0M511.5 269.3h0M512.6 269.3h0M513.8 269.3h0M514.9 269.3h0M516.1 269.3h0M517.3 269.3h0M518.4 269.4h0M519.6 269.4h0M520.7 269.4h0M521.9 269.4h0M523 269.4h0M524.2 269.4h0M525.3 269.4h0M526.5 269.4h0M527.6 269.4h0M528.8 269.4h0M530 269.4h0M531.1 269.4h0M532.3 269.4h0M533.4 269.5h0M534.6 269.5h0M535.7 269.5h0M536.9 269.5h0M538 269.4h0M539.2 269.4h0M540.3 269.4h0M541.5 269.4h0M542.7 269.4h0M543.8 269.4h0M545 269.4h0M546.1 269.4h0M547.3 269.4h0M548.4 269.4h0M549.6 269.4h0M550.7 269.3h0M551.9 269.3h0M553 269.3h0M554.2 269.2h0M555.4 269.2h0M556.5 269.1h0M557.7 269h0M558.8 268.9h0M560 268.8h0M561.1 268.6h0M562.3 268.4h0M563.4 268h0M564.6 267.5h0M565.7 266.6h0M566.9 264.8h0M568.1 261.9h0M569.2 257.3h0M570.4 251.9h0M571.5 249h0M572.7 251.9h0M573.8 257.3h0M575 261.9h0M576.1 264.9h0M577.3 266.6h0M578.4 267.5h0M579.6 268.1h0M580.7 268.4h0M581.9 268.7h0M583.1 268.8h0M584.2 269h0M585.4 269.1h0M586.5 269.2h0M587.7 269.2h0M588.8 269.3h0M590 269.3h0M591.1 269.4h0M592.3 269.4h0M593.4 269.4h0M594.6 269.4h0M595.8 269.5h0M596.9 269.5h0M598.1 269.5h0M599.2 269.5h0M600.4 269.5h0M601.5 269.5h0M602.7 269.5h0M603.8 269.5h0M605 269.6h0M606.1 269.6h0M607.3 269.6h0M608.5 269.6h0M609.6 269.6h0M610.8 269.6h0M611.9 269.6h0M613.1 269.6h0M614.2 269.6h0M615.4 269.6h0M616.5 269.6h0M617.7 269.6h0M618.8 269.6h0M620 269.6h0M621.2 269.6h0M622.3 269.6h0M623.5 269.6h0M624.6 269.6h0M625.8 269.6h0M626.9 269.6h0M628.1 269.6h0M629.2 269.6h0M630.4 269.6h0M631.5 269.6h0M632.7 269.6h0M633.9 269.6h0M635 269.6h0M636.2 269.6h0M637.3 269.6h0M638.5 269.6h0M639.6 269.6h0M640.8 269.6h0M641.9 269.6h0M643.1 269.6h0M644.2 269.6h0M645.4 269.6h0M646.6 269.6h0M647.7 269.6h0M648.9 269.6h0M650 269.6h0M651.2 269.6h0M652.3 269.6h0M653.5 269.6h0M654.6 269.7h0M655.8 269.7h0M656.9 269.7h0M658.1 269.7h0M659.2 269.7h0M660.4 269.7h0M661.6 269.7h0M662.7 269.7h0M663.9 269.7h0M665 269.7h0M666.2 269.7h0M667.3 269.7h0M668.5 269.7h0M669.6 269.7h0M670.8 269.7h0M671.9 269.7h0M673.1 269.7h0M674.3 269.7h0M675.4 269.7h0M676.6 269.7h0M677.7 269.7h0M678.9 269.7h0M680 269.7h0M681.2 269.7h0M682.3 269.7h0M683.5 269.7h0M684.6 269.7h0M685.8 269.7h0M687 269.7h0M688.1 269.7h0M689.3 269.7h0M690.4 269.7h0M691.6 269.7h0M692.7 269.7h0M693.9 269.7h0M695 269.7h0M696.2 269.7h0M697.3 269.7h0M698.5 269.7h0M699.7 269.7h0M700.8 269.7h0M702 269.7h0M703.1 269.7h0M704.3 269.7h0M705.4 269.7h0M706.6 269.7h0M707.7 269.7h0M708.9 269.7h0M710 269.7h0M711.2 269.7h0M712.4 269.7h0M713.5 269.7h0M714.7 269.7h0M715.8 269.7h0M717 269.7h0M718.1 269.7h0M719.3 269.7h0M720.4 269.7h0M721.6 269.7h0M722.7 269.7h0M723.9 269.7h0M725.1 269.7h0M726.2 269.7h0M727.4 269.7h0M728.5 269.7h0M729.7 269.7h0M730.8 269.6h0M732 269.6h0M733.1 269.6h0M734.3 269.6h0M735.4 269.6h0M736.6 269.6h0M737.8 269.6h0M738.9 269.6h0M740.1 269.6h0M741.2 269.6h0M742.4 269.6h0M743.5 269.6h0M744.7 269.6h0M745.8 269.6h0M747 269.6h0M748.1 269.6h0M749.3 269.6h0M750.4 269.6h0M751.6 269.6h0M752.8 269.6h0M753.9 269.6h0M755.1 269.6h0M756.2 269.6h0M757.4 269.6h0M758.5 269.6h0M759.7 269.6h0M760.8 269.6h0M762 269.6h0M763.1 269.6h0M764.3 269.6h0M765.5 269.6h0M766.6 269.6h0M767.8 269.6h0M768.9 269.6h0M770.1 269.6h0M771.2 269.6h0M772.4 269.5h0M773.5 269.5h0M774.7 269.5h0M775.8 269.5h0M777 269.5h0M778.2 269.5h0M779.3 269.5h0M780.5 269.4h0M781.6 269.4h0M782.8 269.4h0M783.9 269.3h0M785.1 269.3h0M786.2 269.3h0M787.4 269.2h0M788.5 269.1h0M789.7 269h0M790.9 268.9h0M792 268.8h0M793.2 268.6h0M794.3 268.3h0M795.5 267.9h0M796.6 267.3h0M797.8 266.2h0M798.9 264.4h0M800.1 261.4h0M801.2 257.1h0M802.4 252.4h0M803.6 250h0M804.7 252.4h0M805.9 257.1h0M807 261.4h0M808.2 264.4h0M809.3 266.2h0M810.5 267.3h0M811.6 267.9h0M812.8 268.3h0M813.9 268.6h0M815.1 268.8h0M816.3 268.9h0M817.4 269h0M818.6 269.1h0M819.7 269.2h0M820.9 269.2h0M822 269.3h0M823.2 269.3h0M824.3 269.4h0M825.5 269.4h0M826.6 269.4h0M827.8 269.4h0M829 269.5h0M830.1 269.5h0M831.3 269.5h0M832.4 269.5h0M833.6 269.5h0M834.7 269.5h0M835.9 269.5h0M837 269.5h0M838.2 269.5h0M839.3 269.6h0M840.5 269.6h0M841.6 269.6h0M842.8 269.6h0M844 269.6h0M845.1 269.6h0M846.3 269.6h0M847.4 269.6h0M848.6 269.6h0M849.7 269.6h0M850.9 269.6h0M852 269.6h0M853.2 269.6h0M854.3 269.6h0M855.5 269.6h0M856.7 269.6h0M857.8 269.6h0M859 269.6h0M860.1 269.6h0M861.3 269.6h0M862.4 269.6h0M863.6 269.6h0M864.7 269.6h0M865.9 269.6h0M867 269.6h0M868.2 269.6h0M869.4 269.6h0M870.5 269.6h0M871.7 269.6h0M872.8 269.6h0M874 269.6h0M875.1 269.6h0M876.3 269.6h0M877.4 269.6h0M878.6 269.6h0M879.7 269.6h0M880.9 269.6h0M882.1 269.6h0M883.2 269.5h0M884.4 269.5h0M885.5 269.5h0M886.7 269.5h0M887.8 269.5h0M889 269.5h0M890.1 269.5h0M891.3 269.5h0M892.4 269.5h0M893.6 269.5h0M894.8 269.5h0M895.9 269.5h0M897.1 269.5h0M898.2 269.5h0M899.4 269.4h0M900.5 269.4h0M901.7 269.4h0M902.8 269.4h0M904 269.4h0M905.1 269.4h0M906.3 269.3h0M907.5 269.3h0M908.6 269.3h0M909.8 269.3h0M910.9 269.2h0M912.1 269.2h0M913.2 269.1h0M914.4 269.1h0M915.5 269h0M916.7 269h0M917.8 268.9h0M919 268.8h0M920.2 268.7h0M921.3 268.6h0M922.5 268.4h0M923.6 268.2h0M924.8 268h0M925.9 267.6h0M927.1 267.2h0M928.2 266.5h0M929.4 265.5h0M930.5 263.9h0M931.7 261.3h0M932.8 257.5h0M934 252.4h0M935.2 247.2h0M936.3 244.7h0M937.5 246.7h0M938.6 251.3h0M939.8 255.7h0M940.9 258.5h0M942.1 259.5h0M943.2 258.7h0M944.4 255.9h0M945.5 251.4h0M946.7 245.8h0M947.9 241.7h0M949 242.5h0M950.2 247.6h0M951.3 253.7h0M952.5 258.7h0M953.6 262.2h0M954.8 264.4h0M955.9 265.8h0M957.1 266.7h0M958.2 267.3h0M959.4 267.7h0M960.6 268h0M961.7 268.2h0M962.9 268.4h0M964 268.6h0M965.2 268.7h0M966.3 268.8h0M967.5 268.9h0M968.6 269h0M969.8 269h0M970.9 269.1h0M972.1 269.1h0M973.3 269.2h0M974.4 269.2h0M975.6 269.2h0M976.7 269.3h0M977.9 269.3h0M979 269.3h0M980.2 269.3h0M981.3 269.3h0M982.5 269.3h0M983.6 269.4h0M984.8 269.4h0M986 269.4h0M987.1 269.4h0M988.3 269.4h0M989.4 269.4h0M990.6 269.4h0M991.7 269.4h0M992.9 269.4h0M994 269.4h0M995.2 269.4h0M996.3 269.4h0M997.5 269.4h0M998.7 269.4h0M999.8 269.4h0M1001 269.3h0M1002.1 269.3h0M1003.3 269.3h0M1004.4 269.3h0M1005.6 269.2h0M1006.7 269.2h0M1007.9 269.1h0M1009 269.1h0M1010.2 269h0M1011.4 268.9h0M1012.5 268.7h0M1013.7 268.5h0M1014.8 268.3h0M1016 267.9h0M1017.1 267.2h0M1018.3 266.2h0M1019.4 264.5h0M1020.6 261.8h0M1021.7 258.2h0M1022.9 254.5h0M1024 252.7h0M1025.2 254.5h0M1026.4 258.2h0M1027.5 261.8h0M1028.7 264.5h0M1029.8 266.2h0M1031 267.3h0M1032.1 267.9h0M1033.3 268.3h0M1034.4 268.6h0M1035.6 268.8h0M1036.7 268.9h0M1037.9 269h0M1039.1 269.1h0M1040.2 269.2h0M1041.4 269.2h0M1042.5 269.3h0M1043.7 269.3h0M1044.8 269.4h0M1046 269.4h0M1047.1 269.4h0M1048.3 269.4h0M1049.4 269.5h0M1050.6 269.5h0M1051.8 269.5h0M1052.9 269.5h0M1054.1 269.5h0M1055.2 269.5h0M1056.4 269.5h0M1057.5 269.6h0M1058.7 269.6h0M1059.8 269.6h0M1061 269.6h0M1062.1 269.6h0M1063.3 269.6h0M1064.5 269.6h0"/>
<path d="M252.9 395.1h0M254 395.1h0M255.2 395.1h0M256.4 395h0M257.5 395h0M258.7 395h0M259.8 395h0M261 395h0M262.1 394.9h0M263.3 394.9h0M264.4 394.9h0M265.6 394.8h0M266.7 394.8h0M267.9 394.7h0M269.1 394.7h0M270.2 394.6h0M271.4 394.6h0M272.5 394.5h0M273.7 394.4h0M274.8 394.3h0M276 394.2h0M277.1 394h0M278.3 393.8h0M279.4 393.6h0M280.6 393.4h0M281.8 393.1h0M282.9 392.7h0M284.1 392.2h0M285.2 391.6h0M286.4 390.8h0M287.5 389.6h0M288.7 388h0M289.8 385.3h0M291 380.7h0M292.1 372.2h0M293.3 357.8h0M294.5 336.5h0M295.6 313.2h0M296.8 305.4h0M297.9 321.9h0M299.1 345.7h0M300.2 364.4h0M301.4 376.1h0M302.5 382.7h0M303.7 386.4h0M304.8 388.6h0M306 389.9h0M307.1 390.9h0M308.3 391.6h0M309.5 392.1h0M310.6 392.5h0M311.8 392.8h0M312.9 393h0M314.1 393.1h0M315.2 393.2h0M316.4 393.2h0M317.5 393.1h0M318.7 392.9h0M319.8 392.5h0M321 391.7h0M322.2 390.2h0M323.3 387.7h0M324.5 384.4h0M325.6 382.4h0M326.8 383.7h0M327.9 386.2h0M329.1 387.4h0M330.2 386.5h0M331.4 382.9h0M332.5 376.2h0M333.7 368.2h0M334.9 365.4h0M336 371.7h0M337.2 380.1h0M338.3 386.1h0M339.5 389.6h0M340.6 391.5h0M341.8 392.5h0M342.9 393.2h0M344.1 393.6h0M345.2 393.9h0M346.4 394.1h0M347.6 394.3h0M348.7 394.4h0M349.9 394.5h0M351 394.6h0M352.2 394.7h0M353.3 394.8h0M354.5 394.8h0M355.6 394.9h0M356.8 394.9h0M357.9 394.9h0M359.1 395h0M360.3 395h0M361.4 395h0M362.6 395h0M363.7 395h0M364.9 395.1h0M366 395.1h0M367.2 395.1h0M368.3 395.1h0M369.5 395.1h0M370.6 395.1h0M371.8 395.1h0M373 395.1h0M374.1 395.1h0M375.3 395.2h0M376.4 395.2h0M377.6 395.2h0M378.7 395.2h0M379.9 395.2h0M381 395.2h0M382.2 395.2h0M383.3 395.2h0M384.5 395.2h0M385.7 395.2h0M386.8 395.2h0M388 395.2h0M389.1 395.2h0M390.3 395.2h0M391.4 395.2h0M392.6 395.2h0M393.7 395.2h0M394.9 395.2h0M396 395.2h0M397.2 395.2h0M398.3 395.2h0M399.5 395.2h0M400.7 395.2h0M401.8 395.2h0M403 395.2h0M404.1 395.2h0M405.3 395.2h0M406.4 395.2h0M407.6 395.2h0M408.7 395.2h0M409.9 395.2h0M411 395.2h0M412.2 395.2h0M413.4 395.2h0M414.5 395.2h0M415.7 395.2h0M416.8 395.2h0M418 395.2h0M419.1 395.2h0M420.3 395.2h0M421.4 395.1h0M422.6 395.1h0M423.7 395.1h0M424.9 395.1h0M426.1 395.1h0M427.2 395.1h0M428.4 395.1h0M429.5 395.1h0M430.7 395.1h0M431.8 395.1h0M433 395h0M434.1 395h0M435.3 395h0M436.4 395h0M437.6 395h0M438.8 394.9h0M439.9 394.9h0M441.1 394.9h0M442.2 394.9h0M443.4 394.8h0M444.5 394.8h0M445.7 394.7h0M446.8 394.7h0M448 394.6h0M449.1 394.6h0M450.3 394.5h0M451.5 394.4h0M452.6 394.3h0M453.8 394.2h0M454.9 394.1h0M456.1 393.9h0M457.2 393.8h0M458.4 393.5h0M459.5 393.3h0M460.7 393h0M461.8 392.6h0M463 392.1h0M464.2 391.4h0M465.3 390.5h0M466.5 389.4h0M467.6 387.7h0M468.8 385.2h0M469.9 381.2h0M471.1 373.7h0M472.2 358.3h0M473.4 329.1h0M474.5 284.5h0M475.7 248.4h0M476.9 266.1h0M478 312.7h0M479.2 348.6h0M480.3 368.8h0M481.5 378.8h0M482.6 383.9h0M483.8 386.8h0M484.9 388.8h0M486.1 390.1h0M487.2 391.1h0M488.4 391.8h0M489.5 392.4h0M490.7 392.8h0M491.9 393.2h0M493 393.4h0M494.2 393.7h0M495.3 393.9h0M496.5 394h0M497.6 394.2h0M498.8 394.3h0M499.9 394.4h0M501.1 394.5h0M502.2 394.5h0M503.4 394.6h0M504.6 394.7h0M505.7 394.7h0M506.9 394.8h0M508 394.8h0M509.2 394.8h0M510.3 394.9h0M511.5 394.9h0M512.6 394.9h0M513.8 394.9h0M514.9 395h0M516.1 395h0M517.3 395h0M518.4 395h0M519.6 395h0M520.7 395.1h0M521.9 395.1h0M523 395.1h0M524.2 395.1h0M525.3 395.1h0M526.5 395.1h0M527.6 395.1h0M528.8 395.1h0M530 395.1h0M531.1 395.1h0M532.3 395.1h0M533.4 395.1h0M534.6 395.1h0M535.7 395.1h0M536.9 395.1h0M538 395.1h0M539.2 395.1h0M540.3 395.1h0M541.5 395.1h0M542.7 395.1h0M543.8 395.1h0M545 395.1h0M546.1 395.1h0M547.3 395.1h0M548.4 395.1h0M549.6 395h0M550.7 395h0M551.9 395h0M553 395h0M554.2 394.9h0M555.4 394.9h0M556.5 394.8h0M557.7 394.7h0M558.8 394.6h0M560 394.5h0M561.1 394.3h0M562.3 394.1h0M563.4 393.8h0M564.6 393.3h0M565.7 392.4h0M566.9 390.9h0M568.1 388.1h0M569.2 383.8h0M570.4 378.2h0M571.5 374.4h0M572.7 376.2h0M573.8 381.6h0M575 386.6h0M576.1 390h0M577.3 391.9h0M578.4 393h0M579.6 393.6h0M580.7 394h0M581.9 394.3h0M583.1 394.5h0M584.2 394.6h0M585.4 394.7h0M586.5 394.8h0M587.7 394.9h0M588.8 395h0M590 395h0M591.1 395h0M592.3 395.1h0M593.4 395.1h0M594.6 395.1h0M595.8 395.1h0M596.9 395.2h0M598.1 395.2h0M599.2 395.2h0M600.4 395.2h0M601.5 395.2h0M602.7 395.2h0M603.8 395.2h0M605 395.2h0M606.1 395.3h0M607.3 395.3h0M608.5 395.3h0M609.6 395.3h0M610.8 395.3h0M611.9 395.3h0M613.1 395.3h0M614.2 395.3h0M615.4 395.3h0M616.5 395.3h0M617.7 395.3h0M618.8 395.3h0M620 395.3h0M621.2 395.3h0M622.3 395.3h0M623.5 395.3h0M624.6 395.3h0M625.8 395.3h0M626.9 395.3h0M628.1 395.3h0M629.2 395.3h0M630.4 395.3h0M631.5 395.3h0M632.7 395.3h0M633.9 395.3h0M635 395.3h0M636.2 395.3h0M637.3 395.3h0M638.5 395.3h0M639.6 395.3h0M640.8 395.3h0M641.9 395.3h0M643.1 395.3h0M644.2 395.3h0M645.4 395.3h0M646.6 395.3h0M647.7 395.3h0M648.9 395.3h0M650 395.3h0M651.2 395.3h0M652.3 395.3h0M653.5 395.3h0M654.6 395.3h0M655.8 395.3h0M656.9 395.3h0M658.1 395.3h0M659.2 395.3h0M660.4 395.3h0M661.6 395.3h0M662.7 395.3h0M663.9 395.3h0M665 395.4h0M666.2 395.4h0M667.3 395.4h0M668.5 395.4h0M669.6 395.4h0M670.8 395.4h0M671.9 395.4h0M673.1 395.4h0M674.3 395.4h0M675.4 395.4h0M676.6 395.4h0M677.7 395.4h0M678.9 395.4h0M680 395.4h0M681.2 395.4h0M682.3 395.4h0M683.5 395.4h0M684.6 395.4h0M685.8 395.4h0M687 395.4h0M688.1 395.4h0M689.3 395.4h0M690.4 395.4h0M691.6 395.4h0M692.7 395.4h0M693.9 395.4h0M695 395.4h0M696.2 395.4h0M697.3 395.4h0M698.5 395.4h0M699.7 395.4h0M700.8 395.4h0M702 395.4h0M703.1 395.4h0M704.3 395.4h0M705.4 395.4h0M706.6 395.4h0M707.7 395.4h0M708.9 395.4h0M710 395.4h0M711.2 395.4h0M712.4 395.4h0M713.5 395.4h0M714.7 395.4h0M715.8 395.4h0M717 395.3h0M718.1 395.3h0M719.3 395.3h0M720.4 395.3h0M721.6 395.3h0M722.7 395.3h0M723.9 395.3h0M725.1 395.3h0M726.2 395.3h0M727.4 395.3h0M728.5 395.3h0M729.7 395.3h0M730.8 395.3h0M732 395.3h0M733.1 395.3h0M734.3 395.3h0M735.4 395.3h0M736.6 395.3h0M737.8 395.3h0M738.9 395.3h0M740.1 395.3h0M741.2 395.3h0M742.4 395.3h0M743.5 395.3h0M744.7 395.3h0M745.8 395.3h0M747 395.3h0M748.1 395.3h0M749.3 395.3h0M750.4 395.3h0M751.6 395.3h0M752.8 395.3h0M753.9 395.3h0M755.1 395.3h0M756.2 395.3h0M757.4 395.3h0M758.5 395.3h0M759.7 395.3h0M760.8 395.3h0M762 395.3h0M763.1 395.3h0M764.3 395.3h0M765.5 395.3h0M766.6 395.3h0M767.8 395.3h0M768.9 395.2h0M770.1 395.2h0M771.2 395.2h0M772.4 395.2h0M773.5 395.2h0M774.7 395.2h0M775.8 395.2h0M777 395.2h0M778.2 395.1h0M779.3 395.1h0M780.5 395.1h0M781.6 395.1h0M782.8 395h0M783.9 395h0M785.1 395h0M786.2 394.9h0M787.4 394.8h0M788.5 394.8h0M789.7 394.7h0M790.9 394.5h0M792 394.4h0M793.2 394.2h0M794.3 393.9h0M795.5 393.5h0M796.6 392.9h0M797.8 391.9h0M798.9 390.2h0M800.1 387.3h0M801.2 382.8h0M802.4 377.2h0M803.6 372.8h0M804.7 373.4h0M805.9 378.4h0M807 383.8h0M808.2 388h0M809.3 390.6h0M810.5 392.2h0M811.6 393.1h0M812.8 393.6h0M813.9 394h0M815.1 394.2h0M816.3 394.4h0M817.4 394.6h0M818.6 394.7h0M819.7 394.8h0M820.9 394.8h0M822 394.9h0M823.2 395h0M824.3 395h0M825.5 395h0M826.6 395.1h0M827.8 395.1h0M829 395.1h0M830.1 395.1h0M831.3 395.2h0M832.4 395.2h0M833.6 395.2h0M834.7 395.2h0M835.9 395.2h0M837 395.2h0M838.2 395.2h0M839.3 395.2h0M840.5 395.2h0M841.6 395.2h0M842.8 395.2h0M844 395.2h0M845.1 395.2h0M846.3 395.3h0M847.4 395.3h0M848.6 395.3h0M849.7 395.3h0M850.9 395.3h0M852 395.3h0M853.2 395.3h0M854.3 395.3h0M855.5 395.3h0M856.7 395.3h0M857.8 395.3h0M859 395.3h0M860.1 395.3h0M861.3 395.3h0M862.4 395.3h0M863.6 395.3h0M864.7 395.3h0M865.9 395.3h0M867 395.3h0M868.2 395.3h0M869.4 395.3h0M870.5 395.3h0M871.7 395.3h0M872.8 395.3h0M874 395.3h0M875.1 395.3h0M876.3 395.3h0M877.4 395.2h0M878.6 395.2h0M879.7 395.2h0M880.9 395.2h0M882.1 395.2h0M883.2 395.2h0M884.4 395.2h0M885.5 395.2h0M886.7 395.2h0M887.8 395.2h0M889 395.2h0M890.1 395.2h0M891.3 395.2h0M892.4 395.2h0M893.6 395.2h0M894.8 395.2h0M895.9 395.2h0M897.1 395.1h0M898.2 395.1h0M899.4 395.1h0M900.5 395.1h0M901.7 395.1h0M902.8 395.1h0M904 395.1h0M905.1 395h0M906.3 395h0M907.5 395h0M908.6 395h0M909.8 394.9h0M910.9 394.9h0M912.1 394.9h0M913.2 394.8h0M914.4 394.8h0M915.5 394.7h0M916.7 394.6h0M917.8 394.6h0M919 394.5h0M920.2 394.4h0M921.3 394.3h0M922.5 394.1h0M923.6 393.9h0M924.8 393.7h0M925.9 393.4h0M927.1 393h0M928.2 392.5h0M929.4 391.8h0M930.5 390.7h0M931.7 388.8h0M932.8 386h0M934 381.7h0M935.2 376.1h0M936.3 370.3h0M937.5 367.4h0M938.6 369.5h0M939.8 374.5h0M940.9 379h0M942.1 381.7h0M943.2 382.1h0M944.4 380h0M945.5 375.5h0M946.7 369.2h0M947.9 363.1h0M949 361.4h0M950.2 366h0M951.3 373.3h0M952.5 379.9h0M953.6 384.9h0M954.8 388.1h0M955.9 390.2h0M957.1 391.4h0M958.2 392.2h0M959.4 392.8h0M960.6 393.2h0M961.7 393.5h0M962.9 393.8h0M964 394h0M965.2 394.1h0M966.3 394.3h0M967.5 394.4h0M968.6 394.5h0M969.8 394.6h0M970.9 394.6h0M972.1 394.7h0M973.3 394.7h0M974.4 394.8h0M975.6 394.8h0M976.7 394.9h0M977.9 394.9h0M979 394.9h0M980.2 394.9h0M981.3 394.9h0M982.5 395h0M983.6 395h0M984.8 395h0M986 395h0M987.1 395h0M988.3 395h0M989.4 395h0M990.6 395h0M991.7 395h0M992.9 395h0M994 395h0M995.2 395h0M996.3 395h0M997.5 395h0M998.7 395h0M999.8 395h0M1001 395h0M1002.1 394.9h0M1003.3 394.9h0M1004.4 394.9h0M1005.6 394.8h0M1006.7 394.8h0M1007.9 394.7h0M1009 394.6h0M1010.2 394.5h0M1011.4 394.4h0M1012.5 394.2h0M1013.7 394h0M1014.8 393.7h0M1016 393.2h0M1017.1 392.5h0M1018.3 391.3h0M1019.4 389.2h0M1020.6 386.1h0M1021.7 381.7h0M1022.9 376.8h0M1024 373.8h0M1025.2 375.2h0M1026.4 379.8h0M1027.5 384.5h0M1028.7 388.2h0M1029.8 390.6h0M1031 392.1h0M1032.1 393h0M1033.3 393.5h0M1034.4 393.9h0M1035.6 394.2h0M1036.7 394.4h0M1037.9 394.5h0M1039.1 394.6h0M1040.2 394.7h0M1041.4 394.8h0M1042.5 394.9h0M1043.7 394.9h0M1044.8 395h0M1046 395h0M1047.1 395h0M1048.3 395.1h0M1049.4 395.1h0M1050.6 395.1h0M1051.8 395.1h0M1052.9 395.2h0M1054.1 395.2h0M1055.2 395.2h0M1056.4 395.2h0M1057.5 395.2h0M1058.7 395.2h0M1059.8 395.2h0M1061 395.2h0M1062.1 395.2h0M1063.3 395.3h0M1064.5 395.3h0"/>
<path d="M252.9 541.7h0M254 541.7h0M255.2 541.7h0M256.4 541.7h0M257.5 541.7h0M258.7 541.6h0M259.8 541.6h0M261 541.6h0M262.1 541.6h0M263.3 541.5h0M264.4 541.5h0M265.6 541.5h0M266.7 541.4h0M267.9 541.4h0M269.1 541.3h0M270.2 541.3h0M271.4 541.2h0M272.5 541.1h0M273.7 541.1h0M274.8 541h0M276 540.8h0M277.1 540.7h0M278.3 540.5h0M279.4 540.3h0M280.6 540.1h0M281.8 539.8h0M282.9 539.4h0M284.1 538.9h0M285.2 538.2h0M286.4 537.3h0M287.5 536.1h0M288.7 534.1h0M289.8 530.9h0M291 525h0M292.1 514.5h0M293.3 497.9h0M294.5 476.7h0M295.6 462h0M296.8 468.9h0M297.9 489.6h0M299.1 508.6h0M300.2 521.4h0M301.4 528.8h0M302.5 532.9h0M303.7 535.3h0M304.8 536.7h0M306 537.7h0M307.1 538.4h0M308.3 539h0M309.5 539.4h0M310.6 539.7h0M311.8 539.9h0M312.9 540h0M314.1 540.1h0M315.2 540.2h0M316.4 540.2h0M317.5 540.1h0M318.7 539.9h0M319.8 539.6h0M321 538.9h0M322.2 537.6h0M323.3 535.6h0M324.5 533.1h0M325.6 532h0M326.8 533.3h0M327.9 534.9h0M329.1 535.1h0M330.2 533.4h0M331.4 529.3h0M332.5 523.2h0M333.7 518.6h0M334.9 521h0M336 527.6h0M337.2 533.1h0M338.3 536.6h0M339.5 538.5h0M340.6 539.5h0M341.8 540.1h0M342.9 540.4h0M344.1 540.7h0M345.2 540.9h0M346.4 541.1h0M347.6 541.2h0M348.7 541.3h0M349.9 541.3h0M351 541.4h0M352.2 541.5h0M353.3 541.5h0M354.5 541.5h0M355.6 541.6h0M356.8 541.6h0M357.9 541.6h0M359.1 541.6h0M360.3 541.7h0M361.4 541.7h0M362.6 541.7h0M363.7 541.7h0M364.9 541.7h0M366 541.7h0M367.2 541.7h0M368.3 541.8h0M369.5 541.8h0M370.6 541.8h0M371.8 541.8h0M373 541.8h0M374.1 541.8h0M375.3 541.8h0M376.4 541.8h0M377.6 541.8h0M378.7 541.8h0M379.9 541.8h0M381 541.8h0M382.2 541.8h0M383.3 541.8h0M384.5 541.8h0M385.7 541.8h0M386.8 541.8h0M388 541.8h0M389.1 541.8h0M390.3 541.8h0M391.4 541.8h0M392.6 541.8h0M393.7 541.8h0M394.9 541.8h0M396 541.8h0M397.2 541.8h0M398.3 541.8h0M399.5 541.8h0M400.7 541.8h0M401.8 541.8h0M403 541.8h0M404.1 541.8h0M405.3 541.8h0M406.4 541.8h0M407.6 541.8h0M408.7 541.8h0M409.9 541.8h0M411 541.8h0M412.2 541.8h0M413.4 541.8h0M414.5 541.8h0M415.7 541.8h0M416.8 541.8h0M418 541.8h0M419.1 541.8h0M420.3 541.8h0M421.4 541.8h0M422.6 541.8h0M423.7 541.8h0M424.9 541.7h0M426.1 541.7h0M427.2 541.7h0M428.4 541.7h0M429.5 541.7h0M430.7 541.7h0M431.8 541.7h0M433 541.7h0M434.1 541.7h0M435.3 541.6h0M436.4 541.6h0M437.6 541.6h0M438.8 541.6h0M439.9 541.6h0M441.1 541.5h0M442.2 541.5h0M443.4 541.5h0M444.5 541.4h0M445.7 541.4h0M446.8 541.3h0M448 541.3h0M449.1 541.2h0M450.3 541.2h0M451.5 541.1h0M452.6 541h0M453.8 540.9h0M454.9 540.8h0M456.1 540.6h0M457.2 540.5h0M458.4 540.3h0M459.5 540h0M460.7 539.7h0M461.8 539.3h0M463 538.9h0M464.2 538.2h0M465.3 537.4h0M466.5 536.2h0M467.6 534.6h0M468.8 532.2h0M469.9 528.1h0M471.1 520.2h0M472.2 504.1h0M473.4 474.5h0M474.5 432.4h0M475.7 407h0M476.9 432.4h0M478 474.5h0M479.2 504.1h0M480.3 520.2h0M481.5 528.1h0M482.6 532.2h0M483.8 534.6h0M484.9 536.2h0M486.1 537.4h0M487.2 538.2h0M488.4 538.9h0M489.5 539.3h0M490.7 539.7h0M491.9 540h0M493 540.3h0M494.2 540.5h0M495.3 540.6h0M496.5 540.8h0M497.6 540.9h0M498.8 541h0M499.9 541.1h0M501.1 541.2h0M502.2 541.2h0M503.4 541.3h0M504.6 541.3h0M505.7 541.4h0M506.9 541.4h0M508 541.5h0M509.2 541.5h0M510.3 541.5h0M511.5 541.5h0M512.6 541.6h0M513.8 541.6h0M514.9 541.6h0M516.1 541.6h0M517.3 541.6h0M518.4 541.7h0M519.6 541.7h0M520.7 541.7h0M521.9 541.7h0M523 541.7h0M524.2 541.7h0M525.3 541.7h0M526.5 541.7h0M527.6 541.7h0M528.8 541.7h0M530 541.7h0M531.1 541.7h0M532.3 541.7h0M533.4 541.7h0M534.6 541.7h0M535.7 541.7h0M536.9 541.7h0M538 541.7h0M539.2 541.7h0M540.3 541.7h0M541.5 541.7h0M542.7 541.7h0M543.8 541.7h0M545 541.7h0M546.1 541.7h0M547.3 541.7h0M548.4 541.6h0M549.6 541.6h0M550.7 541.6h0M551.9 541.6h0M553 541.5h0M554.2 541.5h0M555.4 541.4h0M556.5 541.3h0M557.7 541.2h0M558.8 541.1h0M560 541h0M561.1 540.8h0M562.3 540.5h0M563.4 540.1h0M564.6 539.4h0M565.7 538.2h0M566.9 536h0M568.1 532.4h0M569.2 526.9h0M570.4 521h0M571.5 519h0M572.7 523.2h0M573.8 529.3h0M575 534.1h0M576.1 537.1h0M577.3 538.8h0M578.4 539.7h0M579.6 540.3h0M580.7 540.6h0M581.9 540.9h0M583.1 541.1h0M584.2 541.2h0M585.4 541.3h0M586.5 541.4h0M587.7 541.5h0M588.8 541.5h0M590 541.6h0M591.1 541.6h0M592.3 541.7h0M593.4 541.7h0M594.6 541.7h0M595.8 541.7h0M596.9 541.8h0M598.1 541.8h0M599.2 541.8h0M600.4 541.8h0M601.5 541.8h0M602.7 541.8h0M603.8 541.8h0M605 541.8h0M606.1 541.9h0M607.3 541.9h0M608.5 541.9h0M609.6 541.9h0M610.8 541.9h0M611.9 541.9h0M613.1 541.9h0M614.2 541.9h0M615.4 541.9h0M616.5 541.9h0M617.7 541.9h0M618.8 541.9h0M620 541.9h0M621.2 541.9h0M622.3 541.9h0M623.5 541.9h0M624.6 541.9h0M625.8 541.9h0M626.9 541.9h0M628.1 541.9h0M629.2 541.9h0M630.4 541.9h0M631.5 541.9h0M632.7 541.9h0M633.9 541.9h0M635 541.9h0M636.2 541.9h0M637.3 541.9h0M638.5 541.9h0M639.6 541.9h0M640.8 541.9h0M641.9 541.9h0M643.1 541.9h0M644.2 541.9h0M645.4 541.9h0M646.6 541.9h0M647.7 541.9h0M648.9 541.9h0M650 541.9h0M651.2 541.9h0M652.3 541.9h0M653.5 541.9h0M654.6 541.9h0M655.8 541.9h0M656.9 541.9h0M658.1 542h0M659.2 542h0M660.4 542h0M661.6 542h0M662.7 542h0M663.9 542h0M665 542h0M666.2 542h0M667.3 542h0M668.5 542h0M669.6 542h0M670.8 542h0M671.9 542h0M673.1 542h0M674.3 542h0M675.4 542h0M676.6 542h0M677.7 542h0M678.9 542h0M680 542h0M681.2 542h0M682.3 542h0M683.5 542h0M684.6 542h0M685.8 542h0M687 542h0M688.1 542h0M689.3 542h0M690.4 542h0M691.6 542h0M692.7 542h0M693.9 542h0M695 542h0M696.2 542h0M697.3 542h0M698.5 542h0M699.7 542h0M700.8 542h0M702 542h0M703.1 542h0M704.3 542h0M705.4 542h0M706.6 542h0M707.7 542h0M708.9 542h0M710 542h0M711.2 542h0M712.4 542h0M713.5 542h0M714.7 542h0M715.8 542h0M717 542h0M718.1 542h0M719.3 542h0M720.4 542h0M721.6 542h0M722.7 542h0M723.9 542h0M725.1 542h0M726.2 542h0M727.4 541.9h0M728.5 541.9h0M729.7 541.9h0M730.8 541.9h0M732 541.9h0M733.1 541.9h0M734.3 541.9h0M735.4 541.9h0M736.6 541.9h0M737.8 541.9h0M738.9 541.9h0M740.1 541.9h0M741.2 541.9h0M742.4 541.9h0M743.5 541.9h0M744.7 541.9h0M745.8 541.9h0M747 541.9h0M748.1 541.9h0M749.3 541.9h0M750.4 541.9h0M751.6 541.9h0M752.8 541.9h0M753.9 541.9h0M755.1 541.9h0M756.2 541.9h0M757.4 541.9h0M758.5 541.9h0M759.7 541.9h0M760.8 541.9h0M762 541.9h0M763.1 541.9h0M764.3 541.9h0M765.5 541.9h0M766.6 541.9h0M767.8 541.9h0M768.9 541.9h0M770.1 541.9h0M771.2 541.8h0M772.4 541.8h0M773.5 541.8h0M774.7 541.8h0M775.8 541.8h0M777 541.8h0M778.2 541.8h0M779.3 541.7h0M780.5 541.7h0M781.6 541.7h0M782.8 541.7h0M783.9 541.6h0M785.1 541.6h0M786.2 541.5h0M787.4 541.5h0M788.5 541.4h0M789.7 541.3h0M790.9 541.1h0M792 541h0M793.2 540.7h0M794.3 540.4h0M795.5 540h0M796.6 539.2h0M797.8 538h0M798.9 535.8h0M800.1 532.3h0M801.2 527.5h0M802.4 522.6h0M803.6 521h0M804.7 524.4h0M805.9 529.5h0M807 533.9h0M808.2 536.8h0M809.3 538.6h0M810.5 539.6h0M811.6 540.2h0M812.8 540.6h0M813.9 540.8h0M815.1 541h0M816.3 541.2h0M817.4 541.3h0M818.6 541.4h0M819.7 541.5h0M820.9 541.5h0M822 541.6h0M823.2 541.6h0M824.3 541.7h0M825.5 541.7h0M826.6 541.7h0M827.8 541.7h0M829 541.8h0M830.1 541.8h0M831.3 541.8h0M832.4 541.8h0M833.6 541.8h0M834.7 541.8h0M835.9 541.8h0M837 541.8h0M838.2 541.8h0M839.3 541.8h0M840.5 541.9h0M841.6 541.9h0M842.8 541.9h0M844 541.9h0M845.1 541.9h0M846.3 541.9h0M847.4 541.9h0M848.6 541.9h0M849.7 541.9h0M850.9 541.9h0M852 541.9h0M853.2 541.9h0M854.3 541.9h0M855.5 541.9h0M856.7 541.9h0M857.8 541.9h0M859 541.9h0M860.1 541.9h0M861.3 541.9h0M862.4 541.9h0M863.6 541.9h0M864.7 541.9h0M865.9 541.9h0M867 541.9h0M868.2 541.9h0M869.4 541.9h0M870.5 541.9h0M871.7 541.9h0M872.8 541.9h0M874 541.9h0M875.1 541.9h0M876.3 541.9h0M877.4 541.9h0M878.6 541.9h0M879.7 541.9h0M880.9 541.9h0M882.1 541.9h0M883.2 541.9h0M884.4 541.8h0M885.5 541.8h0M886.7 541.8h0M887.8 541.8h0M889 541.8h0M890.1 541.8h0M891.3 541.8h0M892.4 541.8h0M893.6 541.8h0M894.8 541.8h0M895.9 541.8h0M897.1 541.8h0M898.2 541.8h0M899.4 541.8h0M900.5 541.7h0M901.7 541.7h0M902.8 541.7h0M904 541.7h0M905.1 541.7h0M906.3 541.7h0M907.5 541.6h0M908.6 541.6h0M909.8 541.6h0M910.9 541.6h0M912.1 541.5h0M913.2 541.5h0M914.4 541.4h0M915.5 541.4h0M916.7 541.3h0M917.8 541.3h0M919 541.2h0M920.2 541.1h0M921.3 541h0M922.5 540.8h0M923.6 540.7h0M924.8 540.5h0M925.9 540.2h0M927.1 539.8h0M928.2 539.3h0M929.4 538.6h0M930.5 537.4h0M931.7 535.5h0M932.8 532.5h0M934 528.3h0M935.2 523.1h0M936.3 518.7h0M937.5 518h0M938.6 521.3h0M939.8 525.7h0M940.9 529.2h0M942.1 531h0M943.2 530.8h0M944.4 528.6h0M945.5 524.5h0M946.7 519h0M947.9 514.3h0M949 514h0M950.2 518.6h0M951.3 524.7h0M952.5 530h0M953.6 533.8h0M954.8 536.3h0M955.9 537.9h0M957.1 538.8h0M958.2 539.5h0M959.4 539.9h0M960.6 540.2h0M961.7 540.5h0M962.9 540.7h0M964 540.8h0M965.2 541h0M966.3 541.1h0M967.5 541.2h0M968.6 541.2h0M969.8 541.3h0M970.9 541.4h0M972.1 541.4h0M973.3 541.5h0M974.4 541.5h0M975.6 541.5h0M976.7 541.5h0M977.9 541.6h0M979 541.6h0M980.2 541.6h0M981.3 541.6h0M982.5 541.6h0M983.6 541.7h0M984.8 541.7h0M986 541.7h0M987.1 541.7h0M988.3 541.7h0M989.4 541.7h0M990.6 541.7h0M991.7 541.7h0M992.9 541.7h0M994 541.7h0M995.2 541.7h0M996.3 541.7h0M997.5 541.7h0M998.7 541.7h0M999.8 541.7h0M1001 541.7h0M1002.1 541.6h0M1003.3 541.6h0M1004.4 541.6h0M1005.6 541.6h0M1006.7 541.5h0M1007.9 541.5h0M1009 541.4h0M1010.2 541.3h0M1011.4 541.2h0M1012.5 541.1h0M1013.7 540.9h0M1014.8 540.7h0M1016 540.4h0M1017.1 539.8h0M1018.3 538.9h0M1019.4 537.4h0M1020.6 535.1h0M1021.7 531.9h0M1022.9 528.2h0M1024 526h0M1025.2 527h0M1026.4 530.4h0M1027.5 533.9h0M1028.7 536.6h0M1029.8 538.4h0M1031 539.5h0M1032.1 540.2h0M1033.3 540.6h0M1034.4 540.9h0M1035.6 541.1h0M1036.7 541.2h0M1037.9 541.3h0M1039.1 541.4h0M1040.2 541.5h0M1041.4 541.6h0M1042.5 541.6h0M1043.7 541.6h0M1044.8 541.7h0M1046 541.7h0M1047.1 541.7h0M1048.3 541.8h0M1049.4 541.8h0M1050.6 541.8h0M1051.8 541.8h0M1052.9 541.8h0M1054.1 541.8h0M1055.2 541.8h0M1056.4 541.8h0M1057.5 541.9h0M1058.7 541.9h0M1059.8 541.9h0M1061 541.9h0M1062.1 541.9h0M1063.3 541.9h0M1064.5 541.9h0"/>
<path d="M252.9 677.7h0M254 677.6h0M255.2 677.6h0M256.4 677.6h0M257.5 677.6h0M258.7 677.6h0M259.8 677.6h0M261 677.6h0M262.1 677.5h0M263.3 677.5h0M264.4 677.5h0M265.6 677.5h0M266.7 677.4h0M267.9 677.4h0M269.1 677.3h0M270.2 677.3h0M271.4 677.2h0M272.5 677.2h0M273.7 677.1h0M274.8 677h0M276 676.9h0M277.1 676.8h0M278.3 676.7h0M279.4 676.5h0M280.6 676.4h0M281.8 676.1h0M282.9 675.8h0M284.1 675.5h0M285.2 675h0M286.4 674.4h0M287.5 673.5h0M288.7 672.3h0M289.8 670.4h0M291 667.2h0M292.1 661.2h0M293.3 650.9h0M294.5 635h0M295.6 616.1h0M296.8 606.2h0M297.9 616.1h0M299.1 635h0M300.2 650.8h0M301.4 661.2h0M302.5 667.1h0M303.7 670.3h0M304.8 672.2h0M306 673.4h0M307.1 674.2h0M308.3 674.8h0M309.5 675.2h0M310.6 675.6h0M311.8 675.8h0M312.9 676h0M314.1 676.1h0M315.2 676.1h0M316.4 676.2h0M317.5 676.1h0M318.7 676h0M319.8 675.7h0M321 675.2h0M322.2 674.2h0M323.3 672.4h0M324.5 669.9h0M325.6 667.9h0M326.8 668.4h0M327.9 670.3h0M329.1 671.4h0M330.2 670.9h0M331.4 668.3h0M332.5 663.4h0M333.7 657.3h0M334.9 655.2h0M336 659.9h0M337.2 666.3h0M338.3 670.9h0M339.5 673.5h0M340.6 674.9h0M341.8 675.7h0M342.9 676.2h0M344.1 676.5h0M345.2 676.7h0M346.4 676.9h0M347.6 677h0M348.7 677.1h0M349.9 677.2h0M351 677.3h0M352.2 677.4h0M353.3 677.4h0M354.5 677.4h0M355.6 677.5h0M356.8 677.5h0M357.9 677.5h0M359.1 677.6h0M360.3 677.6h0M361.4 677.6h0M362.6 677.6h0M363.7 677.6h0M364.9 677.6h0M366 677.6h0M367.2 677.7h0M368.3 677.7h0M369.5 677.7h0M370.6 677.7h0M371.8 677.7h0M373 677.7h0M374.1 677.7h0M375.3 677.7h0M376.4 677.7h0M377.6 677.7h0M378.7 677.7h0M379.9 677.7h0M381 677.7h0M382.2 677.7h0M383.3 677.7h0M384.5 677.7h0M385.7 677.7h0M386.8 677.7h0M388 677.7h0M389.1 677.7h0M390.3 677.7h0M391.4 677.7h0M392.6 677.7h0M393.7 677.7h0M394.9 677.7h0M396 677.7h0M397.2 677.7h0M398.3 677.7h0M399.5 677.7h0M400.7 677.7h0M401.8 677.7h0M403 677.7h0M404.1 677.7h0M405.3 677.7h0M406.4 677.7h0M407.6 677.7h0M408.7 677.7h0M409.9 677.7h0M411 677.7h0M412.2 677.7h0M413.4 677.7h0M414.5 677.7h0M415.7 677.7h0M416.8 677.7h0M418 677.7h0M419.1 677.7h0M420.3 677.7h0M421.4 677.7h0M422.6 677.7h0M423.7 677.7h0M424.9 677.7h0M426.1 677.7h0M427.2 677.6h0M428.4 677.6h0M429.5 677.6h0M430.7 677.6h0M431.8 677.6h0M433 677.6h0M434.1 677.6h0M435.3 677.6h0M436.4 677.5h0M437.6 677.5h0M438.8 677.5h0M439.9 677.5h0M441.1 677.5h0M442.2 677.4h0M443.4 677.4h0M444.5 677.4h0M445.7 677.3h0M446.8 677.3h0M448 677.2h0M449.1 677.2h0M450.3 677.1h0M451.5 677.1h0M452.6 677h0M453.8 676.9h0M454.9 676.8h0M456.1 676.7h0M457.2 676.5h0M458.4 676.3h0M459.5 676.1h0M460.7 675.8h0M461.8 675.5h0M463 675.1h0M464.2 674.5h0M465.3 673.8h0M466.5 672.8h0M467.6 671.4h0M468.8 669.3h0M469.9 665.8h0M471.1 659.4h0M472.2 646.4h0M473.4 621.5h0M474.5 583.6h0M475.7 552.9h0M476.9 568h0M478 607.6h0M479.2 638.1h0M480.3 655.3h0M481.5 663.8h0M482.6 668.1h0M483.8 670.6h0M484.9 672.3h0M486.1 673.4h0M487.2 674.2h0M488.4 674.9h0M489.5 675.3h0M490.7 675.7h0M491.9 676h0M493 676.2h0M494.2 676.4h0M495.3 676.6h0M496.5 676.7h0M497.6 676.8h0M498.8 676.9h0M499.9 677h0M501.1 677.1h0M502.2 677.2h0M503.4 677.2h0M504.6 677.3h0M505.7 677.3h0M506.9 677.4h0M508 677.4h0M509.2 677.4h0M510.3 677.4h0M511.5 677.5h0M512.6 677.5h0M513.8 677.5h0M514.9 677.5h0M516.1 677.6h0M517.3 677.6h0M518.4 677.6h0M519.6 677.6h0M520.7 677.6h0M521.9 677.6h0M523 677.6h0M524.2 677.6h0M525.3 677.6h0M526.5 677.6h0M527.6 677.7h0M528.8 677.7h0M530 677.7h0M531.1 677.7h0M532.3 677.7h0M533.4 677.7h0M534.6 677.7h0M535.7 677.7h0M536.9 677.7h0M538 677.7h0M539.2 677.7h0M540.3 677.7h0M541.5 677.7h0M542.7 677.7h0M543.8 677.6h0M545 677.6h0M546.1 677.6h0M547.3 677.6h0M548.4 677.6h0M549.6 677.6h0M550.7 677.6h0M551.9 677.5h0M553 677.5h0M554.2 677.5h0M555.4 677.4h0M556.5 677.4h0M557.7 677.3h0M558.8 677.2h0M560 677.1h0M561.1 677h0M562.3 676.8h0M563.4 676.5h0M564.6 676.1h0M565.7 675.4h0M566.9 674.2h0M568.1 671.9h0M569.2 668.3h0M570.4 663.3h0M571.5 659.2h0M572.7 659.8h0M573.8 664.4h0M575 669.1h0M576.1 672.5h0M577.3 674.5h0M578.4 675.6h0M579.6 676.2h0M580.7 676.6h0M581.9 676.8h0M583.1 677h0M584.2 677.2h0M585.4 677.3h0M586.5 677.4h0M587.7 677.4h0M588.8 677.5h0M590 677.5h0M591.1 677.6h0M592.3 677.6h0M593.4 677.6h0M594.6 677.6h0M595.8 677.7h0M596.9 677.7h0M598.1 677.7h0M599.2 677.7h0M600.4 677.7h0M601.5 677.7h0M602.7 677.7h0M603.8 677.8h0M605 677.8h0M606.1 677.8h0M607.3 677.8h0M608.5 677.8h0M609.6 677.8h0M610.8 677.8h0M611.9 677.8h0M613.1 677.8h0M614.2 677.8h0M615.4 677.8h0M616.5 677.8h0M617.7 677.8h0M618.8 677.8h0M620 677.8h0M621.2 677.8h0M622.3 677.8h0M623.5 677.8h0M624.6 677.8h0M625.8 677.8h0M626.9 677.8h0M628.1 677.8h0M629.2 677.8h0M630.4 677.8h0M631.5 677.8h0M632.7 677.8h0M633.9 677.8h0M635 677.8h0M636.2 677.8h0M637.3 677.8h0M638.5 677.8h0M639.6 677.8h0M640.8 677.8h0M641.9 677.8h0M643.1 677.8h0M644.2 677.8h0M645.4 677.8h0M646.6 677.8h0M647.7 677.9h0M648.9 677.9h0M650 677.9h0M651.2 677.9h0M652.3 677.9h0M653.5 677.9h0M654.6 677.9h0M655.8 677.9h0M656.9 677.9h0M658.1 677.9h0M659.2 677.9h0M660.4 677.9h0M661.6 677.9h0M662.7 677.9h0M663.9 677.9h0M665 677.9h0M666.2 677.9h0M667.3 677.9h0M668.5 677.9h0M669.6 677.9h0M670.8 677.9h0M671.9 677.9h0M673.1 677.9h0M674.3 677.9h0M675.4 677.9h0M676.6 677.9h0M677.7 677.9h0M678.9 677.9h0M680 677.9h0M681.2 677.9h0M682.3 677.9h0M683.5 677.9h0M684.6 677.9h0M685.8 677.9h0M687 677.9h0M688.1 677.9h0M689.3 677.9h0M690.4 677.9h0M691.6 677.9h0M692.7 677.9h0M693.9 677.9h0M695 677.9h0M696.2 677.9h0M697.3 677.9h0M698.5 677.9h0M699.7 677.9h0M700.8 677.9h0M702 677.9h0M703.1 677.9h0M704.3 677.9h0M705.4 677.9h0M706.6 677.9h0M707.7 677.9h0M708.9 677.9h0M710 677.9h0M711.2 677.9h0M712.4 677.9h0M713.5 677.9h0M714.7 677.9h0M715.8 677.9h0M717 677.9h0M718.1 677.9h0M719.3 677.9h0M720.4 677.9h0M721.6 677.9h0M722.7 677.9h0M723.9 677.9h0M725.1 677.9h0M726.2 677.9h0M727.4 677.9h0M728.5 677.9h0M729.7 677.9h0M730.8 677.9h0M732 677.9h0M733.1 677.9h0M734.3 677.9h0M735.4 677.8h0M736.6 677.8h0M737.8 677.8h0M738.9 677.8h0M740.1 677.8h0M741.2 677.8h0M742.4 677.8h0M743.5 677.8h0M744.7 677.8h0M745.8 677.8h0M747 677.8h0M748.1 677.8h0M749.3 677.8h0M750.4 677.8h0M751.6 677.8h0M752.8 677.8h0M753.9 677.8h0M755.1 677.8h0M756.2 677.8h0M757.4 677.8h0M758.5 677.8h0M759.7 677.8h0M760.8 677.8h0M762 677.8h0M763.1 677.8h0M764.3 677.8h0M765.5 677.8h0M766.6 677.8h0M767.8 677.8h0M768.9 677.8h0M770.1 677.8h0M771.2 677.8h0M772.4 677.8h0M773.5 677.7h0M774.7 677.7h0M775.8 677.7h0M777 677.7h0M778.2 677.7h0M779.3 677.7h0M780.5 677.7h0M781.6 677.6h0M782.8 677.6h0M783.9 677.6h0M785.1 677.5h0M786.2 677.5h0M787.4 677.4h0M788.5 677.4h0M789.7 677.3h0M790.9 677.2h0M792 677.1h0M793.2 676.9h0M794.3 676.6h0M795.5 676.3h0M796.6 675.8h0M797.8 675h0M798.9 673.5h0M800.1 671.1h0M801.2 667.3h0M802.4 662.6h0M803.6 658.9h0M804.7 659.4h0M805.9 663.6h0M807 668.2h0M808.2 671.6h0M809.3 673.9h0M810.5 675.2h0M811.6 675.9h0M812.8 676.4h0M813.9 676.7h0M815.1 676.9h0M816.3 677.1h0M817.4 677.2h0M818.6 677.3h0M819.7 677.4h0M820.9 677.4h0M822 677.5h0M823.2 677.5h0M824.3 677.6h0M825.5 677.6h0M826.6 677.6h0M827.8 677.6h0M829 677.7h0M830.1 677.7h0M831.3 677.7h0M832.4 677.7h0M833.6 677.7h0M834.7 677.7h0M835.9 677.7h0M837 677.7h0M838.2 677.7h0M839.3 677.8h0M840.5 677.8h0M841.6 677.8h0M842.8 677.8h0M844 677.8h0M845.1 677.8h0M846.3 677.8h0M847.4 677.8h0M848.6 677.8h0M849.7 677.8h0M850.9 677.8h0M852 677.8h0M853.2 677.8h0M854.3 677.8h0M855.5 677.8h0M856.7 677.8h0M857.8 677.8h0M859 677.8h0M860.1 677.8h0M861.3 677.8h0M862.4 677.8h0M863.6 677.8h0M864.7 677.8h0M865.9 677.8h0M867 677.8h0M868.2 677.8h0M869.4 677.8h0M870.5 677.8h0M871.7 677.8h0M872.8 677.8h0M874 677.8h0M875.1 677.8h0M876.3 677.8h0M877.4 677.8h0M878.6 677.8h0M879.7 677.8h0M880.9 677.8h0M882.1 677.8h0M883.2 677.8h0M884.4 677.8h0M885.5 677.8h0M886.7 677.8h0M887.8 677.7h0M889 677.7h0M890.1 677.7h0M891.3 677.7h0M892.4 677.7h0M893.6 677.7h0M894.8 677.7h0M895.9 677.7h0M897.1 677.7h0M898.2 677.7h0M899.4 677.7h0M900.5 677.7h0M901.7 677.7h0M902.8 677.6h0M904 677.6h0M905.1 677.6h0M906.3 677.6h0M907.5 677.6h0M908.6 677.5h0M909.8 677.5h0M910.9 677.5h0M912.1 677.5h0M913.2 677.4h0M914.4 677.4h0M915.5 677.3h0M916.7 677.3h0M917.8 677.2h0M919 677.2h0M920.2 677.1h0M921.3 677h0M922.5 676.8h0M923.6 676.7h0M924.8 676.5h0M925.9 676.3h0M927.1 675.9h0M928.2 675.5h0M929.4 674.9h0M930.5 673.8h0M931.7 672.2h0M932.8 669.6h0M934 665.8h0M935.2 661h0M936.3 656.4h0M937.5 654.9h0M938.6 657.5h0M939.8 661.9h0M940.9 665.7h0M942.1 668h0M943.2 668.7h0M944.4 667.7h0M945.5 665h0M946.7 660.7h0M947.9 655.8h0M949 652.9h0M950.2 654.5h0M951.3 659.5h0M952.5 664.7h0M953.6 668.9h0M954.8 671.7h0M955.9 673.5h0M957.1 674.6h0M958.2 675.3h0M959.4 675.8h0M960.6 676.2h0M961.7 676.4h0M962.9 676.6h0M964 676.8h0M965.2 676.9h0M966.3 677h0M967.5 677.1h0M968.6 677.2h0M969.8 677.2h0M970.9 677.3h0M972.1 677.3h0M973.3 677.4h0M974.4 677.4h0M975.6 677.5h0M976.7 677.5h0M977.9 677.5h0M979 677.5h0M980.2 677.5h0M981.3 677.6h0M982.5 677.6h0M983.6 677.6h0M984.8 677.6h0M986 677.6h0M987.1 677.6h0M988.3 677.6h0M989.4 677.6h0M990.6 677.6h0M991.7 677.6h0M992.9 677.6h0M994 677.6h0M995.2 677.6h0M996.3 677.6h0M997.5 677.6h0M998.7 677.6h0M999.8 677.6h0M1001 677.6h0M1002.1 677.6h0M1003.3 677.6h0M1004.4 677.5h0M1005.6 677.5h0M1006.7 677.5h0M1007.9 677.4h0M1009 677.4h0M1010.2 677.3h0M1011.4 677.2h0M1012.5 677.1h0M1013.7 677h0M1014.8 676.8h0M1016 676.5h0M1017.1 676h0M1018.3 675.2h0M1019.4 673.9h0M1020.6 671.9h0M1021.7 669h0M1022.9 665.9h0M1024 663.9h0M1025.2 664.8h0M1026.4 667.8h0M1027.5 670.8h0M1028.7 673.2h0M1029.8 674.8h0M1031 675.7h0M1032.1 676.3h0M1033.3 676.7h0M1034.4 676.9h0M1035.6 677.1h0M1036.7 677.2h0M1037.9 677.3h0M1039.1 677.4h0M1040.2 677.5h0M1041.4 677.5h0M1042.5 677.5h0M1043.7 677.6h0M1044.8 677.6h0M1046 677.6h0M1047.1 677.7h0M1048.3 677.7h0M1049.4 677.7h0M1050.6 677.7h0M1051.8 677.7h0M1052.9 677.7h0M1054.1 677.7h0M1055.2 677.8h0M1056.4 677.8h0M1057.5 677.8h0M1058.7 677.8h0M1059.8 677.8h0M1061 677.8h0M1062.1 677.8h0M1063.3 677.8h0M1064.5 677.8h0"/>
<path d="M252.9 814.1h0M254 814.1h0M255.2 814.1h0M256.4 814.1h0M257.5 814.1h0M258.7 814h0M259.8 814h0M261 814h0M262.1 814h0M263.3 813.9h0M264.4 813.9h0M265.6 813.9h0M266.7 813.8h0M267.9 813.8h0M269.1 813.7h0M270.2 813.7h0M271.4 813.6h0M272.5 813.6h0M273.7 813.5h0M274.8 813.4h0M276 813.3h0M277.1 813.1h0M278.3 813h0M279.4 812.8h0M280.6 812.5h0M281.8 812.2h0M282.9 811.8h0M284.1 811.4h0M285.2 810.7h0M286.4 809.8h0M287.5 808.6h0M288.7 806.7h0M289.8 803.5h0M291 797.8h0M292.1 787.6h0M293.3 771.4h0M294.5 750.7h0M295.6 736.4h0M296.8 743.2h0M297.9 763.3h0M299.1 781.8h0M300.2 794.3h0M301.4 801.5h0M302.5 805.6h0M303.7 807.8h0M304.8 809.3h0M306 810.2h0M307.1 810.9h0M308.3 811.4h0M309.5 811.8h0M310.6 812.1h0M311.8 812.3h0M312.9 812.4h0M314.1 812.5h0M315.2 812.6h0M316.4 812.6h0M317.5 812.5h0M318.7 812.3h0M319.8 812h0M321 811.3h0M322.2 810.1h0M323.3 807.9h0M324.5 804.9h0M325.6 802.6h0M326.8 803.3h0M327.9 805.5h0M329.1 806.9h0M330.2 806.3h0M331.4 803.2h0M332.5 797.7h0M333.7 791.6h0M334.9 791h0M336 796.9h0M337.2 803.3h0M338.3 807.7h0M339.5 810.1h0M340.6 811.5h0M341.8 812.2h0M342.9 812.7h0M344.1 813h0M345.2 813.2h0M346.4 813.4h0M347.6 813.5h0M348.7 813.6h0M349.9 813.7h0M351 813.8h0M352.2 813.8h0M353.3 813.9h0M354.5 813.9h0M355.6 813.9h0M356.8 814h0M357.9 814h0M359.1 814h0M360.3 814.1h0M361.4 814.1h0M362.6 814.1h0M363.7 814.1h0M364.9 814.1h0M366 814.1h0M367.2 814.1h0M368.3 814.1h0M369.5 814.2h0M370.6 814.2h0M371.8 814.2h0M373 814.2h0M374.1 814.2h0M375.3 814.2h0M376.4 814.2h0M377.6 814.2h0M378.7 814.2h0M379.9 814.2h0M381 814.2h0M382.2 814.2h0M383.3 814.2h0M384.5 814.2h0M385.7 814.2h0M386.8 814.2h0M388 814.2h0M389.1 814.2h0M390.3 814.2h0M391.4 814.2h0M392.6 814.2h0M393.7 814.2h0M394.9 814.2h0M396 814.2h0M397.2 814.2h0M398.3 814.2h0M399.5 814.2h0M400.7 814.2h0M401.8 814.2h0M403 814.2h0M404.1 814.2h0M405.3 814.2h0M406.4 814.2h0M407.6 814.2h0M408.7 814.2h0M409.9 814.2h0M411 814.2h0M412.2 814.2h0M413.4 814.2h0M414.5 814.2h0M415.7 814.2h0M416.8 814.2h0M418 814.2h0M419.1 814.2h0M420.3 814.2h0M421.4 814.2h0M422.6 814.2h0M423.7 814.1h0M424.9 814.1h0M426.1 814.1h0M427.2 814.1h0M428.4 814.1h0M429.5 814.1h0M430.7 814.1h0M431.8 814.1h0M433 814.1h0M434.1 814h0M435.3 814h0M436.4 814h0M437.6 814h0M438.8 814h0M439.9 813.9h0M441.1 813.9h0M442.2 813.9h0M443.4 813.8h0M444.5 813.8h0M445.7 813.8h0M446.8 813.7h0M448 813.6h0M449.1 813.6h0M450.3 813.5h0M451.5 813.4h0M452.6 813.3h0M453.8 813.2h0M454.9 813.1h0M456.1 813h0M457.2 812.8h0M458.4 812.6h0M459.5 812.3h0M460.7 812h0M461.8 811.6h0M463 811.1h0M464.2 810.4h0M465.3 809.5h0M466.5 808.3h0M467.6 806.6h0M468.8 804h0M469.9 799.6h0M471.1 791.3h0M472.2 774.3h0M473.4 742.9h0M474.5 698.4h0M475.7 671.4h0M476.9 698.4h0M478 742.9h0M479.2 774.3h0M480.3 791.3h0M481.5 799.6h0M482.6 804h0M483.8 806.6h0M484.9 808.3h0M486.1 809.5h0M487.2 810.4h0M488.4 811.1h0M489.5 811.6h0M490.7 812h0M491.9 812.3h0M493 812.6h0M494.2 812.8h0M495.3 813h0M496.5 813.1h0M497.6 813.2h0M498.8 813.3h0M499.9 813.4h0M501.1 813.5h0M502.2 813.6h0M503.4 813.6h0M504.6 813.7h0M505.7 813.7h0M506.9 813.8h0M508 813.8h0M509.2 813.9h0M510.3 813.9h0M511.5 813.9h0M512.6 813.9h0M513.8 814h0M514.9 814h0M516.1 814h0M517.3 814h0M518.4 814h0M519.6 814.1h0M520.7 814.1h0M521.9 814.1h0M523 814.1h0M524.2 814.1h0M525.3 814.1h0M526.5 814.1h0M527.6 814.1h0M528.8 814.1h0M530 814.1h0M531.1 814.1h0M532.3 814.1h0M533.4 814.1h0M534.6 814.1h0M535.7 814.1h0M536.9 814.1h0M538 814.1h0M539.2 814.1h0M540.3 814.1h0M541.5 814.1h0M542.7 814.1h0M543.8 814.1h0M545 814.1h0M546.1 814.1h0M547.3 814.1h0M548.4 814.1h0M549.6 814.1h0M550.7 814h0M551.9 814h0M553 814h0M554.2 813.9h0M555.4 813.9h0M556.5 813.8h0M557.7 813.8h0M558.8 813.7h0M560 813.6h0M561.1 813.4h0M562.3 813.2h0M563.4 812.9h0M564.6 812.5h0M565.7 811.8h0M566.9 810.6h0M568.1 808.4h0M569.2 804.7h0M570.4 799.4h0M571.5 794.3h0M572.7 793.7h0M573.8 798.3h0M575 803.8h0M576.1 807.8h0M577.3 810.3h0M578.4 811.6h0M579.6 812.4h0M580.7 812.9h0M581.9 813.2h0M583.1 813.4h0M584.2 813.6h0M585.4 813.7h0M586.5 813.8h0M587.7 813.9h0M588.8 813.9h0M590 814h0M591.1 814h0M592.3 814.1h0M593.4 814.1h0M594.6 814.1h0M595.8 814.1h0M596.9 814.2h0M598.1 814.2h0M599.2 814.2h0M600.4 814.2h0M601.5 814.2h0M602.7 814.2h0M603.8 814.2h0M605 814.2h0M606.1 814.3h0M607.3 814.3h0M608.5 814.3h0M609.6 814.3h0M610.8 814.3h0M611.9 814.3h0M613.1 814.3h0M614.2 814.3h0M615.4 814.3h0M616.5 814.3h0M617.7 814.3h0M618.8 814.3h0M620 814.3h0M621.2 814.3h0M622.3 814.3h0M623.5 814.3h0M624.6 814.3h0M625.8 814.3h0M626.9 814.3h0M628.1 814.3h0M629.2 814.3h0M630.4 814.3h0M631.5 814.3h0M632.7 814.3h0M633.9 814.3h0M635 814.3h0M636.2 814.3h0M637.3 814.3h0M638.5 814.3h0M639.6 814.3h0M640.8 814.3h0M641.9 814.3h0M643.1 814.3h0M644.2 814.3h0M645.4 814.3h0M646.6 814.3h0M647.7 814.3h0M648.9 814.3h0M650 814.3h0M651.2 814.3h0M652.3 814.3h0M653.5 814.3h0M654.6 814.3h0M655.8 814.3h0M656.9 814.4h0M658.1 814.4h0M659.2 814.4h0M660.4 814.4h0M661.6 814.4h0M662.7 814.4h0M663.9 814.4h0M665 814.4h0M666.2 814.4h0M667.3 814.4h0M668.5 814.4h0M669.6 814.4h0M670.8 814.4h0M671.9 814.4h0M673.1 814.4h0M674.3 814.4h0M675.4 814.4h0M676.6 814.4h0M677.7 814.4h0M678.9 814.4h0M680 814.4h0M681.2 814.4h0M682.3 814.4h0M683.5 814.4h0M684.6 814.4h0M685.8 814.4h0M687 814.4h0M688.1 814.4h0M689.3 814.4h0M690.4 814.4h0M691.6 814.4h0M692.7 814.4h0M693.9 814.4h0M695 814.4h0M696.2 814.4h0M697.3 814.4h0M698.5 814.4h0M699.7 814.4h0M700.8 814.4h0M702 814.4h0M703.1 814.4h0M704.3 814.4h0M705.4 814.4h0M706.6 814.4h0M707.7 814.4h0M708.9 814.4h0M710 814.4h0M711.2 814.4h0M712.4 814.4h0M713.5 814.4h0M714.7 814.4h0M715.8 814.4h0M717 814.4h0M718.1 814.4h0M719.3 814.4h0M720.4 814.4h0M721.6 814.4h0M722.7 814.4h0M723.9 814.4h0M725.1 814.4h0M726.2 814.4h0M727.4 814.4h0M728.5 814.4h0M729.7 814.4h0M730.8 814.3h0M732 814.3h0M733.1 814.3h0M734.3 814.3h0M735.4 814.3h0M736.6 814.3h0M737.8 814.3h0M738.9 814.3h0M740.1 814.3h0M741.2 814.3h0M742.4 814.3h0M743.5 814.3h0M744.7 814.3h0M745.8 814.3h0M747 814.3h0M748.1 814.3h0M749.3 814.3h0M750.4 814.3h0M751.6 814.3h0M752.8 814.3h0M753.9 814.3h0M755.1 814.3h0M756.2 814.3h0M757.4 814.3h0M758.5 814.3h0M759.7 814.3h0M760.8 814.3h0M762 814.3h0M763.1 814.3h0M764.3 814.3h0M765.5 814.3h0M766.6 814.3h0M767.8 814.3h0M768.9 814.3h0M770.1 814.3h0M771.2 814.3h0M772.4 814.2h0M773.5 814.2h0M774.7 814.2h0M775.8 814.2h0M777 814.2h0M778.2 814.2h0M779.3 814.2h0M780.5 814.1h0M781.6 814.1h0M782.8 814.1h0M783.9 814.1h0M785.1 814h0M786.2 814h0M787.4 813.9h0M788.5 813.9h0M789.7 813.8h0M790.9 813.7h0M792 813.6h0M793.2 813.4h0M794.3 813.2h0M795.5 812.9h0M796.6 812.4h0M797.8 811.6h0M798.9 810.3h0M800.1 808h0M801.2 804.5h0M802.4 799.8h0M803.6 795.6h0M804.7 795.1h0M805.9 798.9h0M807 803.7h0M808.2 807.5h0M809.3 809.9h0M810.5 811.4h0M811.6 812.3h0M812.8 812.8h0M813.9 813.1h0M815.1 813.4h0M816.3 813.5h0M817.4 813.7h0M818.6 813.8h0M819.7 813.8h0M820.9 813.9h0M822 814h0M823.2 814h0M824.3 814h0M825.5 814.1h0M826.6 814.1h0M827.8 814.1h0M829 814.2h0M830.1 814.2h0M831.3 814.2h0M832.4 814.2h0M833.6 814.2h0M834.7 814.2h0M835.9 814.2h0M837 814.2h0M838.2 814.2h0M839.3 814.2h0M840.5 814.3h0M841.6 814.3h0M842.8 814.3h0M844 814.3h0M845.1 814.3h0M846.3 814.3h0M847.4 814.3h0M848.6 814.3h0M849.7 814.3h0M850.9 814.3h0M852 814.3h0M853.2 814.3h0M854.3 814.3h0M855.5 814.3h0M856.7 814.3h0M857.8 814.3h0M859 814.3h0M860.1 814.3h0M861.3 814.3h0M862.4 814.3h0M863.6 814.3h0M864.7 814.3h0M865.9 814.3h0M867 814.3h0M868.2 814.3h0M869.4 814.3h0M870.5 814.3h0M871.7 814.3h0M872.8 814.3h0M874 814.3h0M875.1 814.3h0M876.3 814.3h0M877.4 814.3h0M878.6 814.3h0M879.7 814.3h0M880.9 814.3h0M882.1 814.3h0M883.2 814.3h0M884.4 814.2h0M885.5 814.2h0M886.7 814.2h0M887.8 814.2h0M889 814.2h0M890.1 814.2h0M891.3 814.2h0M892.4 814.2h0M893.6 814.2h0M894.8 814.2h0M895.9 814.2h0M897.1 814.2h0M898.2 814.2h0M899.4 814.2h0M900.5 814.1h0M901.7 814.1h0M902.8 814.1h0M904 814.1h0M905.1 814.1h0M906.3 814.1h0M907.5 814h0M908.6 814h0M909.8 814h0M910.9 814h0M912.1 813.9h0M913.2 813.9h0M914.4 813.8h0M915.5 813.8h0M916.7 813.7h0M917.8 813.7h0M919 813.6h0M920.2 813.5h0M921.3 813.4h0M922.5 813.2h0M923.6 813.1h0M924.8 812.9h0M925.9 812.6h0M927.1 812.2h0M928.2 811.8h0M929.4 811.1h0M930.5 809.9h0M931.7 808.1h0M932.8 805.3h0M934 801.2h0M935.2 796h0M936.3 791.1h0M937.5 789.4h0M938.6 792.2h0M939.8 796.8h0M940.9 800.8h0M942.1 803.2h0M943.2 803.6h0M944.4 802.1h0M945.5 798.6h0M946.7 793.4h0M947.9 787.9h0M949 785.4h0M950.2 788.3h0M951.3 794.4h0M952.5 800.3h0M953.6 804.7h0M954.8 807.8h0M955.9 809.7h0M957.1 810.8h0M958.2 811.6h0M959.4 812.1h0M960.6 812.5h0M961.7 812.8h0M962.9 813h0M964 813.1h0M965.2 813.3h0M966.3 813.4h0M967.5 813.5h0M968.6 813.6h0M969.8 813.7h0M970.9 813.7h0M972.1 813.8h0M973.3 813.8h0M974.4 813.9h0M975.6 813.9h0M976.7 813.9h0M977.9 814h0M979 814h0M980.2 814h0M981.3 814h0M982.5 814h0M983.6 814h0M984.8 814.1h0M986 814.1h0M987.1 814.1h0M988.3 814.1h0M989.4 814.1h0M990.6 814.1h0M991.7 814.1h0M992.9 814.1h0M994 814.1h0M995.2 814.1h0M996.3 814.1h0M997.5 814.1h0M998.7 814.1h0M999.8 814h0M1001 814h0M1002.1 814h0M1003.3 814h0M1004.4 814h0M1005.6 813.9h0M1006.7 813.9h0M1007.9 813.8h0M1009 813.8h0M1010.2 813.7h0M1011.4 813.6h0M1012.5 813.4h0M1013.7 813.3h0M1014.8 813h0M1016 812.7h0M1017.1 812.1h0M1018.3 811.1h0M1019.4 809.6h0M1020.6 807.1h0M1021.7 803.6h0M1022.9 799.8h0M1024 797.4h0M1025.2 798.5h0M1026.4 802.1h0M1027.5 805.8h0M1028.7 808.7h0M1029.8 810.6h0M1031 811.8h0M1032.1 812.5h0M1033.3 812.9h0M1034.4 813.2h0M1035.6 813.4h0M1036.7 813.6h0M1037.9 813.7h0M1039.1 813.8h0M1040.2 813.9h0M1041.4 813.9h0M1042.5 814h0M1043.7 814h0M1044.8 814.1h0M1046 814.1h0M1047.1 814.1h0M1048.3 814.1h0M1049.4 814.2h0M1050.6 814.2h0M1051.8 814.2h0M1052.9 814.2h0M1054.1 814.2h0M1055.2 814.2h0M1056.4 814.2h0M1057.5 814.2h0M1058.7 814.3h0M1059.8 814.3h0M1061 814.3h0M1062.1 814.3h0M1063.3 814.3h0M1064.5 814.3h0"/>
</g>
<g fill="none" stroke="#000" stroke-width="9.4" stroke-linecap="round" clip-path="url(#cl)">
<path d="M68.2 293h0M71.1 293h0M74 292.9h0M77 292.9h0M79.9 292.8h0M82.8 292.7h0M85.8 292.6h0M88.7 292.4h0M91.6 292.2h0M94.6 292h0M97.5 291.7h0M100.4 291.2h0M103.3 290.7h0M106.3 289.8h0M109.2 288.6h0M112.1 286.6h0M115.1 282.6h0M118 271.6h0M120.9 239.3h0M123.9 174.7h0M126.8 127h0M129.7 190h0M132.6 256.7h0M135.6 279.9h0M138.5 286.1h0M141.4 288.7h0M144.4 290.1h0M147.3 291h0M150.2 291.5h0M153.2 291.9h0M156.1 292.2h0M159 292.5h0M161.9 292.6h0M164.9 292.7h0M167.8 292.9h0M170.7 292.9h0M173.7 293h0M176.6 293.1h0M179.5 293.1h0M182.4 293.1h0M185.4 293.2h0M188.3 293.2h0M191.2 293.2h0M194.2 293.3h0M197.1 293.3h0M200 293.3h0M203 293.3h0"/>
<path d="M68.2 428.5h0M71.1 428.5h0M74 428.4h0M77 428.4h0M79.9 428.3h0M82.8 428.2h0M85.8 428.1h0M88.7 427.9h0M91.6 427.8h0M94.6 427.6h0M97.5 427.3h0M100.4 426.9h0M103.3 426.3h0M106.3 424.3h0M109.2 420.2h0M112.1 418.2h0M115.1 418.8h0M118 415.2h0M120.9 399.9h0M123.9 356.7h0M126.8 282.4h0M129.7 255h0M132.6 339.2h0M135.6 398.6h0M138.5 416.7h0M141.4 421.9h0M144.4 424.2h0M147.3 425.6h0M150.2 426.4h0M153.2 427h0M156.1 427.4h0M159 427.7h0M161.9 427.9h0M164.9 428.1h0M167.8 428.2h0M170.7 428.3h0M173.7 428.4h0M176.6 428.5h0M179.5 428.5h0M182.4 428.6h0M185.4 428.6h0M188.3 428.7h0M191.2 428.7h0M194.2 428.7h0M197.1 428.7h0M200 428.8h0M203 428.8h0"/>
<path d="M68.2 565.5h0M71.1 565.5h0M74 565.4h0M77 565.4h0M79.9 565.3h0M82.8 565.2h0M85.8 565.1h0M88.7 564.9h0M91.6 564.7h0M94.6 564.5h0M97.5 564.2h0M100.4 563.8h0M103.3 563h0M106.3 561h0M109.2 557h0M112.1 554.6h0M115.1 553.7h0M118 545.3h0M120.9 515.7h0M123.9 452.7h0M126.8 397.4h0M129.7 451.8h0M132.6 524.1h0M135.6 551h0M138.5 558.1h0M141.4 560.9h0M144.4 562.4h0M147.3 563.4h0M150.2 564h0M153.2 564.4h0M156.1 564.7h0M159 564.9h0M161.9 565.1h0M164.9 565.2h0M167.8 565.3h0M170.7 565.4h0M173.7 565.5h0M176.6 565.5h0M179.5 565.6h0M182.4 565.6h0M185.4 565.7h0M188.3 565.7h0M191.2 565.7h0M194.2 565.8h0M197.1 565.8h0M200 565.8h0M203 565.8h0"/>
<path d="M68.2 701.6h0M71.1 701.5h0M74 701.5h0M77 701.4h0M79.9 701.3h0M82.8 701.2h0M85.8 701.1h0M88.7 701h0M91.6 700.8h0M94.6 700.5h0M97.5 700.2h0M100.4 699.8h0M103.3 699.3h0M106.3 698.4h0M109.2 697.2h0M112.1 695.1h0M115.1 690.9h0M118 678.6h0M120.9 643.7h0M123.9 580.5h0M126.8 549h0M129.7 618.3h0M132.6 673.3h0M135.6 690.8h0M138.5 695.6h0M141.4 697.8h0M144.4 699h0M147.3 699.7h0M150.2 700.2h0M153.2 700.6h0M156.1 700.9h0M159 701.1h0M161.9 701.2h0M164.9 701.3h0M167.8 701.4h0M170.7 701.5h0M173.7 701.5h0M176.6 701.6h0M179.5 701.6h0M182.4 701.7h0M185.4 701.7h0M188.3 701.7h0M191.2 701.8h0M194.2 701.8h0M197.1 701.8h0M200 701.8h0M203 701.8h0"/>
<path d="M68.2 836.5h0M71.1 836.4h0M74 836.4h0M77 836.3h0M79.9 836.2h0M82.8 836.1h0M85.8 836h0M88.7 835.8h0M91.6 835.6h0M94.6 835.3h0M97.5 835h0M100.4 834.5h0M103.3 833.9h0M106.3 832.9h0M109.2 831.5h0M112.1 829.2h0M115.1 824.3h0M118 810.2h0M120.9 770.3h0M123.9 698h0M126.8 662h0M129.7 741.3h0M132.6 804.2h0M135.6 824.2h0M138.5 829.7h0M141.4 832.2h0M144.4 833.5h0M147.3 834.4h0M150.2 835h0M153.2 835.4h0M156.1 835.7h0M159 835.9h0M161.9 836.1h0M164.9 836.2h0M167.8 836.3h0M170.7 836.4h0M173.7 836.5h0M176.6 836.5h0M179.5 836.6h0M182.4 836.6h0M185.4 836.7h0M188.3 836.7h0M191.2 836.7h0M194.2 836.7h0M197.1 836.8h0M200 836.8h0M203 836.8h0"/>
</g>
<g fill="none" stroke="#f00" stroke-width="2.8" stroke-linejoin="round">
<polyline points="252.9,269.4 254,269.4 255.2,269.4 256.4,269.4 257.5,269.4 258.7,269.3 259.8,269.3 261,269.3 262.1,269.3 263.3,269.2 264.4,269.2 265.6,269.2 266.7,269.1 267.9,269.1 269.1,269 270.2,269 271.4,268.9 272.5,268.8 273.7,268.7 274.8,268.6 276,268.5 277.1,268.4 278.3,268.2 279.4,268 280.6,267.7 281.8,267.4 282.9,267 284.1,266.5 285.2,265.9 286.4,265 287.5,263.7 288.7,261.7 289.8,258.4 291,252.4 292.1,241.8 293.3,225 294.5,203.5 295.6,188.7 296.8,195.7 297.9,216.6 299.1,235.8 300.2,248.8 301.4,256.4 302.5,260.5 303.7,262.9 304.8,264.4 306,265.4 307.1,266.1 308.3,266.6 309.5,267 310.6,267.3 311.8,267.5 312.9,267.7 314.1,267.8 315.2,267.8 316.4,267.8 317.5,267.7 318.7,267.6 319.8,267.2 321,266.5 322.2,265.3 323.3,263.2 324.5,260.4 325.6,258.7 326.8,259.6 327.9,261.2 329.1,261.5 330.2,259.3 331.4,254.4 332.5,247.5 333.7,243.7 334.9,247.9 336,255.2 337.2,260.9 338.3,264.3 339.5,266.1 340.6,267.1 341.8,267.7 342.9,268.1 344.1,268.3 345.2,268.5 346.4,268.7 347.6,268.8 348.7,268.9 349.9,269 351,269.1 352.2,269.1 353.3,269.2 354.5,269.2 355.6,269.2 356.8,269.3 357.9,269.3 359.1,269.3 360.3,269.3 361.4,269.4 362.6,269.4 363.7,269.4 364.9,269.4 366,269.4 367.2,269.4 368.3,269.4 369.5,269.5 370.6,269.5 371.8,269.5 373,269.5 374.1,269.5 375.3,269.5 376.4,269.5 377.6,269.5 378.7,269.5 379.9,269.5 381,269.5 382.2,269.5 383.3,269.5 384.5,269.5 385.7,269.5 386.8,269.5 388,269.5 389.1,269.5 390.3,269.5 391.4,269.5 392.6,269.5 393.7,269.5 394.9,269.5 396,269.5 397.2,269.5 398.3,269.5 399.5,269.5 400.7,269.5 401.8,269.5 403,269.5 404.1,269.5 405.3,269.5 406.4,269.5 407.6,269.5 408.7,269.5 409.9,269.5 411,269.5 412.2,269.5 413.4,269.5 414.5,269.5 415.7,269.5 416.8,269.5 418,269.5 419.1,269.5 420.3,269.5 421.4,269.5 422.6,269.4 423.7,269.4 424.9,269.4 426.1,269.4 427.2,269.4 428.4,269.4 429.5,269.4 430.7,269.4 431.8,269.4 433,269.3 434.1,269.3 435.3,269.3 436.4,269.3 437.6,269.3 438.8,269.2 439.9,269.2 441.1,269.2 442.2,269.2 443.4,269.1 444.5,269.1 445.7,269 446.8,269 448,268.9 449.1,268.9 450.3,268.8 451.5,268.7 452.6,268.6 453.8,268.5 454.9,268.3 456.1,268.2 457.2,268 458.4,267.7 459.5,267.4 460.7,267 461.8,266.6 463,266 464.2,265.1 465.3,264 466.5,262.5 467.6,260.2 468.8,256.4 469.9,249.3 471.1,234.9 472.2,207.5 473.4,165.6 474.5,131.7 475.7,148.4 476.9,192 478,225.8 479.2,244.7 480.3,254.1 481.5,258.9 482.6,261.7 483.8,263.5 484.9,264.7 486.1,265.7 487.2,266.3 488.4,266.9 489.5,267.3 490.7,267.6 491.9,267.9 493,268.1 494.2,268.3 495.3,268.4 496.5,268.5 497.6,268.6 498.8,268.7 499.9,268.8 501.1,268.9 502.2,269 503.4,269 504.6,269.1 505.7,269.1 506.9,269.1 508,269.2 509.2,269.2 510.3,269.2 511.5,269.3 512.6,269.3 513.8,269.3 514.9,269.3 516.1,269.3 517.3,269.3 518.4,269.4 519.6,269.4 520.7,269.4 521.9,269.4 523,269.4 524.2,269.4 525.3,269.4 526.5,269.4 527.6,269.4 528.8,269.4 530,269.4 531.1,269.4 532.3,269.4 533.4,269.5 534.6,269.5 535.7,269.5 536.9,269.5 538,269.4 539.2,269.4 540.3,269.4 541.5,269.4 542.7,269.4 543.8,269.4 545,269.4 546.1,269.4 547.3,269.4 548.4,269.4 549.6,269.4 550.7,269.3 551.9,269.3 553,269.3 554.2,269.2 555.4,269.2 556.5,269.1 557.7,269 558.8,268.9 560,268.8 561.1,268.6 562.3,268.4 563.4,268 564.6,267.5 565.7,266.6 566.9,264.8 568.1,261.9 569.2,257.3 570.4,251.9 571.5,249 572.7,251.9 573.8,257.3 575,261.9 576.1,264.9 577.3,266.6 578.4,267.5 579.6,268.1 580.7,268.4 581.9,268.7 583.1,268.8 584.2,269 585.4,269.1 586.5,269.2 587.7,269.2 588.8,269.3 590,269.3 591.1,269.4 592.3,269.4 593.4,269.4 594.6,269.4 595.8,269.5 596.9,269.5 598.1,269.5 599.2,269.5 600.4,269.5 601.5,269.5 602.7,269.5 603.8,269.5 605,269.6 606.1,269.6 607.3,269.6 608.5,269.6 609.6,269.6 610.8,269.6 611.9,269.6 613.1,269.6 614.2,269.6 615.4,269.6 616.5,269.6 617.7,269.6 618.8,269.6 620,269.6 621.2,269.6 622.3,269.6 623.5,269.6 624.6,269.6 625.8,269.6 626.9,269.6 628.1,269.6 629.2,269.6 630.4,269.6 631.5,269.6 632.7,269.6 633.9,269.6 635,269.6 636.2,269.6 637.3,269.6 638.5,269.6 639.6,269.6 640.8,269.6 641.9,269.6 643.1,269.6 644.2,269.6 645.4,269.6 646.6,269.6 647.7,269.6 648.9,269.6 650,269.6 651.2,269.6 652.3,269.6 653.5,269.6 654.6,269.7 655.8,269.7 656.9,269.7 658.1,269.7 659.2,269.7 660.4,269.7 661.6,269.7 662.7,269.7 663.9,269.7 665,269.7 666.2,269.7 667.3,269.7 668.5,269.7 669.6,269.7 670.8,269.7 671.9,269.7 673.1,269.7 674.3,269.7 675.4,269.7 676.6,269.7 677.7,269.7 678.9,269.7 680,269.7 681.2,269.7 682.3,269.7 683.5,269.7 684.6,269.7 685.8,269.7 687,269.7 688.1,269.7 689.3,269.7 690.4,269.7 691.6,269.7 692.7,269.7 693.9,269.7 695,269.7 696.2,269.7 697.3,269.7 698.5,269.7 699.7,269.7 700.8,269.7 702,269.7 703.1,269.7 704.3,269.7 705.4,269.7 706.6,269.7 707.7,269.7 708.9,269.7 710,269.7 711.2,269.7 712.4,269.7 713.5,269.7 714.7,269.7 715.8,269.7 717,269.7 718.1,269.7 719.3,269.7 720.4,269.7 721.6,269.7 722.7,269.7 723.9,269.7 725.1,269.7 726.2,269.7 727.4,269.7 728.5,269.7 729.7,269.7 730.8,269.6 732,269.6 733.1,269.6 734.3,269.6 735.4,269.6 736.6,269.6 737.8,269.6 738.9,269.6 740.1,269.6 741.2,269.6 742.4,269.6 743.5,269.6 744.7,269.6 745.8,269.6 747,269.6 748.1,269.6 749.3,269.6 750.4,269.6 751.6,269.6 752.8,269.6 753.9,269.6 755.1,269.6 756.2,269.6 757.4,269.6 758.5,269.6 759.7,269.6 760.8,269.6 762,269.6 763.1,269.6 764.3,269.6 765.5,269.6 766.6,269.6 767.8,269.6 768.9,269.6 770.1,269.6 771.2,269.6 772.4,269.5 773.5,269.5 774.7,269.5 775.8,269.5 777,269.5 778.2,269.5 779.3,269.5 780.5,269.4 781.6,269.4 782.8,269.4 783.9,269.3 785.1,269.3 786.2,269.3 787.4,269.2 788.5,269.1 789.7,269 790.9,268.9 792,268.8 793.2,268.6 794.3,268.3 795.5,267.9 796.6,267.3 797.8,266.2 798.9,264.4 800.1,261.4 801.2,257.1 802.4,252.4 803.6,250 804.7,252.4 805.9,257.1 807,261.4 808.2,264.4 809.3,266.2 810.5,267.3 811.6,267.9 812.8,268.3 813.9,268.6 815.1,268.8 816.3,268.9 817.4,269 818.6,269.1 819.7,269.2 820.9,269.2 822,269.3 823.2,269.3 824.3,269.4 825.5,269.4 826.6,269.4 827.8,269.4 829,269.5 830.1,269.5 831.3,269.5 832.4,269.5 833.6,269.5 834.7,269.5 835.9,269.5 837,269.5 838.2,269.5 839.3,269.6 840.5,269.6 841.6,269.6 842.8,269.6 844,269.6 845.1,269.6 846.3,269.6 847.4,269.6 848.6,269.6 849.7,269.6 850.9,269.6 852,269.6 853.2,269.6 854.3,269.6 855.5,269.6 856.7,269.6 857.8,269.6 859,269.6 860.1,269.6 861.3,269.6 862.4,269.6 863.6,269.6 864.7,269.6 865.9,269.6 867,269.6 868.2,269.6 869.4,269.6 870.5,269.6 871.7,269.6 872.8,269.6 874,269.6 875.1,269.6 876.3,269.6 877.4,269.6 878.6,269.6 879.7,269.6 880.9,269.6 882.1,269.6 883.2,269.5 884.4,269.5 885.5,269.5 886.7,269.5 887.8,269.5 889,269.5 890.1,269.5 891.3,269.5 892.4,269.5 893.6,269.5 894.8,269.5 895.9,269.5 897.1,269.5 898.2,269.5 899.4,269.4 900.5,269.4 901.7,269.4 902.8,269.4 904,269.4 905.1,269.4 906.3,269.3 907.5,269.3 908.6,269.3 909.8,269.3 910.9,269.2 912.1,269.2 913.2,269.1 914.4,269.1 915.5,269 916.7,269 917.8,268.9 919,268.8 920.2,268.7 921.3,268.6 922.5,268.4 923.6,268.2 924.8,268 925.9,267.6 927.1,267.2 928.2,266.5 929.4,265.5 930.5,263.9 931.7,261.3 932.8,257.5 934,252.4 935.2,247.2 936.3,244.7 937.5,246.7 938.6,251.3 939.8,255.7 940.9,258.5 942.1,259.5 943.2,258.7 944.4,255.9 945.5,251.4 946.7,245.8 947.9,241.7 949,242.5 950.2,247.6 951.3,253.7 952.5,258.7 953.6,262.2 954.8,264.4 955.9,265.8 957.1,266.7 958.2,267.3 959.4,267.7 960.6,268 961.7,268.2 962.9,268.4 964,268.6 965.2,268.7 966.3,268.8 967.5,268.9 968.6,269 969.8,269 970.9,269.1 972.1,269.1 973.3,269.2 974.4,269.2 975.6,269.2 976.7,269.3 977.9,269.3 979,269.3 980.2,269.3 981.3,269.3 982.5,269.3 983.6,269.4 984.8,269.4 986,269.4 987.1,269.4 988.3,269.4 989.4,269.4 990.6,269.4 991.7,269.4 992.9,269.4 994,269.4 995.2,269.4 996.3,269.4 997.5,269.4 998.7,269.4 999.8,269.4 1001,269.3 1002.1,269.3 1003.3,269.3 1004.4,269.3 1005.6,269.2 1006.7,269.2 1007.9,269.1 1009,269.1 1010.2,269 1011.4,268.9 1012.5,268.7 1013.7,268.5 1014.8,268.3 1016,267.9 1017.1,267.2 1018.3,266.2 1019.4,264.5 1020.6,261.8 1021.7,258.2 1022.9,254.5 1024,252.7 1025.2,254.5 1026.4,258.2 1027.5,261.8 1028.7,264.5 1029.8,266.2 1031,267.3 1032.1,267.9 1033.3,268.3 1034.4,268.6 1035.6,268.8 1036.7,268.9 1037.9,269 1039.1,269.1 1040.2,269.2 1041.4,269.2 1042.5,269.3 1043.7,269.3 1044.8,269.4 1046,269.4 1047.1,269.4 1048.3,269.4 1049.4,269.5 1050.6,269.5 1051.8,269.5 1052.9,269.5 1054.1,269.5 1055.2,269.5 1056.4,269.5 1057.5,269.6 1058.7,269.6 1059.8,269.6 1061,269.6 1062.1,269.6 1063.3,269.6 1064.5,269.6"/>
<polyline points="252.9,395.1 254,395.1 255.2,395.1 256.4,395 257.5,395 258.7,395 259.8,395 261,395 262.1,394.9 263.3,394.9 264.4,394.9 265.6,394.8 266.7,394.8 267.9,394.7 269.1,394.7 270.2,394.6 271.4,394.6 272.5,394.5 273.7,394.4 274.8,394.3 276,394.2 277.1,394 278.3,393.8 279.4,393.6 280.6,393.4 281.8,393.1 282.9,392.7 284.1,392.2 285.2,391.6 286.4,390.8 287.5,389.6 288.7,388 289.8,385.3 291,380.7 292.1,372.2 293.3,357.8 294.5,336.5 295.6,313.2 296.8,305.4 297.9,321.9 299.1,345.7 300.2,364.4 301.4,376.1 302.5,382.7 303.7,386.4 304.8,388.6 306,389.9 307.1,390.9 308.3,391.6 309.5,392.1 310.6,392.5 311.8,392.8 312.9,393 314.1,393.1 315.2,393.2 316.4,393.2 317.5,393.1 318.7,392.9 319.8,392.5 321,391.7 322.2,390.2 323.3,387.7 324.5,384.4 325.6,382.4 326.8,383.7 327.9,386.2 329.1,387.4 330.2,386.5 331.4,382.9 332.5,376.2 333.7,368.2 334.9,365.4 336,371.7 337.2,380.1 338.3,386.1 339.5,389.6 340.6,391.5 341.8,392.5 342.9,393.2 344.1,393.6 345.2,393.9 346.4,394.1 347.6,394.3 348.7,394.4 349.9,394.5 351,394.6 352.2,394.7 353.3,394.8 354.5,394.8 355.6,394.9 356.8,394.9 357.9,394.9 359.1,395 360.3,395 361.4,395 362.6,395 363.7,395 364.9,395.1 366,395.1 367.2,395.1 368.3,395.1 369.5,395.1 370.6,395.1 371.8,395.1 373,395.1 374.1,395.1 375.3,395.2 376.4,395.2 377.6,395.2 378.7,395.2 379.9,395.2 381,395.2 382.2,395.2 383.3,395.2 384.5,395.2 385.7,395.2 386.8,395.2 388,395.2 389.1,395.2 390.3,395.2 391.4,395.2 392.6,395.2 393.7,395.2 394.9,395.2 396,395.2 397.2,395.2 398.3,395.2 399.5,395.2 400.7,395.2 401.8,395.2 403,395.2 404.1,395.2 405.3,395.2 406.4,395.2 407.6,395.2 408.7,395.2 409.9,395.2 411,395.2 412.2,395.2 413.4,395.2 414.5,395.2 415.7,395.2 416.8,395.2 418,395.2 419.1,395.2 420.3,395.2 421.4,395.1 422.6,395.1 423.7,395.1 424.9,395.1 426.1,395.1 427.2,395.1 428.4,395.1 429.5,395.1 430.7,395.1 431.8,395.1 433,395 434.1,395 435.3,395 436.4,395 437.6,395 438.8,394.9 439.9,394.9 441.1,394.9 442.2,394.9 443.4,394.8 444.5,394.8 445.7,394.7 446.8,394.7 448,394.6 449.1,394.6 450.3,394.5 451.5,394.4 452.6,394.3 453.8,394.2 454.9,394.1 456.1,393.9 457.2,393.8 458.4,393.5 459.5,393.3 460.7,393 461.8,392.6 463,392.1 464.2,391.4 465.3,390.5 466.5,389.4 467.6,387.7 468.8,385.2 469.9,381.2 471.1,373.7 472.2,358.3 473.4,329.1 474.5,284.5 475.7,248.4 476.9,266.1 478,312.7 479.2,348.6 480.3,368.8 481.5,378.8 482.6,383.9 483.8,386.8 484.9,388.8 486.1,390.1 487.2,391.1 488.4,391.8 489.5,392.4 490.7,392.8 491.9,393.2 493,393.4 494.2,393.7 495.3,393.9 496.5,394 497.6,394.2 498.8,394.3 499.9,394.4 501.1,394.5 502.2,394.5 503.4,394.6 504.6,394.7 505.7,394.7 506.9,394.8 508,394.8 509.2,394.8 510.3,394.9 511.5,394.9 512.6,394.9 513.8,394.9 514.9,395 516.1,395 517.3,395 518.4,395 519.6,395 520.7,395.1 521.9,395.1 523,395.1 524.2,395.1 525.3,395.1 526.5,395.1 527.6,395.1 528.8,395.1 530,395.1 531.1,395.1 532.3,395.1 533.4,395.1 534.6,395.1 535.7,395.1 536.9,395.1 538,395.1 539.2,395.1 540.3,395.1 541.5,395.1 542.7,395.1 543.8,395.1 545,395.1 546.1,395.1 547.3,395.1 548.4,395.1 549.6,395 550.7,395 551.9,395 553,395 554.2,394.9 555.4,394.9 556.5,394.8 557.7,394.7 558.8,394.6 560,394.5 561.1,394.3 562.3,394.1 563.4,393.8 564.6,393.3 565.7,392.4 566.9,390.9 568.1,388.1 569.2,383.8 570.4,378.2 571.5,374.4 572.7,376.2 573.8,381.6 575,386.6 576.1,390 577.3,391.9 578.4,393 579.6,393.6 580.7,394 581.9,394.3 583.1,394.5 584.2,394.6 585.4,394.7 586.5,394.8 587.7,394.9 588.8,395 590,395 591.1,395 592.3,395.1 593.4,395.1 594.6,395.1 595.8,395.1 596.9,395.2 598.1,395.2 599.2,395.2 600.4,395.2 601.5,395.2 602.7,395.2 603.8,395.2 605,395.2 606.1,395.3 607.3,395.3 608.5,395.3 609.6,395.3 610.8,395.3 611.9,395.3 613.1,395.3 614.2,395.3 615.4,395.3 616.5,395.3 617.7,395.3 618.8,395.3 620,395.3 621.2,395.3 622.3,395.3 623.5,395.3 624.6,395.3 625.8,395.3 626.9,395.3 628.1,395.3 629.2,395.3 630.4,395.3 631.5,395.3 632.7,395.3 633.9,395.3 635,395.3 636.2,395.3 637.3,395.3 638.5,395.3 639.6,395.3 640.8,395.3 641.9,395.3 643.1,395.3 644.2,395.3 645.4,395.3 646.6,395.3 647.7,395.3 648.9,395.3 650,395.3 651.2,395.3 652.3,395.3 653.5,395.3 654.6,395.3 655.8,395.3 656.9,395.3 658.1,395.3 659.2,395.3 660.4,395.3 661.6,395.3 662.7,395.3 663.9,395.3 665,395.4 666.2,395.4 667.3,395.4 668.5,395.4 669.6,395.4 670.8,395.4 671.9,395.4 673.1,395.4 674.3,395.4 675.4,395.4 676.6,395.4 677.7,395.4 678.9,395.4 680,395.4 681.2,395.4 682.3,395.4 683.5,395.4 684.6,395.4 685.8,395.4 687,395.4 688.1,395.4 689.3,395.4 690.4,395.4 691.6,395.4 692.7,395.4 693.9,395.4 695,395.4 696.2,395.4 697.3,395.4 698.5,395.4 699.7,395.4 700.8,395.4 702,395.4 703.1,395.4 704.3,395.4 705.4,395.4 706.6,395.4 707.7,395.4 708.9,395.4 710,395.4 711.2,395.4 712.4,395.4 713.5,395.4 714.7,395.4 715.8,395.4 717,395.3 718.1,395.3 719.3,395.3 720.4,395.3 721.6,395.3 722.7,395.3 723.9,395.3 725.1,395.3 726.2,395.3 727.4,395.3 728.5,395.3 729.7,395.3 730.8,395.3 732,395.3 733.1,395.3 734.3,395.3 735.4,395.3 736.6,395.3 737.8,395.3 738.9,395.3 740.1,395.3 741.2,395.3 742.4,395.3 743.5,395.3 744.7,395.3 745.8,395.3 747,395.3 748.1,395.3 749.3,395.3 750.4,395.3 751.6,395.3 752.8,395.3 753.9,395.3 755.1,395.3 756.2,395.3 757.4,395.3 758.5,395.3 759.7,395.3 760.8,395.3 762,395.3 763.1,395.3 764.3,395.3 765.5,395.3 766.6,395.3 767.8,395.3 768.9,395.2 770.1,395.2 771.2,395.2 772.4,395.2 773.5,395.2 774.7,395.2 775.8,395.2 777,395.2 778.2,395.1 779.3,395.1 780.5,395.1 781.6,395.1 782.8,395 783.9,395 785.1,395 786.2,394.9 787.4,394.8 788.5,394.8 789.7,394.7 790.9,394.5 792,394.4 793.2,394.2 794.3,393.9 795.5,393.5 796.6,392.9 797.8,391.9 798.9,390.2 800.1,387.3 801.2,382.8 802.4,377.2 803.6,372.8 804.7,373.4 805.9,378.4 807,383.8 808.2,388 809.3,390.6 810.5,392.2 811.6,393.1 812.8,393.6 813.9,394 815.1,394.2 816.3,394.4 817.4,394.6 818.6,394.7 819.7,394.8 820.9,394.8 822,394.9 823.2,395 824.3,395 825.5,395 826.6,395.1 827.8,395.1 829,395.1 830.1,395.1 831.3,395.2 832.4,395.2 833.6,395.2 834.7,395.2 835.9,395.2 837,395.2 838.2,395.2 839.3,395.2 840.5,395.2 841.6,395.2 842.8,395.2 844,395.2 845.1,395.2 846.3,395.3 847.4,395.3 848.6,395.3 849.7,395.3 850.9,395.3 852,395.3 853.2,395.3 854.3,395.3 855.5,395.3 856.7,395.3 857.8,395.3 859,395.3 860.1,395.3 861.3,395.3 862.4,395.3 863.6,395.3 864.7,395.3 865.9,395.3 867,395.3 868.2,395.3 869.4,395.3 870.5,395.3 871.7,395.3 872.8,395.3 874,395.3 875.1,395.3 876.3,395.3 877.4,395.2 878.6,395.2 879.7,395.2 880.9,395.2 882.1,395.2 883.2,395.2 884.4,395.2 885.5,395.2 886.7,395.2 887.8,395.2 889,395.2 890.1,395.2 891.3,395.2 892.4,395.2 893.6,395.2 894.8,395.2 895.9,395.2 897.1,395.1 898.2,395.1 899.4,395.1 900.5,395.1 901.7,395.1 902.8,395.1 904,395.1 905.1,395 906.3,395 907.5,395 908.6,395 909.8,394.9 910.9,394.9 912.1,394.9 913.2,394.8 914.4,394.8 915.5,394.7 916.7,394.6 917.8,394.6 919,394.5 920.2,394.4 921.3,394.3 922.5,394.1 923.6,393.9 924.8,393.7 925.9,393.4 927.1,393 928.2,392.5 929.4,391.8 930.5,390.7 931.7,388.8 932.8,386 934,381.7 935.2,376.1 936.3,370.3 937.5,367.4 938.6,369.5 939.8,374.5 940.9,379 942.1,381.7 943.2,382.1 944.4,380 945.5,375.5 946.7,369.2 947.9,363.1 949,361.4 950.2,366 951.3,373.3 952.5,379.9 953.6,384.9 954.8,388.1 955.9,390.2 957.1,391.4 958.2,392.2 959.4,392.8 960.6,393.2 961.7,393.5 962.9,393.8 964,394 965.2,394.1 966.3,394.3 967.5,394.4 968.6,394.5 969.8,394.6 970.9,394.6 972.1,394.7 973.3,394.7 974.4,394.8 975.6,394.8 976.7,394.9 977.9,394.9 979,394.9 980.2,394.9 981.3,394.9 982.5,395 983.6,395 984.8,395 986,395 987.1,395 988.3,395 989.4,395 990.6,395 991.7,395 992.9,395 994,395 995.2,395 996.3,395 997.5,395 998.7,395 999.8,395 1001,395 1002.1,394.9 1003.3,394.9 1004.4,394.9 1005.6,394.8 1006.7,394.8 1007.9,394.7 1009,394.6 1010.2,394.5 1011.4,394.4 1012.5,394.2 1013.7,394 1014.8,393.7 1016,393.2 1017.1,392.5 1018.3,391.3 1019.4,389.2 1020.6,386.1 1021.7,381.7 1022.9,376.8 1024,373.8 1025.2,375.2 1026.4,379.8 1027.5,384.5 1028.7,388.2 1029.8,390.6 1031,392.1 1032.1,393 1033.3,393.5 1034.4,393.9 1035.6,394.2 1036.7,394.4 1037.9,394.5 1039.1,394.6 1040.2,394.7 1041.4,394.8 1042.5,394.9 1043.7,394.9 1044.8,395 1046,395 1047.1,395 1048.3,395.1 1049.4,395.1 1050.6,395.1 1051.8,395.1 1052.9,395.2 1054.1,395.2 1055.2,395.2 1056.4,395.2 1057.5,395.2 1058.7,395.2 1059.8,395.2 1061,395.2 1062.1,395.2 1063.3,395.3 1064.5,395.3"/>
<polyline points="252.9,541.7 254,541.7 255.2,541.7 256.4,541.7 257.5,541.7 258.7,541.6 259.8,541.6 261,541.6 262.1,541.6 263.3,541.5 264.4,541.5 265.6,541.5 266.7,541.4 267.9,541.4 269.1,541.3 270.2,541.3 271.4,541.2 272.5,541.1 273.7,541.1 274.8,541 276,540.8 277.1,540.7 278.3,540.5 279.4,540.3 280.6,540.1 281.8,539.8 282.9,539.4 284.1,538.9 285.2,538.2 286.4,537.3 287.5,536.1 288.7,534.1 289.8,530.9 291,525 292.1,514.5 293.3,497.9 294.5,476.7 295.6,462 296.8,468.9 297.9,489.6 299.1,508.6 300.2,521.4 301.4,528.8 302.5,532.9 303.7,535.3 304.8,536.7 306,537.7 307.1,538.4 308.3,539 309.5,539.4 310.6,539.7 311.8,539.9 312.9,540 314.1,540.1 315.2,540.2 316.4,540.2 317.5,540.1 318.7,539.9 319.8,539.6 321,538.9 322.2,537.6 323.3,535.6 324.5,533.1 325.6,532 326.8,533.3 327.9,534.9 329.1,535.1 330.2,533.4 331.4,529.3 332.5,523.2 333.7,518.6 334.9,521 336,527.6 337.2,533.1 338.3,536.6 339.5,538.5 340.6,539.5 341.8,540.1 342.9,540.4 344.1,540.7 345.2,540.9 346.4,541.1 347.6,541.2 348.7,541.3 349.9,541.3 351,541.4 352.2,541.5 353.3,541.5 354.5,541.5 355.6,541.6 356.8,541.6 357.9,541.6 359.1,541.6 360.3,541.7 361.4,541.7 362.6,541.7 363.7,541.7 364.9,541.7 366,541.7 367.2,541.7 368.3,541.8 369.5,541.8 370.6,541.8 371.8,541.8 373,541.8 374.1,541.8 375.3,541.8 376.4,541.8 377.6,541.8 378.7,541.8 379.9,541.8 381,541.8 382.2,541.8 383.3,541.8 384.5,541.8 385.7,541.8 386.8,541.8 388,541.8 389.1,541.8 390.3,541.8 391.4,541.8 392.6,541.8 393.7,541.8 394.9,541.8 396,541.8 397.2,541.8 398.3,541.8 399.5,541.8 400.7,541.8 401.8,541.8 403,541.8 404.1,541.8 405.3,541.8 406.4,541.8 407.6,541.8 408.7,541.8 409.9,541.8 411,541.8 412.2,541.8 413.4,541.8 414.5,541.8 415.7,541.8 416.8,541.8 418,541.8 419.1,541.8 420.3,541.8 421.4,541.8 422.6,541.8 423.7,541.8 424.9,541.7 426.1,541.7 427.2,541.7 428.4,541.7 429.5,541.7 430.7,541.7 431.8,541.7 433,541.7 434.1,541.7 435.3,541.6 436.4,541.6 437.6,541.6 438.8,541.6 439.9,541.6 441.1,541.5 442.2,541.5 443.4,541.5 444.5,541.4 445.7,541.4 446.8,541.3 448,541.3 449.1,541.2 450.3,541.2 451.5,541.1 452.6,541 453.8,540.9 454.9,540.8 456.1,540.6 457.2,540.5 458.4,540.3 459.5,540 460.7,539.7 461.8,539.3 463,538.9 464.2,538.2 465.3,537.4 466.5,536.2 467.6,534.6 468.8,532.2 469.9,528.1 471.1,520.2 472.2,504.1 473.4,474.5 474.5,432.4 475.7,407 476.9,432.4 478,474.5 479.2,504.1 480.3,520.2 481.5,528.1 482.6,532.2 483.8,534.6 484.9,536.2 486.1,537.4 487.2,538.2 488.4,538.9 489.5,539.3 490.7,539.7 491.9,540 493,540.3 494.2,540.5 495.3,540.6 496.5,540.8 497.6,540.9 498.8,541 499.9,541.1 501.1,541.2 502.2,541.2 503.4,541.3 504.6,541.3 505.7,541.4 506.9,541.4 508,541.5 509.2,541.5 510.3,541.5 511.5,541.5 512.6,541.6 513.8,541.6 514.9,541.6 516.1,541.6 517.3,541.6 518.4,541.7 519.6,541.7 520.7,541.7 521.9,541.7 523,541.7 524.2,541.7 525.3,541.7 526.5,541.7 527.6,541.7 528.8,541.7 530,541.7 531.1,541.7 532.3,541.7 533.4,541.7 534.6,541.7 535.7,541.7 536.9,541.7 538,541.7 539.2,541.7 540.3,541.7 541.5,541.7 542.7,541.7 543.8,541.7 545,541.7 546.1,541.7 547.3,541.7 548.4,541.6 549.6,541.6 550.7,541.6 551.9,541.6 553,541.5 554.2,541.5 555.4,541.4 556.5,541.3 557.7,541.2 558.8,541.1 560,541 561.1,540.8 562.3,540.5 563.4,540.1 564.6,539.4 565.7,538.2 566.9,536 568.1,532.4 569.2,526.9 570.4,521 571.5,519 572.7,523.2 573.8,529.3 575,534.1 576.1,537.1 577.3,538.8 578.4,539.7 579.6,540.3 580.7,540.6 581.9,540.9 583.1,541.1 584.2,541.2 585.4,541.3 586.5,541.4 587.7,541.5 588.8,541.5 590,541.6 591.1,541.6 592.3,541.7 593.4,541.7 594.6,541.7 595.8,541.7 596.9,541.8 598.1,541.8 599.2,541.8 600.4,541.8 601.5,541.8 602.7,541.8 603.8,541.8 605,541.8 606.1,541.9 607.3,541.9 608.5,541.9 609.6,541.9 610.8,541.9 611.9,541.9 613.1,541.9 614.2,541.9 615.4,541.9 616.5,541.9 617.7,541.9 618.8,541.9 620,541.9 621.2,541.9 622.3,541.9 623.5,541.9 624.6,541.9 625.8,541.9 626.9,541.9 628.1,541.9 629.2,541.9 630.4,541.9 631.5,541.9 632.7,541.9 633.9,541.9 635,541.9 636.2,541.9 637.3,541.9 638.5,541.9 639.6,541.9 640.8,541.9 641.9,541.9 643.1,541.9 644.2,541.9 645.4,541.9 646.6,541.9 647.7,541.9 648.9,541.9 650,541.9 651.2,541.9 652.3,541.9 653.5,541.9 654.6,541.9 655.8,541.9 656.9,541.9 658.1,542 659.2,542 660.4,542 661.6,542 662.7,542 663.9,542 665,542 666.2,542 667.3,542 668.5,542 669.6,542 670.8,542 671.9,542 673.1,542 674.3,542 675.4,542 676.6,542 677.7,542 678.9,542 680,542 681.2,542 682.3,542 683.5,542 684.6,542 685.8,542 687,542 688.1,542 689.3,542 690.4,542 691.6,542 692.7,542 693.9,542 695,542 696.2,542 697.3,542 698.5,542 699.7,542 700.8,542 702,542 703.1,542 704.3,542 705.4,542 706.6,542 707.7,542 708.9,542 710,542 711.2,542 712.4,542 713.5,542 714.7,542 715.8,542 717,542 718.1,542 719.3,542 720.4,542 721.6,542 722.7,542 723.9,542 725.1,542 726.2,542 727.4,541.9 728.5,541.9 729.7,541.9 730.8,541.9 732,541.9 733.1,541.9 734.3,541.9 735.4,541.9 736.6,541.9 737.8,541.9 738.9,541.9 740.1,541.9 741.2,541.9 742.4,541.9 743.5,541.9 744.7,541.9 745.8,541.9 747,541.9 748.1,541.9 749.3,541.9 750.4,541.9 751.6,541.9 752.8,541.9 753.9,541.9 755.1,541.9 756.2,541.9 757.4,541.9 758.5,541.9 759.7,541.9 760.8,541.9 762,541.9 763.1,541.9 764.3,541.9 765.5,541.9 766.6,541.9 767.8,541.9 768.9,541.9 770.1,541.9 771.2,541.8 772.4,541.8 773.5,541.8 774.7,541.8 775.8,541.8 777,541.8 778.2,541.8 779.3,541.7 780.5,541.7 781.6,541.7 782.8,541.7 783.9,541.6 785.1,541.6 786.2,541.5 787.4,541.5 788.5,541.4 789.7,541.3 790.9,541.1 792,541 793.2,540.7 794.3,540.4 795.5,540 796.6,539.2 797.8,538 798.9,535.8 800.1,532.3 801.2,527.5 802.4,522.6 803.6,521 804.7,524.4 805.9,529.5 807,533.9 808.2,536.8 809.3,538.6 810.5,539.6 811.6,540.2 812.8,540.6 813.9,540.8 815.1,541 816.3,541.2 817.4,541.3 818.6,541.4 819.7,541.5 820.9,541.5 822,541.6 823.2,541.6 824.3,541.7 825.5,541.7 826.6,541.7 827.8,541.7 829,541.8 830.1,541.8 831.3,541.8 832.4,541.8 833.6,541.8 834.7,541.8 835.9,541.8 837,541.8 838.2,541.8 839.3,541.8 840.5,541.9 841.6,541.9 842.8,541.9 844,541.9 845.1,541.9 846.3,541.9 847.4,541.9 848.6,541.9 849.7,541.9 850.9,541.9 852,541.9 853.2,541.9 854.3,541.9 855.5,541.9 856.7,541.9 857.8,541.9 859,541.9 860.1,541.9 861.3,541.9 862.4,541.9 863.6,541.9 864.7,541.9 865.9,541.9 867,541.9 868.2,541.9 869.4,541.9 870.5,541.9 871.7,541.9 872.8,541.9 874,541.9 875.1,541.9 876.3,541.9 877.4,541.9 878.6,541.9 879.7,541.9 880.9,541.9 882.1,541.9 883.2,541.9 884.4,541.8 885.5,541.8 886.7,541.8 887.8,541.8 889,541.8 890.1,541.8 891.3,541.8 892.4,541.8 893.6,541.8 894.8,541.8 895.9,541.8 897.1,541.8 898.2,541.8 899.4,541.8 900.5,541.7 901.7,541.7 902.8,541.7 904,541.7 905.1,541.7 906.3,541.7 907.5,541.6 908.6,541.6 909.8,541.6 910.9,541.6 912.1,541.5 913.2,541.5 914.4,541.4 915.5,541.4 916.7,541.3 917.8,541.3 919,541.2 920.2,541.1 921.3,541 922.5,540.8 923.6,540.7 924.8,540.5 925.9,540.2 927.1,539.8 928.2,539.3 929.4,538.6 930.5,537.4 931.7,535.5 932.8,532.5 934,528.3 935.2,523.1 936.3,518.7 937.5,518 938.6,521.3 939.8,525.7 940.9,529.2 942.1,531 943.2,530.8 944.4,528.6 945.5,524.5 946.7,519 947.9,514.3 949,514 950.2,518.6 951.3,524.7 952.5,530 953.6,533.8 954.8,536.3 955.9,537.9 957.1,538.8 958.2,539.5 959.4,539.9 960.6,540.2 961.7,540.5 962.9,540.7 964,540.8 965.2,541 966.3,541.1 967.5,541.2 968.6,541.2 969.8,541.3 970.9,541.4 972.1,541.4 973.3,541.5 974.4,541.5 975.6,541.5 976.7,541.5 977.9,541.6 979,541.6 980.2,541.6 981.3,541.6 982.5,541.6 983.6,541.7 984.8,541.7 986,541.7 987.1,541.7 988.3,541.7 989.4,541.7 990.6,541.7 991.7,541.7 992.9,541.7 994,541.7 995.2,541.7 996.3,541.7 997.5,541.7 998.7,541.7 999.8,541.7 1001,541.7 1002.1,541.6 1003.3,541.6 1004.4,541.6 1005.6,541.6 1006.7,541.5 1007.9,541.5 1009,541.4 1010.2,541.3 1011.4,541.2 1012.5,541.1 1013.7,540.9 1014.8,540.7 1016,540.4 1017.1,539.8 1018.3,538.9 1019.4,537.4 1020.6,535.1 1021.7,531.9 1022.9,528.2 1024,526 1025.2,527 1026.4,530.4 1027.5,533.9 1028.7,536.6 1029.8,538.4 1031,539.5 1032.1,540.2 1033.3,540.6 1034.4,540.9 1035.6,541.1 1036.7,541.2 1037.9,541.3 1039.1,541.4 1040.2,541.5 1041.4,541.6 1042.5,541.6 1043.7,541.6 1044.8,541.7 1046,541.7 1047.1,541.7 1048.3,541.8 1049.4,541.8 1050.6,541.8 1051.8,541.8 1052.9,541.8 1054.1,541.8 1055.2,541.8 1056.4,541.8 1057.5,541.9 1058.7,541.9 1059.8,541.9 1061,541.9 1062.1,541.9 1063.3,541.9 1064.5,541.9"/>
<polyline points="252.9,677.7 254,677.6 255.2,677.6 256.4,677.6 257.5,677.6 258.7,677.6 259.8,677.6 261,677.6 262.1,677.5 263.3,677.5 264.4,677.5 265.6,677.5 266.7,677.4 267.9,677.4 269.1,677.3 270.2,677.3 271.4,677.2 272.5,677.2 273.7,677.1 274.8,677 276,676.9 277.1,676.8 278.3,676.7 279.4,676.5 280.6,676.4 281.8,676.1 282.9,675.8 284.1,675.5 285.2,675 286.4,674.4 287.5,673.5 288.7,672.3 289.8,670.4 291,667.2 292.1,661.2 293.3,650.9 294.5,635 295.6,616.1 296.8,606.2 297.9,616.1 299.1,635 300.2,650.8 301.4,661.2 302.5,667.1 303.7,670.3 304.8,672.2 306,673.4 307.1,674.2 308.3,674.8 309.5,675.2 310.6,675.6 311.8,675.8 312.9,676 314.1,676.1 315.2,676.1 316.4,676.2 317.5,676.1 318.7,676 319.8,675.7 321,675.2 322.2,674.2 323.3,672.4 324.5,669.9 325.6,667.9 326.8,668.4 327.9,670.3 329.1,671.4 330.2,670.9 331.4,668.3 332.5,663.4 333.7,657.3 334.9,655.2 336,659.9 337.2,666.3 338.3,670.9 339.5,673.5 340.6,674.9 341.8,675.7 342.9,676.2 344.1,676.5 345.2,676.7 346.4,676.9 347.6,677 348.7,677.1 349.9,677.2 351,677.3 352.2,677.4 353.3,677.4 354.5,677.4 355.6,677.5 356.8,677.5 357.9,677.5 359.1,677.6 360.3,677.6 361.4,677.6 362.6,677.6 363.7,677.6 364.9,677.6 366,677.6 367.2,677.7 368.3,677.7 369.5,677.7 370.6,677.7 371.8,677.7 373,677.7 374.1,677.7 375.3,677.7 376.4,677.7 377.6,677.7 378.7,677.7 379.9,677.7 381,677.7 382.2,677.7 383.3,677.7 384.5,677.7 385.7,677.7 386.8,677.7 388,677.7 389.1,677.7 390.3,677.7 391.4,677.7 392.6,677.7 393.7,677.7 394.9,677.7 396,677.7 397.2,677.7 398.3,677.7 399.5,677.7 400.7,677.7 401.8,677.7 403,677.7 404.1,677.7 405.3,677.7 406.4,677.7 407.6,677.7 408.7,677.7 409.9,677.7 411,677.7 412.2,677.7 413.4,677.7 414.5,677.7 415.7,677.7 416.8,677.7 418,677.7 419.1,677.7 420.3,677.7 421.4,677.7 422.6,677.7 423.7,677.7 424.9,677.7 426.1,677.7 427.2,677.6 428.4,677.6 429.5,677.6 430.7,677.6 431.8,677.6 433,677.6 434.1,677.6 435.3,677.6 436.4,677.5 437.6,677.5 438.8,677.5 439.9,677.5 441.1,677.5 442.2,677.4 443.4,677.4 444.5,677.4 445.7,677.3 446.8,677.3 448,677.2 449.1,677.2 450.3,677.1 451.5,677.1 452.6,677 453.8,676.9 454.9,676.8 456.1,676.7 457.2,676.5 458.4,676.3 459.5,676.1 460.7,675.8 461.8,675.5 463,675.1 464.2,674.5 465.3,673.8 466.5,672.8 467.6,671.4 468.8,669.3 469.9,665.8 471.1,659.4 472.2,646.4 473.4,621.5 474.5,583.6 475.7,552.9 476.9,568 478,607.6 479.2,638.1 480.3,655.3 481.5,663.8 482.6,668.1 483.8,670.6 484.9,672.3 486.1,673.4 487.2,674.2 488.4,674.9 489.5,675.3 490.7,675.7 491.9,676 493,676.2 494.2,676.4 495.3,676.6 496.5,676.7 497.6,676.8 498.8,676.9 499.9,677 501.1,677.1 502.2,677.2 503.4,677.2 504.6,677.3 505.7,677.3 506.9,677.4 508,677.4 509.2,677.4 510.3,677.4 511.5,677.5 512.6,677.5 513.8,677.5 514.9,677.5 516.1,677.6 517.3,677.6 518.4,677.6 519.6,677.6 520.7,677.6 521.9,677.6 523,677.6 524.2,677.6 525.3,677.6 526.5,677.6 527.6,677.7 528.8,677.7 530,677.7 531.1,677.7 532.3,677.7 533.4,677.7 534.6,677.7 535.7,677.7 536.9,677.7 538,677.7 539.2,677.7 540.3,677.7 541.5,677.7 542.7,677.7 543.8,677.6 545,677.6 546.1,677.6 547.3,677.6 548.4,677.6 549.6,677.6 550.7,677.6 551.9,677.5 553,677.5 554.2,677.5 555.4,677.4 556.5,677.4 557.7,677.3 558.8,677.2 560,677.1 561.1,677 562.3,676.8 563.4,676.5 564.6,676.1 565.7,675.4 566.9,674.2 568.1,671.9 569.2,668.3 570.4,663.3 571.5,659.2 572.7,659.8 573.8,664.4 575,669.1 576.1,672.5 577.3,674.5 578.4,675.6 579.6,676.2 580.7,676.6 581.9,676.8 583.1,677 584.2,677.2 585.4,677.3 586.5,677.4 587.7,677.4 588.8,677.5 590,677.5 591.1,677.6 592.3,677.6 593.4,677.6 594.6,677.6 595.8,677.7 596.9,677.7 598.1,677.7 599.2,677.7 600.4,677.7 601.5,677.7 602.7,677.7 603.8,677.8 605,677.8 606.1,677.8 607.3,677.8 608.5,677.8 609.6,677.8 610.8,677.8 611.9,677.8 613.1,677.8 614.2,677.8 615.4,677.8 616.5,677.8 617.7,677.8 618.8,677.8 620,677.8 621.2,677.8 622.3,677.8 623.5,677.8 624.6,677.8 625.8,677.8 626.9,677.8 628.1,677.8 629.2,677.8 630.4,677.8 631.5,677.8 632.7,677.8 633.9,677.8 635,677.8 636.2,677.8 637.3,677.8 638.5,677.8 639.6,677.8 640.8,677.8 641.9,677.8 643.1,677.8 644.2,677.8 645.4,677.8 646.6,677.8 647.7,677.9 648.9,677.9 650,677.9 651.2,677.9 652.3,677.9 653.5,677.9 654.6,677.9 655.8,677.9 656.9,677.9 658.1,677.9 659.2,677.9 660.4,677.9 661.6,677.9 662.7,677.9 663.9,677.9 665,677.9 666.2,677.9 667.3,677.9 668.5,677.9 669.6,677.9 670.8,677.9 671.9,677.9 673.1,677.9 674.3,677.9 675.4,677.9 676.6,677.9 677.7,677.9 678.9,677.9 680,677.9 681.2,677.9 682.3,677.9 683.5,677.9 684.6,677.9 685.8,677.9 687,677.9 688.1,677.9 689.3,677.9 690.4,677.9 691.6,677.9 692.7,677.9 693.9,677.9 695,677.9 696.2,677.9 697.3,677.9 698.5,677.9 699.7,677.9 700.8,677.9 702,677.9 703.1,677.9 704.3,677.9 705.4,677.9 706.6,677.9 707.7,677.9 708.9,677.9 710,677.9 711.2,677.9 712.4,677.9 713.5,677.9 714.7,677.9 715.8,677.9 717,677.9 718.1,677.9 719.3,677.9 720.4,677.9 721.6,677.9 722.7,677.9 723.9,677.9 725.1,677.9 726.2,677.9 727.4,677.9 728.5,677.9 729.7,677.9 730.8,677.9 732,677.9 733.1,677.9 734.3,677.9 735.4,677.8 736.6,677.8 737.8,677.8 738.9,677.8 740.1,677.8 741.2,677.8 742.4,677.8 743.5,677.8 744.7,677.8 745.8,677.8 747,677.8 748.1,677.8 749.3,677.8 750.4,677.8 751.6,677.8 752.8,677.8 753.9,677.8 755.1,677.8 756.2,677.8 757.4,677.8 758.5,677.8 759.7,677.8 760.8,677.8 762,677.8 763.1,677.8 764.3,677.8 765.5,677.8 766.6,677.8 767.8,677.8 768.9,677.8 770.1,677.8 771.2,677.8 772.4,677.8 773.5,677.7 774.7,677.7 775.8,677.7 777,677.7 778.2,677.7 779.3,677.7 780.5,677.7 781.6,677.6 782.8,677.6 783.9,677.6 785.1,677.5 786.2,677.5 787.4,677.4 788.5,677.4 789.7,677.3 790.9,677.2 792,677.1 793.2,676.9 794.3,676.6 795.5,676.3 796.6,675.8 797.8,675 798.9,673.5 800.1,671.1 801.2,667.3 802.4,662.6 803.6,658.9 804.7,659.4 805.9,663.6 807,668.2 808.2,671.6 809.3,673.9 810.5,675.2 811.6,675.9 812.8,676.4 813.9,676.7 815.1,676.9 816.3,677.1 817.4,677.2 818.6,677.3 819.7,677.4 820.9,677.4 822,677.5 823.2,677.5 824.3,677.6 825.5,677.6 826.6,677.6 827.8,677.6 829,677.7 830.1,677.7 831.3,677.7 832.4,677.7 833.6,677.7 834.7,677.7 835.9,677.7 837,677.7 838.2,677.7 839.3,677.8 840.5,677.8 841.6,677.8 842.8,677.8 844,677.8 845.1,677.8 846.3,677.8 847.4,677.8 848.6,677.8 849.7,677.8 850.9,677.8 852,677.8 853.2,677.8 854.3,677.8 855.5,677.8 856.7,677.8 857.8,677.8 859,677.8 860.1,677.8 861.3,677.8 862.4,677.8 863.6,677.8 864.7,677.8 865.9,677.8 867,677.8 868.2,677.8 869.4,677.8 870.5,677.8 871.7,677.8 872.8,677.8 874,677.8 875.1,677.8 876.3,677.8 877.4,677.8 878.6,677.8 879.7,677.8 880.9,677.8 882.1,677.8 883.2,677.8 884.4,677.8 885.5,677.8 886.7,677.8 887.8,677.7 889,677.7 890.1,677.7 891.3,677.7 892.4,677.7 893.6,677.7 894.8,677.7 895.9,677.7 897.1,677.7 898.2,677.7 899.4,677.7 900.5,677.7 901.7,677.7 902.8,677.6 904,677.6 905.1,677.6 906.3,677.6 907.5,677.6 908.6,677.5 909.8,677.5 910.9,677.5 912.1,677.5 913.2,677.4 914.4,677.4 915.5,677.3 916.7,677.3 917.8,677.2 919,677.2 920.2,677.1 921.3,677 922.5,676.8 923.6,676.7 924.8,676.5 925.9,676.3 927.1,675.9 928.2,675.5 929.4,674.9 930.5,673.8 931.7,672.2 932.8,669.6 934,665.8 935.2,661 936.3,656.4 937.5,654.9 938.6,657.5 939.8,661.9 940.9,665.7 942.1,668 943.2,668.7 944.4,667.7 945.5,665 946.7,660.7 947.9,655.8 949,652.9 950.2,654.5 951.3,659.5 952.5,664.7 953.6,668.9 954.8,671.7 955.9,673.5 957.1,674.6 958.2,675.3 959.4,675.8 960.6,676.2 961.7,676.4 962.9,676.6 964,676.8 965.2,676.9 966.3,677 967.5,677.1 968.6,677.2 969.8,677.2 970.9,677.3 972.1,677.3 973.3,677.4 974.4,677.4 975.6,677.5 976.7,677.5 977.9,677.5 979,677.5 980.2,677.5 981.3,677.6 982.5,677.6 983.6,677.6 984.8,677.6 986,677.6 987.1,677.6 988.3,677.6 989.4,677.6 990.6,677.6 991.7,677.6 992.9,677.6 994,677.6 995.2,677.6 996.3,677.6 997.5,677.6 998.7,677.6 999.8,677.6 1001,677.6 1002.1,677.6 1003.3,677.6 1004.4,677.5 1005.6,677.5 1006.7,677.5 1007.9,677.4 1009,677.4 1010.2,677.3 1011.4,677.2 1012.5,677.1 1013.7,677 1014.8,676.8 1016,676.5 1017.1,676 1018.3,675.2 1019.4,673.9 1020.6,671.9 1021.7,669 1022.9,665.9 1024,663.9 1025.2,664.8 1026.4,667.8 1027.5,670.8 1028.7,673.2 1029.8,674.8 1031,675.7 1032.1,676.3 1033.3,676.7 1034.4,676.9 1035.6,677.1 1036.7,677.2 1037.9,677.3 1039.1,677.4 1040.2,677.5 1041.4,677.5 1042.5,677.5 1043.7,677.6 1044.8,677.6 1046,677.6 1047.1,677.7 1048.3,677.7 1049.4,677.7 1050.6,677.7 1051.8,677.7 1052.9,677.7 1054.1,677.7 1055.2,677.8 1056.4,677.8 1057.5,677.8 1058.7,677.8 1059.8,677.8 1061,677.8 1062.1,677.8 1063.3,677.8 1064.5,677.8"/>
<polyline points="252.9,814.1 254,814.1 255.2,814.1 256.4,814.1 257.5,814.1 258.7,814 259.8,814 261,814 262.1,814 263.3,813.9 264.4,813.9 265.6,813.9 266.7,813.8 267.9,813.8 269.1,813.7 270.2,813.7 271.4,813.6 272.5,813.6 273.7,813.5 274.8,813.4 276,813.3 277.1,813.1 278.3,813 279.4,812.8 280.6,812.5 281.8,812.2 282.9,811.8 284.1,811.4 285.2,810.7 286.4,809.8 287.5,808.6 288.7,806.7 289.8,803.5 291,797.8 292.1,787.6 293.3,771.4 294.5,750.7 295.6,736.4 296.8,743.2 297.9,763.3 299.1,781.8 300.2,794.3 301.4,801.5 302.5,805.6 303.7,807.8 304.8,809.3 306,810.2 307.1,810.9 308.3,811.4 309.5,811.8 310.6,812.1 311.8,812.3 312.9,812.4 314.1,812.5 315.2,812.6 316.4,812.6 317.5,812.5 318.7,812.3 319.8,812 321,811.3 322.2,810.1 323.3,807.9 324.5,804.9 325.6,802.6 326.8,803.3 327.9,805.5 329.1,806.9 330.2,806.3 331.4,803.2 332.5,797.7 333.7,791.6 334.9,791 336,796.9 337.2,803.3 338.3,807.7 339.5,810.1 340.6,811.5 341.8,812.2 342.9,812.7 344.1,813 345.2,813.2 346.4,813.4 347.6,813.5 348.7,813.6 349.9,813.7 351,813.8 352.2,813.8 353.3,813.9 354.5,813.9 355.6,813.9 356.8,814 357.9,814 359.1,814 360.3,814.1 361.4,814.1 362.6,814.1 363.7,814.1 364.9,814.1 366,814.1 367.2,814.1 368.3,814.1 369.5,814.2 370.6,814.2 371.8,814.2 373,814.2 374.1,814.2 375.3,814.2 376.4,814.2 377.6,814.2 378.7,814.2 379.9,814.2 381,814.2 382.2,814.2 383.3,814.2 384.5,814.2 385.7,814.2 386.8,814.2 388,814.2 389.1,814.2 390.3,814.2 391.4,814.2 392.6,814.2 393.7,814.2 394.9,814.2 396,814.2 397.2,814.2 398.3,814.2 399.5,814.2 400.7,814.2 401.8,814.2 403,814.2 404.1,814.2 405.3,814.2 406.4,814.2 407.6,814.2 408.7,814.2 409.9,814.2 411,814.2 412.2,814.2 413.4,814.2 414.5,814.2 415.7,814.2 416.8,814.2 418,814.2 419.1,814.2 420.3,814.2 421.4,814.2 422.6,814.2 423.7,814.1 424.9,814.1 426.1,814.1 427.2,814.1 428.4,814.1 429.5,814.1 430.7,814.1 431.8,814.1 433,814.1 434.1,814 435.3,814 436.4,814 437.6,814 438.8,814 439.9,813.9 441.1,813.9 442.2,813.9 443.4,813.8 444.5,813.8 445.7,813.8 446.8,813.7 448,813.6 449.1,813.6 450.3,813.5 451.5,813.4 452.6,813.3 453.8,813.2 454.9,813.1 456.1,813 457.2,812.8 458.4,812.6 459.5,812.3 460.7,812 461.8,811.6 463,811.1 464.2,810.4 465.3,809.5 466.5,808.3 467.6,806.6 468.8,804 469.9,799.6 471.1,791.3 472.2,774.3 473.4,742.9 474.5,698.4 475.7,671.4 476.9,698.4 478,742.9 479.2,774.3 480.3,791.3 481.5,799.6 482.6,804 483.8,806.6 484.9,808.3 486.1,809.5 487.2,810.4 488.4,811.1 489.5,811.6 490.7,812 491.9,812.3 493,812.6 494.2,812.8 495.3,813 496.5,813.1 497.6,813.2 498.8,813.3 499.9,813.4 501.1,813.5 502.2,813.6 503.4,813.6 504.6,813.7 505.7,813.7 506.9,813.8 508,813.8 509.2,813.9 510.3,813.9 511.5,813.9 512.6,813.9 513.8,814 514.9,814 516.1,814 517.3,814 518.4,814 519.6,814.1 520.7,814.1 521.9,814.1 523,814.1 524.2,814.1 525.3,814.1 526.5,814.1 527.6,814.1 528.8,814.1 530,814.1 531.1,814.1 532.3,814.1 533.4,814.1 534.6,814.1 535.7,814.1 536.9,814.1 538,814.1 539.2,814.1 540.3,814.1 541.5,814.1 542.7,814.1 543.8,814.1 545,814.1 546.1,814.1 547.3,814.1 548.4,814.1 549.6,814.1 550.7,814 551.9,814 553,814 554.2,813.9 555.4,813.9 556.5,813.8 557.7,813.8 558.8,813.7 560,813.6 561.1,813.4 562.3,813.2 563.4,812.9 564.6,812.5 565.7,811.8 566.9,810.6 568.1,808.4 569.2,804.7 570.4,799.4 571.5,794.3 572.7,793.7 573.8,798.3 575,803.8 576.1,807.8 577.3,810.3 578.4,811.6 579.6,812.4 580.7,812.9 581.9,813.2 583.1,813.4 584.2,813.6 585.4,813.7 586.5,813.8 587.7,813.9 588.8,813.9 590,814 591.1,814 592.3,814.1 593.4,814.1 594.6,814.1 595.8,814.1 596.9,814.2 598.1,814.2 599.2,814.2 600.4,814.2 601.5,814.2 602.7,814.2 603.8,814.2 605,814.2 606.1,814.3 607.3,814.3 608.5,814.3 609.6,814.3 610.8,814.3 611.9,814.3 613.1,814.3 614.2,814.3 615.4,814.3 616.5,814.3 617.7,814.3 618.8,814.3 620,814.3 621.2,814.3 622.3,814.3 623.5,814.3 624.6,814.3 625.8,814.3 626.9,814.3 628.1,814.3 629.2,814.3 630.4,814.3 631.5,814.3 632.7,814.3 633.9,814.3 635,814.3 636.2,814.3 637.3,814.3 638.5,814.3 639.6,814.3 640.8,814.3 641.9,814.3 643.1,814.3 644.2,814.3 645.4,814.3 646.6,814.3 647.7,814.3 648.9,814.3 650,814.3 651.2,814.3 652.3,814.3 653.5,814.3 654.6,814.3 655.8,814.3 656.9,814.4 658.1,814.4 659.2,814.4 660.4,814.4 661.6,814.4 662.7,814.4 663.9,814.4 665,814.4 666.2,814.4 667.3,814.4 668.5,814.4 669.6,814.4 670.8,814.4 671.9,814.4 673.1,814.4 674.3,814.4 675.4,814.4 676.6,814.4 677.7,814.4 678.9,814.4 680,814.4 681.2,814.4 682.3,814.4 683.5,814.4 684.6,814.4 685.8,814.4 687,814.4 688.1,814.4 689.3,814.4 690.4,814.4 691.6,814.4 692.7,814.4 693.9,814.4 695,814.4 696.2,814.4 697.3,814.4 698.5,814.4 699.7,814.4 700.8,814.4 702,814.4 703.1,814.4 704.3,814.4 705.4,814.4 706.6,814.4 707.7,814.4 708.9,814.4 710,814.4 711.2,814.4 712.4,814.4 713.5,814.4 714.7,814.4 715.8,814.4 717,814.4 718.1,814.4 719.3,814.4 720.4,814.4 721.6,814.4 722.7,814.4 723.9,814.4 725.1,814.4 726.2,814.4 727.4,814.4 728.5,814.4 729.7,814.4 730.8,814.3 732,814.3 733.1,814.3 734.3,814.3 735.4,814.3 736.6,814.3 737.8,814.3 738.9,814.3 740.1,814.3 741.2,814.3 742.4,814.3 743.5,814.3 744.7,814.3 745.8,814.3 747,814.3 748.1,814.3 749.3,814.3 750.4,814.3 751.6,814.3 752.8,814.3 753.9,814.3 755.1,814.3 756.2,814.3 757.4,814.3 758.5,814.3 759.7,814.3 760.8,814.3 762,814.3 763.1,814.3 764.3,814.3 765.5,814.3 766.6,814.3 767.8,814.3 768.9,814.3 770.1,814.3 771.2,814.3 772.4,814.2 773.5,814.2 774.7,814.2 775.8,814.2 777,814.2 778.2,814.2 779.3,814.2 780.5,814.1 781.6,814.1 782.8,814.1 783.9,814.1 785.1,814 786.2,814 787.4,813.9 788.5,813.9 789.7,813.8 790.9,813.7 792,813.6 793.2,813.4 794.3,813.2 795.5,812.9 796.6,812.4 797.8,811.6 798.9,810.3 800.1,808 801.2,804.5 802.4,799.8 803.6,795.6 804.7,795.1 805.9,798.9 807,803.7 808.2,807.5 809.3,809.9 810.5,811.4 811.6,812.3 812.8,812.8 813.9,813.1 815.1,813.4 816.3,813.5 817.4,813.7 818.6,813.8 819.7,813.8 820.9,813.9 822,814 823.2,814 824.3,814 825.5,814.1 826.6,814.1 827.8,814.1 829,814.2 830.1,814.2 831.3,814.2 832.4,814.2 833.6,814.2 834.7,814.2 835.9,814.2 837,814.2 838.2,814.2 839.3,814.2 840.5,814.3 841.6,814.3 842.8,814.3 844,814.3 845.1,814.3 846.3,814.3 847.4,814.3 848.6,814.3 849.7,814.3 850.9,814.3 852,814.3 853.2,814.3 854.3,814.3 855.5,814.3 856.7,814.3 857.8,814.3 859,814.3 860.1,814.3 861.3,814.3 862.4,814.3 863.6,814.3 864.7,814.3 865.9,814.3 867,814.3 868.2,814.3 869.4,814.3 870.5,814.3 871.7,814.3 872.8,814.3 874,814.3 875.1,814.3 876.3,814.3 877.4,814.3 878.6,814.3 879.7,814.3 880.9,814.3 882.1,814.3 883.2,814.3 884.4,814.2 885.5,814.2 886.7,814.2 887.8,814.2 889,814.2 890.1,814.2 891.3,814.2 892.4,814.2 893.6,814.2 894.8,814.2 895.9,814.2 897.1,814.2 898.2,814.2 899.4,814.2 900.5,814.1 901.7,814.1 902.8,814.1 904,814.1 905.1,814.1 906.3,814.1 907.5,814 908.6,814 909.8,814 910.9,814 912.1,813.9 913.2,813.9 914.4,813.8 915.5,813.8 916.7,813.7 917.8,813.7 919,813.6 920.2,813.5 921.3,813.4 922.5,813.2 923.6,813.1 924.8,812.9 925.9,812.6 927.1,812.2 928.2,811.8 929.4,811.1 930.5,809.9 931.7,808.1 932.8,805.3 934,801.2 935.2,796 936.3,791.1 937.5,789.4 938.6,792.2 939.8,796.8 940.9,800.8 942.1,803.2 943.2,803.6 944.4,802.1 945.5,798.6 946.7,793.4 947.9,787.9 949,785.4 950.2,788.3 951.3,794.4 952.5,800.3 953.6,804.7 954.8,807.8 955.9,809.7 957.1,810.8 958.2,811.6 959.4,812.1 960.6,812.5 961.7,812.8 962.9,813 964,813.1 965.2,813.3 966.3,813.4 967.5,813.5 968.6,813.6 969.8,813.7 970.9,813.7 972.1,813.8 973.3,813.8 974.4,813.9 975.6,813.9 976.7,813.9 977.9,814 979,814 980.2,814 981.3,814 982.5,814 983.6,814 984.8,814.1 986,814.1 987.1,814.1 988.3,814.1 989.4,814.1 990.6,814.1 991.7,814.1 992.9,814.1 994,814.1 995.2,814.1 996.3,814.1 997.5,814.1 998.7,814.1 999.8,814 1001,814 1002.1,814 1003.3,814 1004.4,814 1005.6,813.9 1006.7,813.9 1007.9,813.8 1009,813.8 1010.2,813.7 1011.4,813.6 1012.5,813.4 1013.7,813.3 1014.8,813 1016,812.7 1017.1,812.1 1018.3,811.1 1019.4,809.6 1020.6,807.1 1021.7,803.6 1022.9,799.8 1024,797.4 1025.2,798.5 1026.4,802.1 1027.5,805.8 1028.7,808.7 1029.8,810.6 1031,811.8 1032.1,812.5 1033.3,812.9 1034.4,813.2 1035.6,813.4 1036.7,813.6 1037.9,813.7 1039.1,813.8 1040.2,813.9 1041.4,813.9 1042.5,814 1043.7,814 1044.8,814.1 1046,814.1 1047.1,814.1 1048.3,814.1 1049.4,814.2 1050.6,814.2 1051.8,814.2 1052.9,814.2 1054.1,814.2 1055.2,814.2 1056.4,814.2 1057.5,814.2 1058.7,814.3 1059.8,814.3 1061,814.3 1062.1,814.3 1063.3,814.3 1064.5,814.3"/>
</g>
<g fill="none" stroke="#f00" stroke-width="2.4" stroke-linejoin="round" clip-path="url(#cl)">
<polyline points="68.2,293 71.1,293 74,292.9 77,292.9 79.9,292.8 82.8,292.7 85.8,292.6 88.7,292.4 91.6,292.2 94.6,292 97.5,291.7 100.4,291.2 103.3,290.7 106.3,289.8 109.2,288.6 112.1,286.6 115.1,282.6 118,271.6 120.9,239.3 123.9,174.7 126.8,127 129.7,190 132.6,256.7 135.6,279.9 138.5,286.1 141.4,288.7 144.4,290.1 147.3,291 150.2,291.5 153.2,291.9 156.1,292.2 159,292.5 161.9,292.6 164.9,292.7 167.8,292.9 170.7,292.9 173.7,293 176.6,293.1 179.5,293.1 182.4,293.1 185.4,293.2 188.3,293.2 191.2,293.2 194.2,293.3 197.1,293.3 200,293.3 203,293.3"/>
<polyline points="68.2,428.5 71.1,428.5 74,428.4 77,428.4 79.9,428.3 82.8,428.2 85.8,428.1 88.7,427.9 91.6,427.8 94.6,427.6 97.5,427.3 100.4,426.9 103.3,426.4 106.3,425.8 109.2,424.8 112.1,423.3 115.1,420.8 118,415.5 120.9,399.9 123.9,356.7 126.8,282.4 129.7,255 132.6,339.2 135.6,398.6 138.5,416.7 141.4,421.9 144.4,424.2 147.3,425.6 150.2,426.4 153.2,427 156.1,427.4 159,427.7 161.9,427.9 164.9,428.1 167.8,428.2 170.7,428.3 173.7,428.4 176.6,428.5 179.5,428.5 182.4,428.6 185.4,428.6 188.3,428.7 191.2,428.7 194.2,428.7 197.1,428.7 200,428.8 203,428.8"/>
<polyline points="68.2,565.5 71.1,565.5 74,565.4 77,565.4 79.9,565.3 82.8,565.2 85.8,565.1 88.7,564.9 91.6,564.7 94.6,564.5 97.5,564.2 100.4,563.8 103.3,563.2 106.3,562.4 109.2,561.2 112.1,559.2 115.1,555.5 118,545.6 120.9,515.7 123.9,452.7 126.8,397.4 129.7,451.8 132.6,524.1 135.6,551 138.5,558.1 141.4,560.9 144.4,562.4 147.3,563.4 150.2,564 153.2,564.4 156.1,564.7 159,564.9 161.9,565.1 164.9,565.2 167.8,565.3 170.7,565.4 173.7,565.5 176.6,565.5 179.5,565.6 182.4,565.6 185.4,565.7 188.3,565.7 191.2,565.7 194.2,565.8 197.1,565.8 200,565.8 203,565.8"/>
<polyline points="68.2,701.6 71.1,701.5 74,701.5 77,701.4 79.9,701.3 82.8,701.2 85.8,701.1 88.7,701 91.6,700.8 94.6,700.5 97.5,700.2 100.4,699.8 103.3,699.3 106.3,698.4 109.2,697.2 112.1,695.1 115.1,690.9 118,678.6 120.9,643.7 123.9,580.5 126.8,549 129.7,618.3 132.6,673.3 135.6,690.8 138.5,695.6 141.4,697.8 144.4,699 147.3,699.7 150.2,700.2 153.2,700.6 156.1,700.9 159,701.1 161.9,701.2 164.9,701.3 167.8,701.4 170.7,701.5 173.7,701.5 176.6,701.6 179.5,701.6 182.4,701.7 185.4,701.7 188.3,701.7 191.2,701.8 194.2,701.8 197.1,701.8 200,701.8 203,701.8"/>
<polyline points="68.2,836.5 71.1,836.4 74,836.4 77,836.3 79.9,836.2 82.8,836.1 85.8,836 88.7,835.8 91.6,835.6 94.6,835.3 97.5,835 100.4,834.5 103.3,833.9 106.3,832.9 109.2,831.5 112.1,829.2 115.1,824.3 118,810.2 120.9,770.3 123.9,698 126.8,662 129.7,741.3 132.6,804.2 135.6,824.2 138.5,829.7 141.4,832.2 144.4,833.5 147.3,834.4 150.2,835 153.2,835.4 156.1,835.7 159,835.9 161.9,836.1 164.9,836.2 167.8,836.3 170.7,836.4 173.7,836.5 176.6,836.5 179.5,836.6 182.4,836.6 185.4,836.7 188.3,836.7 191.2,836.7 194.2,836.7 197.1,836.8 200,836.8 203,836.8"/>
</g>
<rect x="68.0" y="52.5" width="134.9" height="816.8" fill="none" stroke="#000" stroke-width="4"/>
<path d="M1098 64.1H1108M1260 64.1H1270M1098 90.8H1103.5M1264.5 90.8H1270M1098 117.4H1108M1260 117.4H1270M1098 144H1103.5M1264.5 144H1270M1098 170.7H1108M1260 170.7H1270M1098 197H1103.5M1264.5 197H1270M1098 237.1H1108M1261 237.1H1270M1098 263.8H1103.5M1261 263.8H1270M1098 290.4H1108M1261 290.4H1270M1098 317H1103.5M1261 317H1270M1098 343.7H1108M1261 343.7H1270M1098 370H1103.5M1261 370H1270M1098 411.3H1108M1260 411.3H1270M1098 438H1103.5M1264.5 438H1270M1098 464.6H1108M1260 464.6H1270M1098 491.2H1103.5M1264.5 491.2H1270M1098 517.9H1108M1260 517.9H1270M1098 544.2H1103.5M1264.5 544.2H1270M1098 584.3H1108M1260 584.3H1270M1098 611H1103.5M1264.5 611H1270M1098 637.6H1108M1260 637.6H1270M1098 664.2H1103.5M1264.5 664.2H1270M1098 690.9H1108M1260 690.9H1270M1098 717.2H1103.5M1264.5 717.2H1270M1098 757.7H1108M1260 757.7H1270M1098 784.4H1103.5M1264.5 784.4H1270M1098 811H1108M1260 811H1270M1098 837.6H1103.5M1264.5 837.6H1270M1098 864.3H1108M1260 864.3H1270M1098 890.6H1103.5M1264.5 890.6H1270M1106.5 49.4V58.4M1123.7 49.4V54.4M1141 49.4V58.4M1158.3 49.4V54.4M1175.5 49.4V58.4M1192.8 49.4V54.4M1210 49.4V58.4M1227.2 49.4V54.4M1244.5 49.4V58.4M1261.7 49.4V54.4M1119.4 222.4V217.4M1119.4 222.4V227.4M1141 222.4V213.4M1141 222.4V231.4M1162.6 222.4V217.4M1162.6 222.4V227.4M1184.1 222.4V213.4M1184.1 222.4V231.4M1205.7 222.4V217.4M1205.7 222.4V227.4M1227.2 222.4V213.4M1227.2 222.4V231.4M1248.8 222.4V217.4M1248.8 222.4V227.4M1119.4 396.6V391.6M1119.4 396.6V401.6M1141 396.6V387.6M1141 396.6V405.6M1162.6 396.6V391.6M1162.6 396.6V401.6M1184.1 396.6V387.6M1184.1 396.6V405.6M1205.7 396.6V391.6M1205.7 396.6V401.6M1227.2 396.6V387.6M1227.2 396.6V405.6M1248.8 396.6V391.6M1248.8 396.6V401.6M1106.5 569.6V560.6M1106.5 569.6V578.6M1123.7 569.6V564.6M1123.7 569.6V574.6M1141 569.6V560.6M1141 569.6V578.6M1158.3 569.6V564.6M1158.3 569.6V574.6M1175.5 569.6V560.6M1175.5 569.6V578.6M1192.8 569.6V564.6M1192.8 569.6V574.6M1210 569.6V560.6M1210 569.6V578.6M1227.2 569.6V564.6M1227.2 569.6V574.6M1244.5 569.6V560.6M1244.5 569.6V578.6M1261.7 569.6V564.6M1261.7 569.6V574.6M1106.5 743V734M1106.5 743V752M1123.7 743V738M1123.7 743V748M1141 743V734M1141 743V752M1158.3 743V738M1158.3 743V748M1175.5 743V734M1175.5 743V752M1192.8 743V738M1192.8 743V748M1210 743V734M1210 743V752M1227.2 743V738M1227.2 743V748M1244.5 743V734M1244.5 743V752M1261.7 743V738M1261.7 743V748M1106.5 917V908M1123.7 917V912M1141 917V908M1158.3 917V912M1175.5 917V908M1192.8 917V912M1210 917V908M1227.2 917V912M1244.5 917V908M1261.7 917V912" stroke="#000" stroke-width="2.3" fill="none"/>
<path d="M1098.0 222.4H1270.0" stroke="#000" stroke-width="2.5"/>
<path d="M1098.0 396.6H1270.0" stroke="#000" stroke-width="2.5"/>
<path d="M1098.0 569.6H1270.0" stroke="#000" stroke-width="2.5"/>
<path d="M1098.0 743.0H1270.0" stroke="#000" stroke-width="2.5"/>
<rect x="1098.0" y="49.4" width="172" height="867.6" fill="none" stroke="#000" stroke-width="2.5"/>
<defs><clipPath id="cr0"><rect x="1098.0" y="50.6" width="172" height="175.8"/></clipPath><clipPath id="cr1"><rect x="1098.0" y="222.4" width="172" height="178.2"/></clipPath><clipPath id="cr2"><rect x="1098.0" y="396.6" width="172" height="177"/></clipPath><clipPath id="cr3"><rect x="1098.0" y="569.6" width="172" height="177.4"/></clipPath><clipPath id="cr4"><rect x="1098.0" y="743" width="172" height="178"/></clipPath></defs>
<g clip-path="url(#cr0)"><path d="M1092.4 220.4h11M1097.9 214.9v11M1096.7 221h11M1102.2 215.5v11M1101 220.4h11M1106.5 214.9v11M1105.3 219.9h11M1110.8 214.4v11M1109.6 220.5h11M1115.1 215v11M1113.9 219.8h11M1119.4 214.3v11M1118.2 220.6h11M1123.7 215.1v11M1122.6 220.3h11M1128.1 214.8v11M1126.9 219.6h11M1132.4 214.1v11M1131.2 219.6h11M1136.7 214.1v11M1135.5 219.2h11M1141 213.7v11M1139.8 218.4h11M1145.3 212.9v11M1144.1 218.3h11M1149.6 212.8v11M1148.4 216.9h11M1153.9 211.4v11M1152.8 216h11M1158.3 210.5v11M1157.1 213.2h11M1162.6 207.7v11M1161.4 210.1h11M1166.9 204.6v11M1165.7 201.2h11M1171.2 195.7v11M1170 172.3h11M1175.5 166.8v11M1174.3 109.1h11M1179.8 103.6v11M1178.6 49.5h11M1184.1 44v11M1182.9 69.7h11M1188.4 64.2v11M1187.3 94.9h11M1192.8 89.4v11M1191.6 126.6h11M1197.1 121.1v11M1195.9 170h11M1201.4 164.5v11M1200.2 197.1h11M1205.7 191.6v11M1204.5 208.1h11M1210 202.6v11M1208.8 213.5h11M1214.3 208v11M1213.1 216.1h11M1218.6 210.6v11M1217.4 216.8h11M1222.9 211.3v11M1221.8 218.4h11M1227.2 212.9v11M1226.1 218.8h11M1231.6 213.3v11M1230.4 219.1h11M1235.9 213.6v11M1234.7 219.2h11M1240.2 213.7v11M1239 219.3h11M1244.5 213.8v11M1243.3 219.6h11M1248.8 214.1v11M1247.6 220h11M1253.1 214.5v11M1251.9 220.4h11M1257.4 214.9v11M1256.2 220.4h11M1261.7 214.9v11M1260.6 220.2h11M1266.1 214.7v11M1264.9 220.4h11M1270.4 214.9v11" fill="none" stroke="#000" stroke-width="2.5"/><polyline points="1097.9,221.8 1098.3,221.8 1098.7,221.8 1099.2,221.8 1099.6,221.8 1100,221.8 1100.5,221.8 1100.9,221.8 1101.3,221.8 1101.8,221.8 1102.2,221.8 1102.6,221.7 1103.1,221.7 1103.5,221.7 1103.9,221.7 1104.3,221.7 1104.8,221.7 1105.2,221.7 1105.6,221.7 1106.1,221.7 1106.5,221.7 1106.9,221.7 1107.4,221.7 1107.8,221.7 1108.2,221.7 1108.7,221.6 1109.1,221.6 1109.5,221.6 1110,221.6 1110.4,221.6 1110.8,221.6 1111.2,221.6 1111.7,221.6 1112.1,221.6 1112.5,221.6 1113,221.6 1113.4,221.5 1113.8,221.5 1114.3,221.5 1114.7,221.5 1115.1,221.5 1115.6,221.5 1116,221.5 1116.4,221.5 1116.8,221.5 1117.3,221.5 1117.7,221.4 1118.1,221.4 1118.6,221.4 1119,221.4 1119.4,221.4 1119.9,221.4 1120.3,221.4 1120.7,221.4 1121.2,221.3 1121.6,221.3 1122,221.3 1122.5,221.3 1122.9,221.3 1123.3,221.3 1123.7,221.3 1124.2,221.2 1124.6,221.2 1125,221.2 1125.5,221.2 1125.9,221.2 1126.3,221.2 1126.8,221.1 1127.2,221.1 1127.6,221.1 1128.1,221.1 1128.5,221.1 1128.9,221 1129.4,221 1129.8,221 1130.2,221 1130.7,221 1131.1,220.9 1131.5,220.9 1131.9,220.9 1132.4,220.9 1132.8,220.8 1133.2,220.8 1133.7,220.8 1134.1,220.8 1134.5,220.7 1135,220.7 1135.4,220.7 1135.8,220.7 1136.3,220.6 1136.7,220.6 1137.1,220.6 1137.6,220.5 1138,220.5 1138.4,220.5 1138.8,220.4 1139.3,220.4 1139.7,220.4 1140.1,220.3 1140.6,220.3 1141,220.3 1141.4,220.2 1141.9,220.2 1142.3,220.1 1142.7,220.1 1143.2,220 1143.6,220 1144,219.9 1144.4,219.9 1144.9,219.8 1145.3,219.8 1145.7,219.7 1146.2,219.7 1146.6,219.6 1147,219.6 1147.5,219.5 1147.9,219.4 1148.3,219.4 1148.8,219.3 1149.2,219.2 1149.6,219.2 1150.1,219.1 1150.5,219 1150.9,218.9 1151.3,218.9 1151.8,218.8 1152.2,218.7 1152.6,218.6 1153.1,218.5 1153.5,218.4 1153.9,218.3 1154.4,218.2 1154.8,218.1 1155.2,218 1155.7,217.8 1156.1,217.7 1156.5,217.6 1157,217.5 1157.4,217.3 1157.8,217.2 1158.3,217 1158.7,216.9 1159.1,216.7 1159.5,216.5 1160,216.3 1160.4,216.1 1160.8,215.9 1161.3,215.7 1161.7,215.5 1162.1,215.3 1162.6,215 1163,214.7 1163.4,214.5 1163.9,214.2 1164.3,213.8 1164.7,213.5 1165.2,213.1 1165.6,212.8 1166,212.3 1166.4,211.9 1166.9,211.4 1167.3,210.8 1167.7,210.2 1168.2,209.6 1168.6,208.9 1169,208 1169.5,207.1 1169.9,206.1 1170.3,205 1170.8,203.7 1171.2,202.3 1171.6,200.6 1172,198.8 1172.5,196.7 1172.9,194.4 1173.3,191.9 1173.8,189 1174.2,185.8 1174.6,182.2 1175.1,178.3 1175.5,174 1175.9,169.3 1176.4,164.3 1176.8,158.8 1177.2,152.9 1177.7,146.6 1178.1,140 1178.5,133 1178.9,125.7 1179.4,118.2 1179.8,110.6 1180.2,102.8 1180.7,95.1 1181.1,87.5 1181.5,80.3 1182,73.4 1182.4,67.2 1182.8,61.7 1183.3,57.1 1183.7,53.5 1184.1,51.1 1184.6,49.7 1185,49.4 1185.4,50.1 1185.9,51.7 1186.3,54 1186.7,56.8 1187.1,60 1187.6,63.5 1188,67.1 1188.4,70.6 1188.9,74.1 1189.3,77.4 1189.7,80.4 1190.2,83.3 1190.6,85.9 1191,88.3 1191.5,90.5 1191.9,92.6 1192.3,94.6 1192.8,96.6 1193.2,98.7 1193.6,100.9 1194,103.3 1194.5,105.9 1194.9,108.9 1195.3,112.1 1195.8,115.6 1196.2,119.4 1196.6,123.4 1197.1,127.7 1197.5,132 1197.9,136.5 1198.4,141 1198.8,145.5 1199.2,149.9 1199.7,154.3 1200.1,158.6 1200.5,162.7 1200.9,166.7 1201.4,170.5 1201.8,174.1 1202.2,177.6 1202.7,180.9 1203.1,183.9 1203.5,186.8 1204,189.5 1204.4,191.9 1204.8,194.2 1205.3,196.3 1205.7,198.3 1206.1,200 1206.5,201.6 1207,203.1 1207.4,204.5 1207.8,205.7 1208.3,206.8 1208.7,207.8 1209.1,208.6 1209.6,209.5 1210,210.2 1210.4,210.9 1210.9,211.5 1211.3,212 1211.7,212.5 1212.2,213 1212.6,213.4 1213,213.8 1213.5,214.1 1213.9,214.4 1214.3,214.7 1214.7,215 1215.2,215.3 1215.6,215.5 1216,215.8 1216.5,216 1216.9,216.2 1217.3,216.4 1217.8,216.6 1218.2,216.7 1218.6,216.9 1219.1,217.1 1219.5,217.2 1219.9,217.4 1220.4,217.5 1220.8,217.6 1221.2,217.8 1221.6,217.9 1222.1,218 1222.5,218.1 1222.9,218.2 1223.4,218.3 1223.8,218.4 1224.2,218.5 1224.7,218.6 1225.1,218.7 1225.5,218.8 1226,218.9 1226.4,219 1226.8,219.1 1227.2,219.1 1227.7,219.2 1228.1,219.3 1228.5,219.3 1229,219.4 1229.4,219.5 1229.8,219.5 1230.3,219.6 1230.7,219.7 1231.1,219.7 1231.6,219.8 1232,219.8 1232.4,219.9 1232.9,219.9 1233.3,220 1233.7,220 1234.1,220.1 1234.6,220.1 1235,220.1 1235.4,220.2 1235.9,220.2 1236.3,220.3 1236.7,220.3 1237.2,220.3 1237.6,220.4 1238,220.4 1238.5,220.5 1238.9,220.5 1239.3,220.5 1239.8,220.6 1240.2,220.6 1240.6,220.6 1241,220.6 1241.5,220.7 1241.9,220.7 1242.3,220.7 1242.8,220.8 1243.2,220.8 1243.6,220.8 1244.1,220.8 1244.5,220.9 1244.9,220.9 1245.4,220.9 1245.8,220.9 1246.2,220.9 1246.7,221 1247.1,221 1247.5,221 1248,221 1248.4,221.1 1248.8,221.1 1249.2,221.1 1249.7,221.1 1250.1,221.1 1250.5,221.1 1251,221.2 1251.4,221.2 1251.8,221.2 1252.3,221.2 1252.7,221.2 1253.1,221.2 1253.6,221.3 1254,221.3 1254.4,221.3 1254.8,221.3 1255.3,221.3 1255.7,221.3 1256.1,221.3 1256.6,221.4 1257,221.4 1257.4,221.4 1257.9,221.4 1258.3,221.4 1258.7,221.4 1259.2,221.4 1259.6,221.4 1260,221.5 1260.5,221.5 1260.9,221.5 1261.3,221.5 1261.7,221.5 1262.2,221.5 1262.6,221.5 1263,221.5 1263.5,221.5 1263.9,221.6 1264.3,221.6 1264.8,221.6 1265.2,221.6 1265.6,221.6 1266.1,221.6 1266.5,221.6 1266.9,221.6 1267.4,221.6 1267.8,221.6 1268.2,221.6 1268.6,221.7 1269.1,221.7 1269.5,221.7 1269.9,221.7 1270.4,221.7" fill="none" stroke="#f00" stroke-width="2.3" stroke-linejoin="round"/></g>
<g clip-path="url(#cr1)"><path d="M1092.4 394.9h11M1097.9 389.4v11M1096.7 393.9h11M1102.2 388.4v11M1101 394.3h11M1106.5 388.8v11M1105.3 394.2h11M1110.8 388.7v11M1109.6 394.4h11M1115.1 388.9v11M1113.9 394.2h11M1119.4 388.7v11M1118.2 394.1h11M1123.7 388.6v11M1122.6 393.7h11M1128.1 388.2v11M1126.9 394.3h11M1132.4 388.8v11M1131.2 393.8h11M1136.7 388.3v11M1135.5 392.6h11M1141 387.1v11M1139.8 393h11M1145.3 387.5v11M1144.1 392h11M1149.6 386.5v11M1148.4 392.7h11M1153.9 387.2v11M1152.8 390.7h11M1158.3 385.2v11M1157.1 389.3h11M1162.6 383.8v11M1161.4 387.2h11M1166.9 381.7v11M1165.7 382.7h11M1171.2 377.2v11M1170 371h11M1175.5 365.5v11M1174.3 338.5h11M1179.8 333v11M1178.6 273.2h11M1184.1 267.7v11M1182.9 222h11M1188.4 216.5v11M1187.3 248.8h11M1192.8 243.3v11M1191.6 275.6h11M1197.1 270.1v11M1195.9 302.4h11M1201.4 296.9v11M1200.2 347.5h11M1205.7 342v11M1204.5 375.1h11M1210 369.6v11M1208.8 384.2h11M1214.3 378.7v11M1213.1 388.7h11M1218.6 383.2v11M1217.4 390.4h11M1222.9 384.9v11M1221.8 391.1h11M1227.2 385.6v11M1226.1 393.4h11M1231.6 387.9v11M1230.4 393.1h11M1235.9 387.6v11M1234.7 393.1h11M1240.2 387.6v11M1239 393.7h11M1244.5 388.2v11M1243.3 394.3h11M1248.8 388.8v11M1247.6 394.6h11M1253.1 389.1v11M1251.9 394.5h11M1257.4 389v11M1256.2 394.9h11M1261.7 389.4v11M1260.6 395.2h11M1266.1 389.7v11M1264.9 393.9h11M1270.4 388.4v11" fill="none" stroke="#000" stroke-width="2.5"/><polyline points="1097.9,396 1098.3,396 1098.7,396 1099.2,396 1099.6,396 1100,396 1100.5,396 1100.9,396 1101.3,396 1101.8,396 1102.2,396 1102.6,396 1103.1,396 1103.5,396 1103.9,396 1104.3,396 1104.8,396 1105.2,396 1105.6,395.9 1106.1,395.9 1106.5,395.9 1106.9,395.9 1107.4,395.9 1107.8,395.9 1108.2,395.9 1108.7,395.9 1109.1,395.9 1109.5,395.9 1110,395.9 1110.4,395.9 1110.8,395.9 1111.2,395.8 1111.7,395.8 1112.1,395.8 1112.5,395.8 1113,395.8 1113.4,395.8 1113.8,395.8 1114.3,395.8 1114.7,395.8 1115.1,395.8 1115.6,395.8 1116,395.8 1116.4,395.7 1116.8,395.7 1117.3,395.7 1117.7,395.7 1118.1,395.7 1118.6,395.7 1119,395.7 1119.4,395.7 1119.9,395.7 1120.3,395.6 1120.7,395.6 1121.2,395.6 1121.6,395.6 1122,395.6 1122.5,395.6 1122.9,395.6 1123.3,395.6 1123.7,395.5 1124.2,395.5 1124.6,395.5 1125,395.5 1125.5,395.5 1125.9,395.5 1126.3,395.5 1126.8,395.4 1127.2,395.4 1127.6,395.4 1128.1,395.4 1128.5,395.4 1128.9,395.4 1129.4,395.3 1129.8,395.3 1130.2,395.3 1130.7,395.3 1131.1,395.3 1131.5,395.3 1131.9,395.2 1132.4,395.2 1132.8,395.2 1133.2,395.2 1133.7,395.2 1134.1,395.1 1134.5,395.1 1135,395.1 1135.4,395.1 1135.8,395 1136.3,395 1136.7,395 1137.1,395 1137.6,394.9 1138,394.9 1138.4,394.9 1138.8,394.8 1139.3,394.8 1139.7,394.8 1140.1,394.8 1140.6,394.7 1141,394.7 1141.4,394.7 1141.9,394.6 1142.3,394.6 1142.7,394.6 1143.2,394.5 1143.6,394.5 1144,394.4 1144.4,394.4 1144.9,394.4 1145.3,394.3 1145.7,394.3 1146.2,394.2 1146.6,394.2 1147,394.1 1147.5,394.1 1147.9,394 1148.3,394 1148.8,393.9 1149.2,393.9 1149.6,393.8 1150.1,393.8 1150.5,393.7 1150.9,393.6 1151.3,393.6 1151.8,393.5 1152.2,393.4 1152.6,393.4 1153.1,393.3 1153.5,393.2 1153.9,393.1 1154.4,393.1 1154.8,393 1155.2,392.9 1155.7,392.8 1156.1,392.7 1156.5,392.6 1157,392.5 1157.4,392.4 1157.8,392.3 1158.3,392.2 1158.7,392.1 1159.1,391.9 1159.5,391.8 1160,391.7 1160.4,391.5 1160.8,391.4 1161.3,391.2 1161.7,391.1 1162.1,390.9 1162.6,390.8 1163,390.6 1163.4,390.4 1163.9,390.2 1164.3,390 1164.7,389.8 1165.2,389.5 1165.6,389.3 1166,389 1166.4,388.8 1166.9,388.5 1167.3,388.2 1167.7,387.8 1168.2,387.5 1168.6,387.1 1169,386.7 1169.5,386.3 1169.9,385.8 1170.3,385.3 1170.8,384.7 1171.2,384.1 1171.6,383.4 1172,382.6 1172.5,381.8 1172.9,380.8 1173.3,379.8 1173.8,378.6 1174.2,377.3 1174.6,375.8 1175.1,374.1 1175.5,372.3 1175.9,370.2 1176.4,367.9 1176.8,365.4 1177.2,362.6 1177.7,359.5 1178.1,356.1 1178.5,352.3 1178.9,348.2 1179.4,343.8 1179.8,339 1180.2,333.9 1180.7,328.4 1181.1,322.6 1181.5,316.4 1182,309.9 1182.4,303.2 1182.8,296.2 1183.3,289 1183.7,281.7 1184.1,274.4 1184.6,267.1 1185,259.9 1185.4,253 1185.9,246.5 1186.3,240.6 1186.7,235.2 1187.1,230.7 1187.6,227.1 1188,224.5 1188.4,222.9 1188.9,222.4 1189.3,222.9 1189.7,224.3 1190.2,226.6 1190.6,229.6 1191,233.1 1191.5,237 1191.9,241.1 1192.3,245.3 1192.8,249.5 1193.2,253.6 1193.6,257.4 1194,261 1194.5,264.3 1194.9,267.3 1195.3,269.9 1195.8,272.1 1196.2,274.1 1196.6,275.8 1197.1,277.4 1197.5,278.9 1197.9,280.4 1198.4,282 1198.8,283.9 1199.2,286 1199.7,288.6 1200.1,291.5 1200.5,294.9 1200.9,298.7 1201.4,302.8 1201.8,307.3 1202.2,311.9 1202.7,316.7 1203.1,321.5 1203.5,326.3 1204,331.1 1204.4,335.7 1204.8,340.2 1205.3,344.4 1205.7,348.5 1206.1,352.3 1206.5,355.9 1207,359.2 1207.4,362.3 1207.8,365.1 1208.3,367.7 1208.7,370.1 1209.1,372.2 1209.6,374.2 1210,375.9 1210.4,377.5 1210.9,378.9 1211.3,380.2 1211.7,381.3 1212.2,382.3 1212.6,383.2 1213,384 1213.5,384.7 1213.9,385.3 1214.3,385.9 1214.7,386.4 1215.2,386.9 1215.6,387.4 1216,387.8 1216.5,388.1 1216.9,388.5 1217.3,388.8 1217.8,389.1 1218.2,389.3 1218.6,389.6 1219.1,389.8 1219.5,390 1219.9,390.3 1220.4,390.5 1220.8,390.7 1221.2,390.8 1221.6,391 1222.1,391.2 1222.5,391.3 1222.9,391.5 1223.4,391.6 1223.8,391.8 1224.2,391.9 1224.7,392 1225.1,392.2 1225.5,392.3 1226,392.4 1226.4,392.5 1226.8,392.6 1227.2,392.7 1227.7,392.8 1228.1,392.9 1228.5,393 1229,393.1 1229.4,393.1 1229.8,393.2 1230.3,393.3 1230.7,393.4 1231.1,393.4 1231.6,393.5 1232,393.6 1232.4,393.6 1232.9,393.7 1233.3,393.8 1233.7,393.8 1234.1,393.9 1234.6,393.9 1235,394 1235.4,394.1 1235.9,394.1 1236.3,394.2 1236.7,394.2 1237.2,394.2 1237.6,394.3 1238,394.3 1238.5,394.4 1238.9,394.4 1239.3,394.5 1239.8,394.5 1240.2,394.5 1240.6,394.6 1241,394.6 1241.5,394.6 1241.9,394.7 1242.3,394.7 1242.8,394.7 1243.2,394.8 1243.6,394.8 1244.1,394.8 1244.5,394.9 1244.9,394.9 1245.4,394.9 1245.8,394.9 1246.2,395 1246.7,395 1247.1,395 1247.5,395 1248,395.1 1248.4,395.1 1248.8,395.1 1249.2,395.1 1249.7,395.2 1250.1,395.2 1250.5,395.2 1251,395.2 1251.4,395.2 1251.8,395.3 1252.3,395.3 1252.7,395.3 1253.1,395.3 1253.6,395.3 1254,395.4 1254.4,395.4 1254.8,395.4 1255.3,395.4 1255.7,395.4 1256.1,395.4 1256.6,395.5 1257,395.5 1257.4,395.5 1257.9,395.5 1258.3,395.5 1258.7,395.5 1259.2,395.5 1259.6,395.6 1260,395.6 1260.5,395.6 1260.9,395.6 1261.3,395.6 1261.7,395.6 1262.2,395.6 1262.6,395.6 1263,395.7 1263.5,395.7 1263.9,395.7 1264.3,395.7 1264.8,395.7 1265.2,395.7 1265.6,395.7 1266.1,395.7 1266.5,395.7 1266.9,395.7 1267.4,395.8 1267.8,395.8 1268.2,395.8 1268.6,395.8 1269.1,395.8 1269.5,395.8 1269.9,395.8 1270.4,395.8" fill="none" stroke="#f00" stroke-width="2.3" stroke-linejoin="round"/></g>
<g clip-path="url(#cr2)"><path d="M1092.4 567.4h11M1097.9 561.9v11M1096.7 567.2h11M1102.2 561.7v11M1101 567.6h11M1106.5 562.1v11M1105.3 568.2h11M1110.8 562.7v11M1109.6 567.7h11M1115.1 562.2v11M1113.9 566.7h11M1119.4 561.2v11M1118.2 566.9h11M1123.7 561.4v11M1122.6 567.4h11M1128.1 561.9v11M1126.9 566.4h11M1132.4 560.9v11M1131.2 566.4h11M1136.7 560.9v11M1135.5 566.2h11M1141 560.7v11M1139.8 564.7h11M1145.3 559.2v11M1144.1 565.3h11M1149.6 559.8v11M1148.4 564.2h11M1153.9 558.7v11M1152.8 563.1h11M1158.3 557.6v11M1157.1 560.4h11M1162.6 554.9v11M1161.4 556.9h11M1166.9 551.4v11M1165.7 548.6h11M1171.2 543.1v11M1170 526.8h11M1175.5 521.3v11M1174.3 479.9h11M1179.8 474.4v11M1178.6 420h11M1184.1 414.5v11M1182.9 407.2h11M1188.4 401.7v11M1187.3 439.9h11M1192.8 434.4v11M1191.6 459.7h11M1197.1 454.2v11M1195.9 501.8h11M1201.4 496.3v11M1200.2 541h11M1205.7 535.5v11M1204.5 555h11M1210 549.5v11M1208.8 560.7h11M1214.3 555.2v11M1213.1 563.2h11M1218.6 557.7v11M1217.4 563.6h11M1222.9 558.1v11M1221.8 564.7h11M1227.2 559.2v11M1226.1 565.5h11M1231.6 560v11M1230.4 565.5h11M1235.9 560v11M1234.7 565.9h11M1240.2 560.4v11M1239 566.5h11M1244.5 561v11M1243.3 567.3h11M1248.8 561.8v11M1247.6 566.8h11M1253.1 561.3v11M1251.9 567.1h11M1257.4 561.6v11M1256.2 567.1h11M1261.7 561.6v11M1260.6 566.8h11M1266.1 561.3v11M1264.9 568.3h11M1270.4 562.8v11" fill="none" stroke="#000" stroke-width="2.5"/><polyline points="1097.9,569 1098.3,569 1098.7,569 1099.2,569 1099.6,568.9 1100,568.9 1100.5,568.9 1100.9,568.9 1101.3,568.9 1101.8,568.9 1102.2,568.9 1102.6,568.9 1103.1,568.9 1103.5,568.9 1103.9,568.9 1104.3,568.9 1104.8,568.9 1105.2,568.9 1105.6,568.9 1106.1,568.8 1106.5,568.8 1106.9,568.8 1107.4,568.8 1107.8,568.8 1108.2,568.8 1108.7,568.8 1109.1,568.8 1109.5,568.8 1110,568.8 1110.4,568.8 1110.8,568.7 1111.2,568.7 1111.7,568.7 1112.1,568.7 1112.5,568.7 1113,568.7 1113.4,568.7 1113.8,568.7 1114.3,568.7 1114.7,568.7 1115.1,568.6 1115.6,568.6 1116,568.6 1116.4,568.6 1116.8,568.6 1117.3,568.6 1117.7,568.6 1118.1,568.6 1118.6,568.6 1119,568.5 1119.4,568.5 1119.9,568.5 1120.3,568.5 1120.7,568.5 1121.2,568.5 1121.6,568.5 1122,568.4 1122.5,568.4 1122.9,568.4 1123.3,568.4 1123.7,568.4 1124.2,568.4 1124.6,568.3 1125,568.3 1125.5,568.3 1125.9,568.3 1126.3,568.3 1126.8,568.3 1127.2,568.2 1127.6,568.2 1128.1,568.2 1128.5,568.2 1128.9,568.2 1129.4,568.1 1129.8,568.1 1130.2,568.1 1130.7,568.1 1131.1,568 1131.5,568 1131.9,568 1132.4,568 1132.8,567.9 1133.2,567.9 1133.7,567.9 1134.1,567.9 1134.5,567.8 1135,567.8 1135.4,567.8 1135.8,567.8 1136.3,567.7 1136.7,567.7 1137.1,567.7 1137.6,567.6 1138,567.6 1138.4,567.6 1138.8,567.5 1139.3,567.5 1139.7,567.5 1140.1,567.4 1140.6,567.4 1141,567.3 1141.4,567.3 1141.9,567.3 1142.3,567.2 1142.7,567.2 1143.2,567.1 1143.6,567.1 1144,567 1144.4,567 1144.9,566.9 1145.3,566.9 1145.7,566.8 1146.2,566.8 1146.6,566.7 1147,566.6 1147.5,566.6 1147.9,566.5 1148.3,566.4 1148.8,566.4 1149.2,566.3 1149.6,566.2 1150.1,566.2 1150.5,566.1 1150.9,566 1151.3,565.9 1151.8,565.8 1152.2,565.7 1152.6,565.7 1153.1,565.6 1153.5,565.5 1153.9,565.4 1154.4,565.2 1154.8,565.1 1155.2,565 1155.7,564.9 1156.1,564.8 1156.5,564.7 1157,564.5 1157.4,564.4 1157.8,564.2 1158.3,564.1 1158.7,563.9 1159.1,563.8 1159.5,563.6 1160,563.4 1160.4,563.2 1160.8,563 1161.3,562.8 1161.7,562.6 1162.1,562.4 1162.6,562.1 1163,561.9 1163.4,561.6 1163.9,561.3 1164.3,561 1164.7,560.7 1165.2,560.3 1165.6,559.9 1166,559.5 1166.4,559.1 1166.9,558.6 1167.3,558.1 1167.7,557.5 1168.2,556.9 1168.6,556.2 1169,555.4 1169.5,554.6 1169.9,553.6 1170.3,552.6 1170.8,551.5 1171.2,550.2 1171.6,548.8 1172,547.3 1172.5,545.6 1172.9,543.7 1173.3,541.6 1173.8,539.4 1174.2,536.9 1174.6,534.2 1175.1,531.2 1175.5,528 1175.9,524.5 1176.4,520.8 1176.8,516.8 1177.2,512.5 1177.7,507.9 1178.1,503.1 1178.5,498 1178.9,492.6 1179.4,487 1179.8,481.2 1180.2,475.2 1180.7,469 1181.1,462.8 1181.5,456.5 1182,450.2 1182.4,443.9 1182.8,437.8 1183.3,431.9 1183.7,426.3 1184.1,421.2 1184.6,416.5 1185,412.5 1185.4,409.1 1185.9,406.5 1186.3,404.7 1186.7,403.8 1187.1,403.6 1187.6,404.2 1188,405.6 1188.4,407.6 1188.9,410.2 1189.3,413.2 1189.7,416.5 1190.2,420 1190.6,423.7 1191,427.3 1191.5,430.9 1191.9,434.3 1192.3,437.5 1192.8,440.5 1193.2,443.2 1193.6,445.7 1194,447.9 1194.5,449.9 1194.9,451.8 1195.3,453.5 1195.8,455.3 1196.2,457.1 1196.6,459.1 1197.1,461.4 1197.5,464 1197.9,467.1 1198.4,470.7 1198.8,474.6 1199.2,479 1199.7,483.6 1200.1,488.5 1200.5,493.5 1200.9,498.5 1201.4,503.4 1201.8,508.3 1202.2,513 1202.7,517.4 1203.1,521.7 1203.5,525.7 1204,529.4 1204.4,532.8 1204.8,536 1205.3,538.8 1205.7,541.5 1206.1,543.8 1206.5,546 1207,547.9 1207.4,549.6 1207.8,551.1 1208.3,552.4 1208.7,553.6 1209.1,554.7 1209.6,555.6 1210,556.4 1210.4,557.2 1210.9,557.8 1211.3,558.4 1211.7,559 1212.2,559.5 1212.6,559.9 1213,560.3 1213.5,560.7 1213.9,561 1214.3,561.3 1214.7,561.6 1215.2,561.9 1215.6,562.2 1216,562.4 1216.5,562.7 1216.9,562.9 1217.3,563.1 1217.8,563.3 1218.2,563.5 1218.6,563.7 1219.1,563.9 1219.5,564 1219.9,564.2 1220.4,564.3 1220.8,564.5 1221.2,564.6 1221.6,564.8 1222.1,564.9 1222.5,565 1222.9,565.1 1223.4,565.2 1223.8,565.3 1224.2,565.5 1224.7,565.6 1225.1,565.7 1225.5,565.7 1226,565.8 1226.4,565.9 1226.8,566 1227.2,566.1 1227.7,566.2 1228.1,566.2 1228.5,566.3 1229,566.4 1229.4,566.5 1229.8,566.5 1230.3,566.6 1230.7,566.7 1231.1,566.7 1231.6,566.8 1232,566.8 1232.4,566.9 1232.9,566.9 1233.3,567 1233.7,567 1234.1,567.1 1234.6,567.1 1235,567.2 1235.4,567.2 1235.9,567.3 1236.3,567.3 1236.7,567.4 1237.2,567.4 1237.6,567.4 1238,567.5 1238.5,567.5 1238.9,567.5 1239.3,567.6 1239.8,567.6 1240.2,567.6 1240.6,567.7 1241,567.7 1241.5,567.7 1241.9,567.8 1242.3,567.8 1242.8,567.8 1243.2,567.9 1243.6,567.9 1244.1,567.9 1244.5,567.9 1244.9,568 1245.4,568 1245.8,568 1246.2,568 1246.7,568.1 1247.1,568.1 1247.5,568.1 1248,568.1 1248.4,568.2 1248.8,568.2 1249.2,568.2 1249.7,568.2 1250.1,568.2 1250.5,568.3 1251,568.3 1251.4,568.3 1251.8,568.3 1252.3,568.3 1252.7,568.3 1253.1,568.4 1253.6,568.4 1254,568.4 1254.4,568.4 1254.8,568.4 1255.3,568.4 1255.7,568.5 1256.1,568.5 1256.6,568.5 1257,568.5 1257.4,568.5 1257.9,568.5 1258.3,568.5 1258.7,568.5 1259.2,568.6 1259.6,568.6 1260,568.6 1260.5,568.6 1260.9,568.6 1261.3,568.6 1261.7,568.6 1262.2,568.6 1262.6,568.7 1263,568.7 1263.5,568.7 1263.9,568.7 1264.3,568.7 1264.8,568.7 1265.2,568.7 1265.6,568.7 1266.1,568.7 1266.5,568.7 1266.9,568.8 1267.4,568.8 1267.8,568.8 1268.2,568.8 1268.6,568.8 1269.1,568.8 1269.5,568.8 1269.9,568.8 1270.4,568.8" fill="none" stroke="#f00" stroke-width="2.3" stroke-linejoin="round"/></g>
<g clip-path="url(#cr3)"><path d="M1092.4 739.7h11M1097.9 734.2v11M1096.7 740.5h11M1102.2 735v11M1101 741h11M1106.5 735.5v11M1105.3 739.9h11M1110.8 734.4v11M1109.6 740.8h11M1115.1 735.3v11M1113.9 740.9h11M1119.4 735.4v11M1118.2 739.7h11M1123.7 734.2v11M1122.6 740h11M1128.1 734.5v11M1126.9 739.1h11M1132.4 733.6v11M1131.2 739.5h11M1136.7 734v11M1135.5 738.9h11M1141 733.4v11M1139.8 738.4h11M1145.3 732.9v11M1144.1 738.2h11M1149.6 732.7v11M1148.4 736.7h11M1153.9 731.2v11M1152.8 735.7h11M1158.3 730.2v11M1157.1 733.1h11M1162.6 727.6v11M1161.4 727.8h11M1166.9 722.3v11M1165.7 719.1h11M1171.2 713.6v11M1170 699h11M1175.5 693.5v11M1174.3 662.3h11M1179.8 656.8v11M1178.6 617.9h11M1184.1 612.4v11M1182.9 588.5h11M1188.4 583v11M1187.3 598.8h11M1192.8 593.3v11M1191.6 624.8h11M1197.1 619.3v11M1195.9 658.7h11M1201.4 653.2v11M1200.2 692.3h11M1205.7 686.8v11M1204.5 714.5h11M1210 709v11M1208.8 726.6h11M1214.3 721.1v11M1213.1 731h11M1218.6 725.5v11M1217.4 735.4h11M1222.9 729.9v11M1221.8 735.8h11M1227.2 730.3v11M1226.1 736.3h11M1231.6 730.8v11M1230.4 737.7h11M1235.9 732.2v11M1234.7 738.4h11M1240.2 732.9v11M1239 739.5h11M1244.5 734v11M1243.3 739.1h11M1248.8 733.6v11M1247.6 740h11M1253.1 734.5v11M1251.9 739.6h11M1257.4 734.1v11M1256.2 741.4h11M1261.7 735.9v11M1260.6 740.7h11M1266.1 735.2v11M1264.9 741.6h11M1270.4 736.1v11" fill="none" stroke="#000" stroke-width="2.5"/><polyline points="1097.9,742.2 1098.3,742.2 1098.7,742.2 1099.2,742.1 1099.6,742.1 1100,742.1 1100.5,742.1 1100.9,742.1 1101.3,742.1 1101.8,742.1 1102.2,742.1 1102.6,742.1 1103.1,742.1 1103.5,742.1 1103.9,742 1104.3,742 1104.8,742 1105.2,742 1105.6,742 1106.1,742 1106.5,742 1106.9,742 1107.4,742 1107.8,742 1108.2,741.9 1108.7,741.9 1109.1,741.9 1109.5,741.9 1110,741.9 1110.4,741.9 1110.8,741.9 1111.2,741.9 1111.7,741.9 1112.1,741.8 1112.5,741.8 1113,741.8 1113.4,741.8 1113.8,741.8 1114.3,741.8 1114.7,741.8 1115.1,741.7 1115.6,741.7 1116,741.7 1116.4,741.7 1116.8,741.7 1117.3,741.7 1117.7,741.7 1118.1,741.6 1118.6,741.6 1119,741.6 1119.4,741.6 1119.9,741.6 1120.3,741.6 1120.7,741.5 1121.2,741.5 1121.6,741.5 1122,741.5 1122.5,741.5 1122.9,741.4 1123.3,741.4 1123.7,741.4 1124.2,741.4 1124.6,741.4 1125,741.3 1125.5,741.3 1125.9,741.3 1126.3,741.3 1126.8,741.3 1127.2,741.2 1127.6,741.2 1128.1,741.2 1128.5,741.2 1128.9,741.1 1129.4,741.1 1129.8,741.1 1130.2,741 1130.7,741 1131.1,741 1131.5,741 1131.9,740.9 1132.4,740.9 1132.8,740.9 1133.2,740.8 1133.7,740.8 1134.1,740.8 1134.5,740.7 1135,740.7 1135.4,740.7 1135.8,740.6 1136.3,740.6 1136.7,740.6 1137.1,740.5 1137.6,740.5 1138,740.4 1138.4,740.4 1138.8,740.4 1139.3,740.3 1139.7,740.3 1140.1,740.2 1140.6,740.2 1141,740.1 1141.4,740.1 1141.9,740 1142.3,740 1142.7,739.9 1143.2,739.9 1143.6,739.8 1144,739.7 1144.4,739.7 1144.9,739.6 1145.3,739.6 1145.7,739.5 1146.2,739.4 1146.6,739.4 1147,739.3 1147.5,739.2 1147.9,739.1 1148.3,739.1 1148.8,739 1149.2,738.9 1149.6,738.8 1150.1,738.7 1150.5,738.6 1150.9,738.5 1151.3,738.4 1151.8,738.3 1152.2,738.2 1152.6,738.1 1153.1,738 1153.5,737.9 1153.9,737.8 1154.4,737.7 1154.8,737.5 1155.2,737.4 1155.7,737.3 1156.1,737.1 1156.5,737 1157,736.8 1157.4,736.7 1157.8,736.5 1158.3,736.3 1158.7,736.2 1159.1,736 1159.5,735.8 1160,735.6 1160.4,735.4 1160.8,735.1 1161.3,734.9 1161.7,734.6 1162.1,734.3 1162.6,734.1 1163,733.8 1163.4,733.4 1163.9,733.1 1164.3,732.7 1164.7,732.3 1165.2,731.9 1165.6,731.4 1166,730.9 1166.4,730.3 1166.9,729.7 1167.3,729.1 1167.7,728.4 1168.2,727.6 1168.6,726.8 1169,725.9 1169.5,725 1169.9,723.9 1170.3,722.8 1170.8,721.6 1171.2,720.2 1171.6,718.8 1172,717.3 1172.5,715.6 1172.9,713.8 1173.3,711.9 1173.8,709.8 1174.2,707.6 1174.6,705.2 1175.1,702.7 1175.5,700 1175.9,697.2 1176.4,694.1 1176.8,691 1177.2,687.6 1177.7,684.1 1178.1,680.5 1178.5,676.6 1178.9,672.7 1179.4,668.6 1179.8,664.3 1180.2,660 1180.7,655.5 1181.1,650.9 1181.5,646.3 1182,641.6 1182.4,636.9 1182.8,632.2 1183.3,627.6 1183.7,623 1184.1,618.5 1184.6,614.3 1185,610.2 1185.4,606.3 1185.9,602.8 1186.3,599.6 1186.7,596.8 1187.1,594.4 1187.6,592.4 1188,590.9 1188.4,589.8 1188.9,589.2 1189.3,589 1189.7,589.2 1190.2,589.9 1190.6,590.9 1191,592.2 1191.5,593.8 1191.9,595.7 1192.3,597.7 1192.8,599.9 1193.2,602.3 1193.6,604.7 1194,607.2 1194.5,609.8 1194.9,612.5 1195.3,615.2 1195.8,618 1196.2,620.8 1196.6,623.7 1197.1,626.6 1197.5,629.6 1197.9,632.7 1198.4,635.8 1198.8,639.1 1199.2,642.4 1199.7,645.8 1200.1,649.3 1200.5,652.8 1200.9,656.4 1201.4,660 1201.8,663.6 1202.2,667.2 1202.7,670.7 1203.1,674.2 1203.5,677.7 1204,681 1204.4,684.3 1204.8,687.5 1205.3,690.5 1205.7,693.4 1206.1,696.3 1206.5,699 1207,701.5 1207.4,704 1207.8,706.3 1208.3,708.5 1208.7,710.5 1209.1,712.5 1209.6,714.3 1210,716 1210.4,717.6 1210.9,719.1 1211.3,720.5 1211.7,721.8 1212.2,723 1212.6,724.1 1213,725.2 1213.5,726.1 1213.9,727 1214.3,727.8 1214.7,728.6 1215.2,729.3 1215.6,730 1216,730.6 1216.5,731.1 1216.9,731.6 1217.3,732.1 1217.8,732.6 1218.2,733 1218.6,733.3 1219.1,733.7 1219.5,734 1219.9,734.3 1220.4,734.6 1220.8,734.9 1221.2,735.2 1221.6,735.4 1222.1,735.6 1222.5,735.8 1222.9,736 1223.4,736.2 1223.8,736.4 1224.2,736.6 1224.7,736.8 1225.1,736.9 1225.5,737.1 1226,737.2 1226.4,737.4 1226.8,737.5 1227.2,737.6 1227.7,737.8 1228.1,737.9 1228.5,738 1229,738.1 1229.4,738.2 1229.8,738.3 1230.3,738.4 1230.7,738.5 1231.1,738.6 1231.6,738.7 1232,738.8 1232.4,738.9 1232.9,739 1233.3,739.1 1233.7,739.1 1234.1,739.2 1234.6,739.3 1235,739.4 1235.4,739.4 1235.9,739.5 1236.3,739.6 1236.7,739.6 1237.2,739.7 1237.6,739.7 1238,739.8 1238.5,739.9 1238.9,739.9 1239.3,740 1239.8,740 1240.2,740.1 1240.6,740.1 1241,740.2 1241.5,740.2 1241.9,740.3 1242.3,740.3 1242.8,740.4 1243.2,740.4 1243.6,740.4 1244.1,740.5 1244.5,740.5 1244.9,740.6 1245.4,740.6 1245.8,740.6 1246.2,740.7 1246.7,740.7 1247.1,740.7 1247.5,740.8 1248,740.8 1248.4,740.8 1248.8,740.9 1249.2,740.9 1249.7,740.9 1250.1,741 1250.5,741 1251,741 1251.4,741.1 1251.8,741.1 1252.3,741.1 1252.7,741.1 1253.1,741.2 1253.6,741.2 1254,741.2 1254.4,741.2 1254.8,741.3 1255.3,741.3 1255.7,741.3 1256.1,741.3 1256.6,741.3 1257,741.4 1257.4,741.4 1257.9,741.4 1258.3,741.4 1258.7,741.5 1259.2,741.5 1259.6,741.5 1260,741.5 1260.5,741.5 1260.9,741.5 1261.3,741.6 1261.7,741.6 1262.2,741.6 1262.6,741.6 1263,741.6 1263.5,741.6 1263.9,741.7 1264.3,741.7 1264.8,741.7 1265.2,741.7 1265.6,741.7 1266.1,741.7 1266.5,741.8 1266.9,741.8 1267.4,741.8 1267.8,741.8 1268.2,741.8 1268.6,741.8 1269.1,741.8 1269.5,741.8 1269.9,741.9 1270.4,741.9" fill="none" stroke="#f00" stroke-width="2.3" stroke-linejoin="round"/></g>
<g clip-path="url(#cr4)"><path d="M1092.4 914.5h11M1097.9 909v11M1096.7 915.3h11M1102.2 909.8v11M1101 914.4h11M1106.5 908.9v11M1105.3 915.1h11M1110.8 909.6v11M1109.6 915h11M1115.1 909.5v11M1113.9 913.8h11M1119.4 908.3v11M1118.2 913.8h11M1123.7 908.3v11M1122.6 913.6h11M1128.1 908.1v11M1126.9 913.2h11M1132.4 907.7v11M1131.2 913.3h11M1136.7 907.8v11M1135.5 912.8h11M1141 907.3v11M1139.8 912.1h11M1145.3 906.6v11M1144.1 912.3h11M1149.6 906.8v11M1148.4 911.6h11M1153.9 906.1v11M1152.8 909.5h11M1158.3 904v11M1157.1 908h11M1162.6 902.5v11M1161.4 905.1h11M1166.9 899.6v11M1165.7 898.1h11M1171.2 892.6v11M1170 880.3h11M1175.5 874.8v11M1174.3 842.2h11M1179.8 836.7v11M1178.6 782.6h11M1184.1 777.1v11M1182.9 742.8h11M1188.4 737.3v11M1187.3 767.5h11M1192.8 762v11M1191.6 804h11M1197.1 798.5v11M1195.9 833.6h11M1201.4 828.1v11M1200.2 875h11M1205.7 869.5v11M1204.5 897.8h11M1210 892.3v11M1208.8 906.1h11M1214.3 900.6v11M1213.1 908.2h11M1218.6 902.7v11M1217.4 910.6h11M1222.9 905.1v11M1221.8 911.6h11M1227.2 906.1v11M1226.1 912h11M1231.6 906.5v11M1230.4 912.9h11M1235.9 907.4v11M1234.7 912.6h11M1240.2 907.1v11M1239 913.5h11M1244.5 908v11M1243.3 913h11M1248.8 907.5v11M1247.6 915.4h11M1253.1 909.9v11M1251.9 915.2h11M1257.4 909.7v11M1256.2 915.2h11M1261.7 909.7v11M1260.6 914.9h11M1266.1 909.4v11M1264.9 915.3h11M1270.4 909.8v11" fill="none" stroke="#000" stroke-width="2.5"/><polyline points="1097.9,916.3 1098.3,916.3 1098.7,916.3 1099.2,916.3 1099.6,916.3 1100,916.3 1100.5,916.3 1100.9,916.3 1101.3,916.3 1101.8,916.3 1102.2,916.3 1102.6,916.2 1103.1,916.2 1103.5,916.2 1103.9,916.2 1104.3,916.2 1104.8,916.2 1105.2,916.2 1105.6,916.2 1106.1,916.2 1106.5,916.2 1106.9,916.2 1107.4,916.2 1107.8,916.1 1108.2,916.1 1108.7,916.1 1109.1,916.1 1109.5,916.1 1110,916.1 1110.4,916.1 1110.8,916.1 1111.2,916.1 1111.7,916.1 1112.1,916.1 1112.5,916 1113,916 1113.4,916 1113.8,916 1114.3,916 1114.7,916 1115.1,916 1115.6,916 1116,916 1116.4,915.9 1116.8,915.9 1117.3,915.9 1117.7,915.9 1118.1,915.9 1118.6,915.9 1119,915.9 1119.4,915.8 1119.9,915.8 1120.3,915.8 1120.7,915.8 1121.2,915.8 1121.6,915.8 1122,915.8 1122.5,915.7 1122.9,915.7 1123.3,915.7 1123.7,915.7 1124.2,915.7 1124.6,915.7 1125,915.6 1125.5,915.6 1125.9,915.6 1126.3,915.6 1126.8,915.6 1127.2,915.5 1127.6,915.5 1128.1,915.5 1128.5,915.5 1128.9,915.5 1129.4,915.4 1129.8,915.4 1130.2,915.4 1130.7,915.4 1131.1,915.3 1131.5,915.3 1131.9,915.3 1132.4,915.3 1132.8,915.2 1133.2,915.2 1133.7,915.2 1134.1,915.2 1134.5,915.1 1135,915.1 1135.4,915.1 1135.8,915 1136.3,915 1136.7,915 1137.1,915 1137.6,914.9 1138,914.9 1138.4,914.8 1138.8,914.8 1139.3,914.8 1139.7,914.7 1140.1,914.7 1140.6,914.7 1141,914.6 1141.4,914.6 1141.9,914.5 1142.3,914.5 1142.7,914.4 1143.2,914.4 1143.6,914.3 1144,914.3 1144.4,914.2 1144.9,914.2 1145.3,914.1 1145.7,914.1 1146.2,914 1146.6,914 1147,913.9 1147.5,913.9 1147.9,913.8 1148.3,913.7 1148.8,913.7 1149.2,913.6 1149.6,913.5 1150.1,913.4 1150.5,913.4 1150.9,913.3 1151.3,913.2 1151.8,913.1 1152.2,913 1152.6,912.9 1153.1,912.8 1153.5,912.7 1153.9,912.6 1154.4,912.5 1154.8,912.4 1155.2,912.3 1155.7,912.2 1156.1,912.1 1156.5,912 1157,911.8 1157.4,911.7 1157.8,911.6 1158.3,911.4 1158.7,911.3 1159.1,911.1 1159.5,911 1160,910.8 1160.4,910.6 1160.8,910.4 1161.3,910.2 1161.7,910 1162.1,909.8 1162.6,909.6 1163,909.3 1163.4,909.1 1163.9,908.8 1164.3,908.6 1164.7,908.3 1165.2,907.9 1165.6,907.6 1166,907.2 1166.4,906.8 1166.9,906.4 1167.3,906 1167.7,905.5 1168.2,905 1168.6,904.4 1169,903.7 1169.5,903 1169.9,902.3 1170.3,901.4 1170.8,900.5 1171.2,899.5 1171.6,898.4 1172,897.2 1172.5,895.8 1172.9,894.3 1173.3,892.7 1173.8,890.9 1174.2,889 1174.6,886.8 1175.1,884.5 1175.5,881.9 1175.9,879.1 1176.4,876.1 1176.8,872.9 1177.2,869.4 1177.7,865.7 1178.1,861.7 1178.5,857.4 1178.9,852.9 1179.4,848.1 1179.8,843.1 1180.2,837.8 1180.7,832.3 1181.1,826.6 1181.5,820.7 1182,814.6 1182.4,808.5 1182.8,802.2 1183.3,795.9 1183.7,789.7 1184.1,783.5 1184.6,777.5 1185,771.7 1185.4,766.2 1185.9,761.1 1186.3,756.6 1186.7,752.6 1187.1,749.2 1187.6,746.6 1188,744.8 1188.4,743.7 1188.9,743.5 1189.3,744.1 1189.7,745.4 1190.2,747.4 1190.6,750 1191,753.2 1191.5,756.7 1191.9,760.6 1192.3,764.7 1192.8,768.9 1193.2,773.2 1193.6,777.4 1194,781.5 1194.5,785.4 1194.9,789.1 1195.3,792.6 1195.8,795.9 1196.2,798.9 1196.6,801.7 1197.1,804.3 1197.5,806.7 1197.9,809.1 1198.4,811.5 1198.8,813.9 1199.2,816.6 1199.7,819.4 1200.1,822.6 1200.5,826.1 1200.9,829.9 1201.4,834 1201.8,838.3 1202.2,842.8 1202.7,847.4 1203.1,851.9 1203.5,856.4 1204,860.8 1204.4,865.1 1204.8,869.1 1205.3,872.9 1205.7,876.5 1206.1,879.8 1206.5,882.9 1207,885.7 1207.4,888.3 1207.8,890.6 1208.3,892.7 1208.7,894.6 1209.1,896.3 1209.6,897.8 1210,899.2 1210.4,900.4 1210.9,901.5 1211.3,902.4 1211.7,903.3 1212.2,904 1212.6,904.7 1213,905.3 1213.5,905.9 1213.9,906.3 1214.3,906.8 1214.7,907.2 1215.2,907.6 1215.6,908 1216,908.3 1216.5,908.6 1216.9,908.9 1217.3,909.2 1217.8,909.4 1218.2,909.7 1218.6,909.9 1219.1,910.1 1219.5,910.3 1219.9,910.5 1220.4,910.7 1220.8,910.9 1221.2,911.1 1221.6,911.2 1222.1,911.4 1222.5,911.5 1222.9,911.7 1223.4,911.8 1223.8,911.9 1224.2,912.1 1224.7,912.2 1225.1,912.3 1225.5,912.4 1226,912.5 1226.4,912.6 1226.8,912.8 1227.2,912.8 1227.7,912.9 1228.1,913 1228.5,913.1 1229,913.2 1229.4,913.3 1229.8,913.4 1230.3,913.5 1230.7,913.5 1231.1,913.6 1231.6,913.7 1232,913.7 1232.4,913.8 1232.9,913.9 1233.3,913.9 1233.7,914 1234.1,914.1 1234.6,914.1 1235,914.2 1235.4,914.2 1235.9,914.3 1236.3,914.3 1236.7,914.4 1237.2,914.4 1237.6,914.5 1238,914.5 1238.5,914.6 1238.9,914.6 1239.3,914.6 1239.8,914.7 1240.2,914.7 1240.6,914.8 1241,914.8 1241.5,914.8 1241.9,914.9 1242.3,914.9 1242.8,914.9 1243.2,915 1243.6,915 1244.1,915 1244.5,915.1 1244.9,915.1 1245.4,915.1 1245.8,915.2 1246.2,915.2 1246.7,915.2 1247.1,915.2 1247.5,915.3 1248,915.3 1248.4,915.3 1248.8,915.3 1249.2,915.4 1249.7,915.4 1250.1,915.4 1250.5,915.4 1251,915.5 1251.4,915.5 1251.8,915.5 1252.3,915.5 1252.7,915.5 1253.1,915.6 1253.6,915.6 1254,915.6 1254.4,915.6 1254.8,915.6 1255.3,915.7 1255.7,915.7 1256.1,915.7 1256.6,915.7 1257,915.7 1257.4,915.7 1257.9,915.8 1258.3,915.8 1258.7,915.8 1259.2,915.8 1259.6,915.8 1260,915.8 1260.5,915.8 1260.9,915.9 1261.3,915.9 1261.7,915.9 1262.2,915.9 1262.6,915.9 1263,915.9 1263.5,915.9 1263.9,915.9 1264.3,916 1264.8,916 1265.2,916 1265.6,916 1266.1,916 1266.5,916 1266.9,916 1267.4,916 1267.8,916.1 1268.2,916.1 1268.6,916.1 1269.1,916.1 1269.5,916.1 1269.9,916.1 1270.4,916.1" fill="none" stroke="#f00" stroke-width="2.3" stroke-linejoin="round"/></g>
<text x="654.13" y="245.0" font-size="53.33" textLength="105.74" lengthAdjust="spacingAndGlyphs" fill="#0000ff" style="font-family:'Liberation Sans',Arial,sans-serif;">4.4V</text>
<text x="659.73" y="375.8" font-size="53.33" textLength="105.74" lengthAdjust="spacingAndGlyphs" fill="#0000ff" style="font-family:'Liberation Sans',Arial,sans-serif;">4.3V</text>
<text x="663.44" y="517.2" font-size="53.33" textLength="104.43" lengthAdjust="spacingAndGlyphs" fill="#0000ff" style="font-family:'Liberation Sans',Arial,sans-serif;">4.2V</text>
<text x="658.43" y="654.0" font-size="53.33" textLength="105.84" lengthAdjust="spacingAndGlyphs" fill="#0000ff" style="font-family:'Liberation Sans',Arial,sans-serif;">4.1V</text>
<text x="655.44" y="787.3" font-size="53.33" textLength="140.62" lengthAdjust="spacingAndGlyphs" fill="#0000ff" style="font-family:'Liberation Sans',Arial,sans-serif;">Fresh</text>
<text x="1010.39" y="240.5" font-size="48.99" textLength="31.88" lengthAdjust="spacingAndGlyphs" fill="#000" style="font-family:'Liberation Sans',Arial,sans-serif;">E</text>
<text x="1014.0" y="364.2" font-size="48.99" textLength="33.35" lengthAdjust="spacingAndGlyphs" fill="#000" style="font-family:'Liberation Sans',Arial,sans-serif;">D</text>
<text x="1011.63" y="516.0" font-size="48.99" textLength="33.74" lengthAdjust="spacingAndGlyphs" fill="#000" style="font-family:'Liberation Sans',Arial,sans-serif;">C</text>
<text x="1016.5" y="648.9" font-size="48.99" textLength="33.39" lengthAdjust="spacingAndGlyphs" fill="#000" style="font-family:'Liberation Sans',Arial,sans-serif;">B</text>
<text x="1018.36" y="787.7" font-size="48.99" textLength="32.98" lengthAdjust="spacingAndGlyphs" fill="#000" style="font-family:'Liberation Sans',Arial,sans-serif;">A</text>
<text x="1235.54" y="87.2" font-size="33.91" textLength="21.13" lengthAdjust="spacingAndGlyphs" fill="#0000ff" style="font-family:'Liberation Sans',Arial,sans-serif;">E</text>
<text x="1232.31" y="264.2" font-size="33.33" textLength="24.31" lengthAdjust="spacingAndGlyphs" fill="#0000ff" style="font-family:'Liberation Sans',Arial,sans-serif;">D</text>
<text x="1233.14" y="438.3" font-size="33.33" textLength="22.71" lengthAdjust="spacingAndGlyphs" fill="#0000ff" style="font-family:'Liberation Sans',Arial,sans-serif;">C</text>
<text x="1234.31" y="614.8" font-size="33.33" textLength="22.14" lengthAdjust="spacingAndGlyphs" fill="#0000ff" style="font-family:'Liberation Sans',Arial,sans-serif;">B</text>
<text x="1235.56" y="787.7" font-size="33.33" textLength="21.23" lengthAdjust="spacingAndGlyphs" fill="#0000ff" style="font-family:'Liberation Sans',Arial,sans-serif;">A</text>
<text x="1134.6" y="34.8" font-size="37.39" textLength="88.79" lengthAdjust="spacingAndGlyphs" fill="#000" style="font-family:'Liberation Sans',Arial,sans-serif;">(104)</text>
<text x="51.38" y="930.5" font-size="51.59" textLength="56.77" lengthAdjust="spacingAndGlyphs" fill="#000" style="font-family:'Liberation Sans',Arial,sans-serif;">18</text>
<text x="168.67" y="930.5" font-size="51.59" textLength="58.04" lengthAdjust="spacingAndGlyphs" fill="#000" style="font-family:'Liberation Sans',Arial,sans-serif;">20</text>
<text x="227.23" y="930.5" font-size="51.59" textLength="56.35" lengthAdjust="spacingAndGlyphs" fill="#000" style="font-family:'Liberation Sans',Arial,sans-serif;">35</text>
<text x="342.66" y="930.5" font-size="51.59" textLength="58.41" lengthAdjust="spacingAndGlyphs" fill="#000" style="font-family:'Liberation Sans',Arial,sans-serif;">40</text>
<text x="458.11" y="930.5" font-size="51.59" textLength="57.59" lengthAdjust="spacingAndGlyphs" fill="#000" style="font-family:'Liberation Sans',Arial,sans-serif;">45</text>
<text x="572.73" y="930.5" font-size="51.59" textLength="59.25" lengthAdjust="spacingAndGlyphs" fill="#000" style="font-family:'Liberation Sans',Arial,sans-serif;">50</text>
<text x="688.2" y="930.5" font-size="51.59" textLength="58.41" lengthAdjust="spacingAndGlyphs" fill="#000" style="font-family:'Liberation Sans',Arial,sans-serif;">55</text>
<text x="803.34" y="930.5" font-size="51.59" textLength="59.54" lengthAdjust="spacingAndGlyphs" fill="#000" style="font-family:'Liberation Sans',Arial,sans-serif;">60</text>
<text x="918.81" y="930.5" font-size="51.59" textLength="58.69" lengthAdjust="spacingAndGlyphs" fill="#000" style="font-family:'Liberation Sans',Arial,sans-serif;">65</text>
<text x="1033.67" y="930.5" font-size="51.59" textLength="60.12" lengthAdjust="spacingAndGlyphs" fill="#000" style="font-family:'Liberation Sans',Arial,sans-serif;">70</text>
<text x="1123.42" y="955.3" font-size="30.72" textLength="35.31" lengthAdjust="spacingAndGlyphs" fill="#000" style="font-family:'Liberation Sans',Arial,sans-serif;">44</text>
<text x="1179.02" y="955.3" font-size="30.72" textLength="62.9" lengthAdjust="spacingAndGlyphs" fill="#000" style="font-family:'Liberation Sans',Arial,sans-serif;">44.8</text>
<text x="472.16" y="1004.2" font-size="41.98" textLength="498.58" lengthAdjust="spacingAndGlyphs" fill="#000" style="font-family:'Liberation Serif','Times New Roman',serif;">Scattering Angle (degree)</text>
<text x="459.94" y="117.8" font-size="61.59" textLength="131.81" lengthAdjust="spacingAndGlyphs" fill="#000" style="font-family:'Liberation Sans',Arial,sans-serif;">Li(Ni</text>
<text x="593.07" y="133.8" font-size="34.78" textLength="49.74" lengthAdjust="spacingAndGlyphs" fill="#000" style="font-family:'Liberation Sans',Arial,sans-serif;font-style:italic;">0.8</text>
<text x="641.67" y="117.8" font-size="61.59" textLength="84.99" lengthAdjust="spacingAndGlyphs" fill="#000" style="font-family:'Liberation Sans',Arial,sans-serif;">Mn</text>
<text x="730.11" y="133.8" font-size="34.78" textLength="48.31" lengthAdjust="spacingAndGlyphs" fill="#000" style="font-family:'Liberation Sans',Arial,sans-serif;font-style:italic;">0.1</text>
<text x="780.01" y="117.8" font-size="61.59" textLength="76.46" lengthAdjust="spacingAndGlyphs" fill="#000" style="font-family:'Liberation Sans',Arial,sans-serif;">Co</text>
<text x="860.81" y="133.8" font-size="34.78" textLength="48.31" lengthAdjust="spacingAndGlyphs" fill="#000" style="font-family:'Liberation Sans',Arial,sans-serif;font-style:italic;">0.1</text>
<text x="909.67" y="117.8" font-size="61.59" textLength="15.46" lengthAdjust="spacingAndGlyphs" fill="#000" style="font-family:'Liberation Sans',Arial,sans-serif;">)</text>
<text x="934.45" y="133.8" font-size="34.78" textLength="43.21" lengthAdjust="spacingAndGlyphs" fill="#000" style="font-family:'Liberation Sans',Arial,sans-serif;font-style:italic;">1-x</text>
<text x="980.99" y="117.8" font-size="61.59" textLength="44.99" lengthAdjust="spacingAndGlyphs" fill="#000" style="font-family:'Liberation Sans',Arial,sans-serif;">O</text>
<text x="1028.56" y="133.8" font-size="34.78" textLength="17.08" lengthAdjust="spacingAndGlyphs" fill="#000" style="font-family:'Liberation Sans',Arial,sans-serif;font-style:italic;">2</text>
<text transform="translate(34.6 701.3) rotate(-90)" x="0" y="0" font-size="41.74" textLength="483.6" lengthAdjust="spacingAndGlyphs" fill="#000">Intensity ( Arbitrary unit)</text>
</svg></body></html>
